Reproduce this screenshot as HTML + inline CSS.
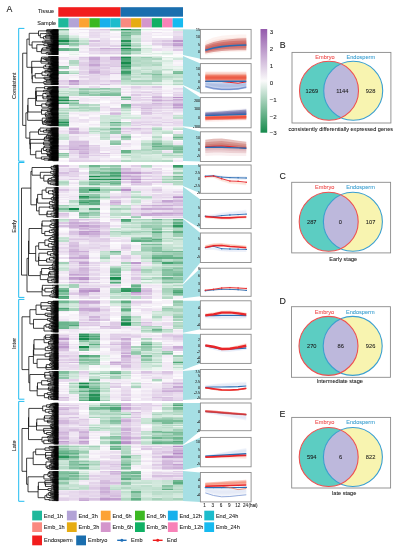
<!DOCTYPE html>
<html><head><meta charset="utf-8"><style>
html,body{margin:0;padding:0;background:#fff;}
body{width:398px;height:550px;position:relative;overflow:hidden;font-family:"Liberation Sans", Arial, sans-serif;}
</style></head><body>
<div style="position:absolute;left:58.30px;top:28.9px;width:10.45px;height:472.5px;background:linear-gradient(#67b38a 0 1.0px,#b1d8c3 0 1.7px,#d5eadf 0 3.0px,#cfe7da 0 4.3px,#c7e3d4 0 5.9px,#93c9ac 0 7.2px,#90c7aa 0 8.8px,#6eb690 0 10.8px,#168a4c 0 12.8px,#87c3a3 0 13.8px,#54a97c 0 15.8px,#f1e9f4 0 17.1px,#f1e9f4 0 17.8px,#fbf9fc 0 18.8px,#69b48c 0 20.4px,#66b28a 0 22.4px,#f6f2f8 0 24.0px,#faf7fb 0 25.0px,#fdfdfe 0 26.6px,#fbf9fc 0 27.9px,#ebdfef 0 28.9px,#efe6f3 0 30.9px,#f9f6fb 0 32.5px,#f7f2f9 0 33.5px,#f3edf6 0 35.1px,#f6f1f8 0 37.1px,#7dbe9b 0 38.1px,#9acdb2 0 39.7px,#f2ebf5 0 40.7px,#fbf9fc 0 41.7px,#efe6f3 0 42.4px,#86c2a2 0 43.7px,#6db68f 0 44.7px,#f6f1f8 0 45.7px,#f0e8f3 0 46.4px,#f6f1f8 0 47.1px,#f4eef6 0 49.1px,#f3edf6 0 50.7px,#e0cee7 0 52.7px,#e6d8eb 0 54.7px,#e3d3e9 0 56.7px,#dcc8e4 0 58.7px,#deefe6 0 59.7px,#d9ece2 0 61.0px,#dbede3 0 62.0px,#bedfcd 0 63.0px,#d8ece1 0 64.0px,#b4d9c5 0 65.0px,#cde6d9 0 67.0px,#8dc6a8 0 67.7px,#3e9e6b 0 68.7px,#74b994 0 70.3px,#65b288 0 71.0px,#168a4c 0 72.0px,#9ccdb3 0 73.0px,#7cbd9a 0 74.3px,#409f6c 0 75.3px,#f5f0f7 0 77.3px,#f8f4fa 0 78.0px,#efe6f3 0 79.0px,#b5dac6 0 80.0px,#c9e4d5 0 80.7px,#b8dbc8 0 81.7px,#d3e9dd 0 82.7px,#bedfcd 0 84.3px,#a3d1b9 0 85.3px,#cee6d9 0 86.0px,#aed6c1 0 87.3px,#bbddcb 0 88.3px,#b7dbc7 0 89.6px,#7ebe9c 0 90.3px,#7fbf9d 0 91.9px,#6cb58e 0 92.9px,#219055 0 94.2px,#69b48c 0 95.2px,#45a170 0 96.2px,#50a778 0 97.2px,#3f9e6b 0 97.9px,#fbf9fc 0 98.9px,#f2ebf5 0 99.6px,#f6f0f8 0 100.9px,#f0e7f3 0 102.5px,#ebdfef 0 103.5px,#efe6f3 0 104.5px,#e7d9ec 0 105.5px,#d2e8dc 0 106.8px,#cfe7da 0 107.8px,#c1e0cf 0 109.4px,#c4e2d2 0 110.7px,#f9f6fa 0 112.3px,#f6f1f8 0 113.9px,#f7f3f9 0 115.9px,#e1d1e8 0 117.5px,#e1d0e8 0 118.5px,#e9ddee 0 120.1px,#dbc7e3 0 121.1px,#fbf8fc 0 122.1px,#f8f5fa 0 123.7px,#8ac4a5 0 124.7px,#6eb690 0 125.4px,#add6c0 0 126.4px,#95caad 0 127.4px,#bcddcb 0 129.0px,#fdfbfd 0 131.0px,#f7f3f9 0 132.6px,#fff 0 135.6px,#eee5f2 0 136.3px,#d9c3e1 0 137.9px,#f3ecf6 0 139.5px,#e8dcee 0 140.8px,#e8dbed 0 141.8px,#e2d1e8 0 142.5px,#eadfef 0 143.2px,#d5bedf 0 145.2px,#e2d2e8 0 146.2px,#e0cee7 0 147.2px,#ece2f1 0 148.5px,#f1e9f4 0 149.5px,#eadfef 0 150.5px,#deefe6 0 152.5px,#b8dbc9 0 153.2px,#abd5be 0 154.2px,#b5dac6 0 154.9px,#bddecd 0 156.5px,#d7ebe0 0 157.2px,#d4eade 0 157.5px,#eee4f2 0 159.5px,#dfcee6 0 160.5px,#d9c4e2 0 161.5px,#d6bfdf 0 162.5px,#ebe0f0 0 164.1px,#f6f1f8 0 165.1px,#f0e8f3 0 166.7px,#f5eff7 0 168.0px,#ede4f1 0 169.0px,#f8f5fa 0 170.3px,#f2eaf5 0 171.3px,#f9f6fb 0 172.9px,#f1e9f4 0 174.5px,#f8f4fa 0 176.5px,#9dceb4 0 177.5px,#badcca 0 179.5px,#79bc98 0 181.1px,#b3d9c5 0 182.7px,#e9dcee 0 183.4px,#f1eaf4 0 184.4px,#d7c1e0 0 185.4px,#decce6 0 186.7px,#e6d8eb 0 188.3px,#eadeef 0 189.5px,#b7dbc8 0 190.5px,#c8e4d5 0 192.1px,#d5eadf 0 193.4px,#dbc6e3 0 195.0px,#efe7f3 0 196.3px,#d5bedf 0 197.9px,#ebe0f0 0 198.6px,#fbf9fc 0 199.6px,#fdfcfd 0 200.6px,#fbf9fc 0 201.9px,#f9f5fa 0 202.9px,#f6f1f8 0 204.5px,#efe5f2 0 205.8px,#f6f1f8 0 207.8px,#c9e4d5 0 208.8px,#c3e1d1 0 209.8px,#cfe7da 0 210.8px,#bbddcb 0 212.8px,#efe6f2 0 214.8px,#e9dcee 0 215.8px,#f2eaf5 0 217.8px,#e5d6eb 0 219.8px,#ede4f1 0 221.8px,#e4d5ea 0 223.1px,#e9ddee 0 224.4px,#efe6f3 0 225.7px,#decce6 0 226.4px,#fcfafd 0 228.0px,#e9ddee 0 229.6px,#fefefe 0 231.6px,#f6f1f8 0 233.2px,#a1d0b7 0 234.8px,#d3e9dd 0 235.8px,#d6eadf 0 237.1px,#e2f0e9 0 237.8px,#d1e8dc 0 239.1px,#c1e0d0 0 240.4px,#cae4d6 0 242.4px,#f1e9f4 0 244.4px,#f1e9f4 0 245.4px,#f8f3f9 0 246.4px,#f5f0f7 0 247.4px,#f3ecf5 0 248.4px,#ebe0f0 0 250.0px,#ebe0f0 0 251.0px,#f9f5fa 0 252.6px,#ebdfef 0 254.2px,#f6f1f8 0 255.1px,#b1d8c3 0 255.8px,#b7dbc8 0 257.4px,#d9ece2 0 258.4px,#dcede4 0 259.4px,#7abc99 0 261.4px,#59ab7f 0 262.7px,#8bc5a6 0 263.7px,#6db68f 0 264.4px,#80bf9e 0 266.0px,#bddecc 0 267.3px,#4ba575 0 268.3px,#5faf84 0 269.7px,#fff 0 271.4px,#b2d9c4 0 272.4px,#71b892 0 273.7px,#aad4be 0 275.0px,#bddecc 0 277.0px,#c2e1d0 0 277.7px,#b3d9c5 0 279.3px,#4ea677 0 280.0px,#76ba96 0 282.0px,#f3ecf5 0 283.0px,#faf7fb 0 285.0px,#fcfbfd 0 287.0px,#f5eff7 0 289.0px,#f5eff7 0 290.0px,#efe6f3 0 291.6px,#a5d2ba 0 292.9px,#69b38b 0 293.9px,#6cb58e 0 295.9px,#71b892 0 296.9px,#74b994 0 297.9px,#6fb790 0 298.9px,#68b38b 0 299.9px,#efe6f2 0 300.9px,#f2eaf5 0 301.9px,#f9f5fa 0 303.9px,#f9f5fa 0 304.2px,#eadeee 0 305.8px,#ddcae5 0 306.8px,#e3d4ea 0 308.4px,#d9c4e2 0 309.1px,#bc96cb 0 311.1px,#e6d8ec 0 312.4px,#dfcee6 0 313.4px,#d1b7db 0 314.7px,#c4a3d2 0 315.7px,#d3badd 0 316.7px,#be9acd 0 318.7px,#d0b6db 0 320.0px,#d7c1e0 0 321.6px,#e8dbed 0 322.6px,#d0b6db 0 323.3px,#eee4f2 0 324.3px,#e9dcee 0 325.0px,#eee5f2 0 326.0px,#dcc8e4 0 327.6px,#e7d9ec 0 328.9px,#eee5f2 0 329.9px,#e1d1e8 0 331.9px,#eee4f1 0 332.6px,#ddcae5 0 333.9px,#ece1f0 0 335.2px,#eadeee 0 336.5px,#e7daed 0 338.5px,#eee5f2 0 339.5px,#eadfef 0 340.8px,#dbc6e3 0 341.6px,#80bf9d 0 343.6px,#94c9ad 0 344.3px,#83c1a0 0 345.0px,#b3d9c5 0 346.0px,#9accb1 0 347.0px,#b6dac7 0 348.0px,#8dc6a8 0 350.0px,#e6d9ec 0 351.6px,#e7daed 0 352.6px,#e0cfe7 0 353.3px,#fcfafd 0 354.3px,#f1eaf4 0 355.3px,#fffeff 0 356.0px,#f2eaf5 0 357.3px,#f6f2f8 0 358.6px,#f4edf6 0 359.6px,#f6f1f8 0 360.3px,#f1e9f4 0 361.3px,#f7f3f9 0 362.3px,#f0e8f4 0 363.0px,#f9f6fb 0 364.6px,#ebe0f0 0 366.6px,#efe7f3 0 367.9px,#d3bbdd 0 369.5px,#e3d4e9 0 370.8px,#e0cfe7 0 371.5px,#fff 0 373.6px,#e5d6eb 0 374.3px,#ebe0f0 0 375.9px,#ddcae4 0 376.9px,#f6f1f8 0 377.9px,#d4bbdd 0 379.9px,#ccb0d8 0 380.9px,#e3d4ea 0 382.9px,#e0cfe7 0 383.9px,#decce6 0 384.9px,#d8c3e1 0 385.9px,#f0e7f3 0 387.9px,#e5d7eb 0 388.6px,#dfcde6 0 389.6px,#e1d0e7 0 391.2px,#d1b7db 0 392.8px,#d1b7db 0 394.8px,#e2d2e8 0 395.8px,#e5d6eb 0 397.1px,#ece1f0 0 398.4px,#e2d2e9 0 399.4px,#e0cfe7 0 400.1px,#dfcde6 0 401.7px,#d9c4e2 0 403.0px,#ceb3d9 0 404.3px,#d5bdde 0 406.3px,#decce5 0 407.3px,#d9c3e1 0 408.0px,#ceb3d9 0 409.6px,#dac5e2 0 410.6px,#e9dcee 0 412.2px,#c19fcf 0 413.2px,#d0b6db 0 414.8px,#ceb2d9 0 416.2px,#72b892 0 417.2px,#8cc5a6 0 418.2px,#bbddcb 0 419.5px,#94c9ad 0 421.1px,#80bf9d 0 422.4px,#6ab48d 0 424.4px,#57ab7e 0 425.4px,#83c1a0 0 426.1px,#6db68f 0 427.1px,#2b955c 0 429.1px,#84c1a0 0 430.1px,#88c3a4 0 431.1px,#cae4d6 0 432.1px,#cde6d9 0 433.1px,#c9e4d6 0 435.1px,#bcddcc 0 436.1px,#d6eae0 0 437.1px,#badcca 0 438.4px,#b7dbc8 0 440.4px,#d3e9dd 0 441.6px,#8fc7a9 0 442.6px,#7fbf9d 0 443.6px,#7abc99 0 444.6px,#89c4a4 0 446.2px,#8dc6a8 0 448.2px,#7abc99 0 449.2px,#6ab48d 0 451.2px,#b5dac6 0 453.2px,#92c8ab 0 455.2px,#b0d7c3 0 455.9px,#c9e4d6 0 457.9px,#b8dbc8 0 459.9px,#acd5bf 0 460.6px,#f1e9f4 0 461.6px,#ebe0f0 0 463.6px,#e5d6ea 0 464.3px,#e7daed 0 465.6px,#f3ecf5 0 467.6px,#decce6 0 468.3px,#e8dbed 0 469.3px,#e1d0e8 0 471.3px,#e3d3e9 0 472.5px)"></div>
<div style="position:absolute;left:68.69px;top:28.9px;width:10.45px;height:472.5px;background:linear-gradient(#f2ebf5 0 1.0px,#faf7fb 0 1.7px,#faf7fb 0 3.0px,#f9f6fa 0 4.3px,#f6f0f8 0 5.9px,#e3f1ea 0 7.2px,#d6eadf 0 8.8px,#b2d8c4 0 10.8px,#7cbd9a 0 12.8px,#bddecc 0 13.8px,#8dc6a7 0 15.8px,#a0cfb6 0 17.1px,#cfe7da 0 17.8px,#ebf5f0 0 18.8px,#89c4a4 0 20.4px,#7cbd9a 0 22.4px,#eef6f2 0 24.0px,#f3f9f5 0 25.0px,#e4f1ea 0 26.6px,#f6f1f8 0 27.9px,#f6f0f8 0 28.9px,#f2ebf5 0 30.9px,#b2d8c4 0 32.5px,#d8ebe1 0 33.5px,#b0d7c2 0 35.1px,#c6e2d3 0 37.1px,#f8f5fa 0 38.1px,#f4edf6 0 39.7px,#f8fcfa 0 40.7px,#ecf5f0 0 41.7px,#e8f3ed 0 42.4px,#cde6d9 0 43.7px,#aed6c1 0 44.7px,#f7f2f9 0 45.7px,#f5eff7 0 46.4px,#f0e7f3 0 47.1px,#f7f2f8 0 49.1px,#fbf8fc 0 50.7px,#bd98cc 0 52.7px,#ceb2d9 0 54.7px,#c6a6d3 0 56.7px,#ede3f1 0 58.7px,#c4e1d2 0 59.7px,#d1e8dc 0 61.0px,#e0efe7 0 62.0px,#c1e0cf 0 63.0px,#bedecd 0 64.0px,#c2e1d0 0 65.0px,#bfdfcd 0 67.0px,#f7f2f9 0 67.7px,#ece2f0 0 68.7px,#f8f4f9 0 70.3px,#f3ecf5 0 71.0px,#5cad82 0 72.0px,#b9dcc9 0 73.0px,#a4d1b9 0 74.3px,#80bf9e 0 75.3px,#a7d3bc 0 77.3px,#d1e8dc 0 78.0px,#c1e0cf 0 79.0px,#96caae 0 80.0px,#cee6d9 0 80.7px,#c7e3d4 0 81.7px,#d9ece2 0 82.7px,#f7f2f9 0 84.3px,#f1e9f4 0 85.3px,#f7f3f9 0 86.0px,#fbf8fc 0 87.3px,#f9f5fa 0 88.3px,#efe6f3 0 89.6px,#efe7f3 0 90.3px,#f1e9f4 0 91.9px,#eee5f2 0 92.9px,#f4eef6 0 94.2px,#f7f2f9 0 95.2px,#f7f3f9 0 96.2px,#f8f4fa 0 97.2px,#fcfbfd 0 97.9px,#e3d3e9 0 98.9px,#cdb0d8 0 99.6px,#c8a9d4 0 100.9px,#decce6 0 102.5px,#d1b6db 0 103.5px,#d0b6da 0 104.5px,#cfb5da 0 105.5px,#f2ebf5 0 106.8px,#e8dced 0 107.8px,#eadfef 0 109.4px,#eadfef 0 110.7px,#e5d6eb 0 112.3px,#d5bedf 0 113.9px,#d7c0e0 0 115.9px,#d5bedf 0 117.5px,#d4bcde 0 118.5px,#d1b8dc 0 120.1px,#c5a4d2 0 121.1px,#e6d7eb 0 122.1px,#e2d2e9 0 123.7px,#e0cee7 0 124.7px,#e0cee7 0 125.4px,#eee4f2 0 126.4px,#eadfef 0 127.4px,#f0e8f4 0 129.0px,#e9ddee 0 131.0px,#e2d1e8 0 132.6px,#fff 0 135.6px,#f4eef6 0 136.3px,#f1e8f4 0 137.9px,#f6f0f8 0 139.5px,#e0cfe7 0 140.8px,#e0cfe7 0 141.8px,#ceb3d9 0 142.5px,#d7c0e0 0 143.2px,#e4d5ea 0 145.2px,#e4d5ea 0 146.2px,#e6d7eb 0 147.2px,#e1d0e8 0 148.5px,#f1e8f4 0 149.5px,#dfcde6 0 150.5px,#fbf8fc 0 152.5px,#f9f5fa 0 153.2px,#f1e9f4 0 154.2px,#ede3f1 0 154.9px,#f9f5fa 0 156.5px,#f6f0f8 0 157.2px,#f9f6fb 0 157.5px,#f3edf6 0 159.5px,#ede3f1 0 160.5px,#ebdfef 0 161.5px,#efe6f2 0 162.5px,#f5eff7 0 164.1px,#f5f0f8 0 165.1px,#f3ecf5 0 166.7px,#ece1f0 0 168.0px,#f1eaf4 0 169.0px,#f0e8f4 0 170.3px,#f2ebf5 0 171.3px,#b5dac6 0 172.9px,#badcca 0 174.5px,#deeee6 0 176.5px,#c1e0cf 0 177.5px,#d1e8dc 0 179.5px,#168a4c 0 181.1px,#9eceb5 0 182.7px,#f8f4fa 0 183.4px,#f8f4fa 0 184.4px,#f8f5fa 0 185.4px,#f6f2f8 0 186.7px,#fbf9fc 0 188.3px,#faf7fb 0 189.5px,#d1b8db 0 190.5px,#d8c2e1 0 192.1px,#dbc7e3 0 193.4px,#c8aad5 0 195.0px,#d3badd 0 196.3px,#ccafd7 0 197.9px,#ceb2d9 0 198.6px,#dfcde6 0 199.6px,#f0e8f4 0 200.6px,#eadeef 0 201.9px,#d9c4e2 0 202.9px,#d8c2e1 0 204.5px,#dac6e3 0 205.8px,#e9ddee 0 207.8px,#ede3f1 0 208.8px,#e2d2e8 0 209.8px,#dbc6e3 0 210.8px,#e8dbed 0 212.8px,#dac5e2 0 214.8px,#d9c4e2 0 215.8px,#d3bbdd 0 217.8px,#dcc9e4 0 219.8px,#d1b7db 0 221.8px,#caacd6 0 223.1px,#d5bdde 0 224.4px,#d6bfdf 0 225.7px,#caacd6 0 226.4px,#ddcbe5 0 228.0px,#c8aad5 0 229.6px,#e7d9ec 0 231.6px,#d8c2e1 0 233.2px,#e4d5ea 0 234.8px,#ede4f1 0 235.8px,#e6d9ec 0 237.1px,#ece2f0 0 237.8px,#eadeef 0 239.1px,#e4d5ea 0 240.4px,#decce6 0 242.4px,#dac6e2 0 244.4px,#d9c4e2 0 245.4px,#c3a2d1 0 246.4px,#d1b7db 0 247.4px,#e7daed 0 248.4px,#c09dce 0 250.0px,#c8a9d4 0 251.0px,#eadeef 0 252.6px,#d2b8dc 0 254.2px,#ddcae5 0 255.1px,#64b188 0 255.8px,#a3d1b8 0 257.4px,#a4d1b9 0 258.4px,#a9d4bd 0 259.4px,#f6f1f8 0 261.4px,#eee5f2 0 262.7px,#e4d5ea 0 263.7px,#d9c4e2 0 264.4px,#dcc8e4 0 266.0px,#f6f1f8 0 267.3px,#f0e8f3 0 268.3px,#f3edf6 0 269.7px,#fff 0 271.4px,#d0e7db 0 272.4px,#9ccdb3 0 273.7px,#cae4d6 0 275.0px,#d5eadf 0 277.0px,#cce5d8 0 277.7px,#dfefe6 0 279.3px,#aed7c1 0 280.0px,#abd5be 0 282.0px,#fbf8fc 0 283.0px,#fcfafd 0 285.0px,#f6f1f8 0 287.0px,#f8f4f9 0 289.0px,#f7f2f8 0 290.0px,#faf6fb 0 291.6px,#b6dbc7 0 292.9px,#79bc98 0 293.9px,#76ba96 0 295.9px,#50a779 0 296.9px,#aad4bd 0 297.9px,#b8dbc9 0 298.9px,#b3d9c5 0 299.9px,#efe6f3 0 300.9px,#f0e8f3 0 301.9px,#f0e8f4 0 303.9px,#f4eef7 0 304.2px,#ede2f1 0 305.8px,#f6f1f8 0 306.8px,#eee4f2 0 308.4px,#f2ebf5 0 309.1px,#e9ddee 0 311.1px,#fdfdfe 0 312.4px,#faf7fb 0 313.4px,#f9f6fa 0 314.7px,#ede3f1 0 315.7px,#f6f1f8 0 316.7px,#efe7f3 0 318.7px,#efe6f3 0 320.0px,#f9f6fb 0 321.6px,#efe6f3 0 322.6px,#e3d4ea 0 323.3px,#eadeef 0 324.3px,#e8dbed 0 325.0px,#ece1f0 0 326.0px,#e3d3e9 0 327.6px,#eadeee 0 328.9px,#e7d9ec 0 329.9px,#decbe5 0 331.9px,#efe6f3 0 332.6px,#d4bbdd 0 333.9px,#f7f3f9 0 335.2px,#ece1f0 0 336.5px,#e7daed 0 338.5px,#e7d9ec 0 339.5px,#ebdfef 0 340.8px,#e4d4ea 0 341.6px,#b3d9c4 0 343.6px,#bfdfce 0 344.3px,#c0dfcf 0 345.0px,#d3e9de 0 346.0px,#d1e8dc 0 347.0px,#c8e3d5 0 348.0px,#d7ebe1 0 350.0px,#e2d2e9 0 351.6px,#eee4f2 0 352.6px,#e5d7eb 0 353.3px,#d9ece2 0 354.3px,#a3d1b9 0 355.3px,#d8ebe1 0 356.0px,#c8e3d5 0 357.3px,#b9dcc9 0 358.6px,#d7ebe0 0 359.6px,#cbe5d7 0 360.3px,#c7e3d4 0 361.3px,#c6e2d3 0 362.3px,#a6d2ba 0 363.0px,#bfdfce 0 364.6px,#f4eef6 0 366.6px,#f1e9f4 0 367.9px,#f6f1f8 0 369.5px,#f2ebf5 0 370.8px,#f4eff7 0 371.5px,#fff 0 373.6px,#dfcde6 0 374.3px,#eee5f2 0 375.9px,#dfcee6 0 376.9px,#eee5f2 0 377.9px,#dbc7e3 0 379.9px,#e7daed 0 380.9px,#ece1f0 0 382.9px,#e3d4e9 0 383.9px,#ddcae5 0 384.9px,#ddcae5 0 385.9px,#f1e8f4 0 387.9px,#d6c0e0 0 388.6px,#e9ddee 0 389.6px,#ede3f1 0 391.2px,#e1cfe7 0 392.8px,#dcc9e4 0 394.8px,#e8dbed 0 395.8px,#eee5f2 0 397.1px,#f3ecf6 0 398.4px,#e5d7eb 0 399.4px,#e2d2e9 0 400.1px,#d6bfdf 0 401.7px,#e3d3e9 0 403.0px,#efe6f3 0 404.3px,#efe6f3 0 406.3px,#f0e7f3 0 407.3px,#f3ecf6 0 408.0px,#eadeef 0 409.6px,#e8dcee 0 410.6px,#e6d8ec 0 412.2px,#e3d4e9 0 413.2px,#ddc9e4 0 414.8px,#e8dced 0 416.2px,#b0d8c3 0 417.2px,#a0cfb6 0 418.2px,#c5e2d3 0 419.5px,#bddecc 0 421.1px,#82c09f 0 422.4px,#83c1a0 0 424.4px,#63b187 0 425.4px,#89c4a5 0 426.1px,#a7d3bb 0 427.1px,#66b289 0 429.1px,#98cbb0 0 430.1px,#abd5be 0 431.1px,#b1d8c3 0 432.1px,#7cbd9b 0 433.1px,#8cc5a7 0 435.1px,#7fbf9d 0 436.1px,#8fc7a9 0 437.1px,#9bcdb2 0 438.4px,#87c3a3 0 440.4px,#c5e2d2 0 441.6px,#9fcfb6 0 442.6px,#89c4a4 0 443.6px,#68b38b 0 444.6px,#a5d2ba 0 446.2px,#77bb96 0 448.2px,#9accb1 0 449.2px,#86c2a2 0 451.2px,#cfe7da 0 453.2px,#dcede4 0 455.2px,#c7e3d4 0 455.9px,#c3e1d1 0 457.9px,#cee6d9 0 459.9px,#afd7c2 0 460.6px,#f1e9f4 0 461.6px,#e6d8ec 0 463.6px,#f0e7f3 0 464.3px,#e9dcee 0 465.6px,#e7daed 0 467.6px,#ddcae5 0 468.3px,#e9ddee 0 469.3px,#e5d6eb 0 471.3px,#efe5f2 0 472.5px)"></div>
<div style="position:absolute;left:79.08px;top:28.9px;width:10.45px;height:472.5px;background:linear-gradient(#ebe0f0 0 1.0px,#fbf9fc 0 1.7px,#fcfafd 0 3.0px,#f4edf6 0 4.3px,#faf7fb 0 5.9px,#fcfafc 0 7.2px,#f6f1f8 0 8.8px,#e1f0e8 0 10.8px,#c6e2d3 0 12.8px,#d0e7db 0 13.8px,#b6dac7 0 15.8px,#eee4f1 0 17.1px,#f4eef7 0 17.8px,#f5f0f7 0 18.8px,#f1eaf4 0 20.4px,#f6f1f8 0 22.4px,#efe7f3 0 24.0px,#fcfafd 0 25.0px,#f8f4fa 0 26.6px,#f5f0f7 0 27.9px,#dcc8e4 0 28.9px,#e3d4e9 0 30.9px,#eadeef 0 32.5px,#efe6f3 0 33.5px,#e0cfe7 0 35.1px,#decbe5 0 37.1px,#e4d6ea 0 38.1px,#e4d6ea 0 39.7px,#e5d7eb 0 40.7px,#ede3f1 0 41.7px,#f0e8f4 0 42.4px,#e1d1e8 0 43.7px,#e4d6ea 0 44.7px,#e3d4ea 0 45.7px,#e8dbed 0 46.4px,#f2ebf5 0 47.1px,#e4d5ea 0 49.1px,#f1e8f4 0 50.7px,#e1d0e8 0 52.7px,#e3d4e9 0 54.7px,#e1d1e8 0 56.7px,#f4eef7 0 58.7px,#a2d0b7 0 59.7px,#90c7aa 0 61.0px,#b5dac6 0 62.0px,#9ccdb3 0 63.0px,#95caae 0 64.0px,#7bbd9a 0 65.0px,#9ecfb5 0 67.0px,#f9f6fb 0 67.7px,#f3edf6 0 68.7px,#f0e7f3 0 70.3px,#efe7f3 0 71.0px,#efe6f3 0 72.0px,#f2eaf5 0 73.0px,#faf7fb 0 74.3px,#ede3f1 0 75.3px,#a7d3bc 0 77.3px,#c1e0cf 0 78.0px,#add6c0 0 79.0px,#afd7c2 0 80.0px,#c6e2d3 0 80.7px,#b5dac6 0 81.7px,#d2e8dc 0 82.7px,#f4eef6 0 84.3px,#f5f0f7 0 85.3px,#f0e7f3 0 86.0px,#f0e8f4 0 87.3px,#f9f5fa 0 88.3px,#fcfafd 0 89.6px,#f0e7f3 0 90.3px,#ebe0f0 0 91.9px,#eee4f1 0 92.9px,#f0e8f3 0 94.2px,#fcfafc 0 95.2px,#f9f5fa 0 96.2px,#f8f4fa 0 97.2px,#ece2f1 0 97.9px,#f4edf6 0 98.9px,#f1e9f4 0 99.6px,#efe6f2 0 100.9px,#f1e9f4 0 102.5px,#e7d9ec 0 103.5px,#ddcae4 0 104.5px,#decce5 0 105.5px,#f2eaf5 0 106.8px,#f0e7f3 0 107.8px,#f6f1f8 0 109.4px,#f6f1f8 0 110.7px,#ebe0f0 0 112.3px,#d6bfdf 0 113.9px,#d9c4e1 0 115.9px,#caacd6 0 117.5px,#ceb3d9 0 118.5px,#d4bcde 0 120.1px,#cdb0d8 0 121.1px,#d8c2e1 0 122.1px,#d2b9dc 0 123.7px,#c7a8d4 0 124.7px,#c8aad5 0 125.4px,#decce6 0 126.4px,#ddc9e4 0 127.4px,#d9c4e2 0 129.0px,#e9dcee 0 131.0px,#e3d3e9 0 132.6px,#fff 0 135.6px,#cfe7da 0 136.3px,#c2e0d0 0 137.9px,#d1e8db 0 139.5px,#f3ecf6 0 140.8px,#fdfdfe 0 141.8px,#efe7f3 0 142.5px,#faf8fb 0 143.2px,#eadeef 0 145.2px,#efe6f3 0 146.2px,#f8f4f9 0 147.2px,#eee4f2 0 148.5px,#f2ebf5 0 149.5px,#ece2f1 0 150.5px,#dcede4 0 152.5px,#c2e0d0 0 153.2px,#acd5bf 0 154.2px,#b2d9c4 0 154.9px,#b3d9c4 0 156.5px,#deefe6 0 157.2px,#d2e9dd 0 157.5px,#84c1a1 0 159.5px,#7cbd9a 0 160.5px,#6bb48d 0 161.5px,#87c3a3 0 162.5px,#72b893 0 164.1px,#d5eadf 0 165.1px,#9eceb4 0 166.7px,#229055 0 168.0px,#3f9e6b 0 169.0px,#67b38a 0 170.3px,#a3d1b9 0 171.3px,#63b187 0 172.9px,#3b9d69 0 174.5px,#78bb97 0 176.5px,#c5e2d2 0 177.5px,#dfefe6 0 179.5px,#c8e4d5 0 181.1px,#d5eadf 0 182.7px,#8fc7a9 0 183.4px,#96caaf 0 184.4px,#68b38b 0 185.4px,#84c1a0 0 186.7px,#b4d9c5 0 188.3px,#8ac4a5 0 189.5px,#d8c2e1 0 190.5px,#e7daed 0 192.1px,#f4edf6 0 193.4px,#ccb0d8 0 195.0px,#dbc7e3 0 196.3px,#bd98cc 0 197.9px,#d4bbdd 0 198.6px,#cdb1d8 0 199.6px,#d4bdde 0 200.6px,#e6d8ec 0 201.9px,#bf9bcd 0 202.9px,#c3a2d1 0 204.5px,#c09dce 0 205.8px,#dfcce6 0 207.8px,#eadeef 0 208.8px,#e2d2e9 0 209.8px,#dac6e2 0 210.8px,#ebe0ef 0 212.8px,#f4eef6 0 214.8px,#ebe0f0 0 215.8px,#e9ddee 0 217.8px,#e6d7eb 0 219.8px,#e4d5ea 0 221.8px,#cbaed7 0 223.1px,#decbe5 0 224.4px,#dfcde6 0 225.7px,#d5bedf 0 226.4px,#cdb2d9 0 228.0px,#c4a3d1 0 229.6px,#e7d9ec 0 231.6px,#d5bedf 0 233.2px,#c2a0d0 0 234.8px,#ddcae4 0 235.8px,#cfb4d9 0 237.1px,#e8dbed 0 237.8px,#d8c2e1 0 239.1px,#ceb3d9 0 240.4px,#d0b6da 0 242.4px,#d4bcde 0 244.4px,#d7c0e0 0 245.4px,#caacd6 0 246.4px,#d0b6db 0 247.4px,#e8dbed 0 248.4px,#ba93c9 0 250.0px,#b68dc7 0 251.0px,#e3d3e9 0 252.6px,#caadd6 0 254.2px,#decbe5 0 255.1px,#e0cfe7 0 255.8px,#e2d2e9 0 257.4px,#e7d9ec 0 258.4px,#ece1f0 0 259.4px,#ceb2d9 0 261.4px,#bb96cb 0 262.7px,#c5a4d2 0 263.7px,#c4a2d1 0 264.4px,#d0b6db 0 266.0px,#ddcae5 0 267.3px,#e4d5ea 0 268.3px,#ebe0f0 0 269.7px,#fff 0 271.4px,#ddcae5 0 272.4px,#c7a7d3 0 273.7px,#ceb2d9 0 275.0px,#dfcee6 0 277.0px,#decbe5 0 277.7px,#ddc9e4 0 279.3px,#c6a6d3 0 280.0px,#c9abd5 0 282.0px,#ddcae4 0 283.0px,#decce5 0 285.0px,#e3d3e9 0 287.0px,#ebe0f0 0 289.0px,#eee4f2 0 290.0px,#e5d6eb 0 291.6px,#f0e7f3 0 292.9px,#d7c0e0 0 293.9px,#e3d3e9 0 295.9px,#dcc8e4 0 296.9px,#efe7f3 0 297.9px,#f6f1f8 0 298.9px,#efe5f2 0 299.9px,#ede3f1 0 300.9px,#f9f5fa 0 301.9px,#f7f2f9 0 303.9px,#f2eaf5 0 304.2px,#2f965f 0 305.8px,#47a271 0 306.8px,#1b8c50 0 308.4px,#5cad82 0 309.1px,#168a4c 0 311.1px,#8cc5a7 0 312.4px,#84c1a1 0 313.4px,#c0dfce 0 314.7px,#bfdfce 0 315.7px,#d6eadf 0 316.7px,#168a4c 0 318.7px,#85c2a1 0 320.0px,#84c1a0 0 321.6px,#fefdfe 0 322.6px,#f3edf6 0 323.3px,#f1e9f4 0 324.3px,#f9f5fa 0 325.0px,#f2eaf5 0 326.0px,#4aa474 0 327.6px,#90c7aa 0 328.9px,#a6d2bb 0 329.9px,#7ebe9c 0 331.9px,#b7dbc7 0 332.6px,#88c3a4 0 333.9px,#a2d0b7 0 335.2px,#b7dbc8 0 336.5px,#cfe7da 0 338.5px,#d4eade 0 339.5px,#d7ebe0 0 340.8px,#bfdfce 0 341.6px,#e0cfe7 0 343.6px,#e2d2e9 0 344.3px,#e6d9ec 0 345.0px,#eadeef 0 346.0px,#f1e9f4 0 347.0px,#ece2f0 0 348.0px,#f3edf6 0 350.0px,#f8f4fa 0 351.6px,#f6f0f8 0 352.6px,#f5eff7 0 353.3px,#9accb1 0 354.3px,#168a4c 0 355.3px,#85c2a1 0 356.0px,#6bb48d 0 357.3px,#229055 0 358.6px,#99ccb0 0 359.6px,#96caae 0 360.3px,#a7d3bc 0 361.3px,#92c8ab 0 362.3px,#60af85 0 363.0px,#b2d8c4 0 364.6px,#8cc5a7 0 366.6px,#a7d3bc 0 367.9px,#76ba96 0 369.5px,#91c8aa 0 370.8px,#5fae84 0 371.5px,#fff 0 373.6px,#f1e9f4 0 374.3px,#eee5f2 0 375.9px,#f4edf6 0 376.9px,#f1eaf4 0 377.9px,#f2eaf5 0 379.9px,#f3ecf5 0 380.9px,#fdfcfe 0 382.9px,#f4eef7 0 383.9px,#faf7fb 0 384.9px,#f5eff7 0 385.9px,#f1eaf4 0 387.9px,#f2eaf5 0 388.6px,#eee4f2 0 389.6px,#ddcae4 0 391.2px,#e6d7eb 0 392.8px,#e8dbed 0 394.8px,#e6d7eb 0 395.8px,#decce6 0 397.1px,#f4eff7 0 398.4px,#e5d7eb 0 399.4px,#ece1f0 0 400.1px,#e0cfe7 0 401.7px,#d0b5da 0 403.0px,#cbafd7 0 404.3px,#d9c4e1 0 406.3px,#d9c3e1 0 407.3px,#d2b9dc 0 408.0px,#c6a6d3 0 409.6px,#e5d7eb 0 410.6px,#dfcee6 0 412.2px,#c29fcf 0 413.2px,#caacd6 0 414.8px,#d9c3e1 0 416.2px,#c4e1d1 0 417.2px,#add6c0 0 418.2px,#deefe6 0 419.5px,#cbe5d7 0 421.1px,#bcdecc 0 422.4px,#9dceb3 0 424.4px,#add6c0 0 425.4px,#dceee4 0 426.1px,#cde6d9 0 427.1px,#b5dac6 0 429.1px,#dcede4 0 430.1px,#e6f2eb 0 431.1px,#bfdfce 0 432.1px,#8fc7a9 0 433.1px,#b3d9c5 0 435.1px,#61b086 0 436.1px,#93c9ac 0 437.1px,#aed6c0 0 438.4px,#71b892 0 440.4px,#b1d8c3 0 441.6px,#daede3 0 442.6px,#dbede3 0 443.6px,#bbddcb 0 444.6px,#dbede3 0 446.2px,#a7d3bc 0 448.2px,#c2e0d0 0 449.2px,#a9d4bd 0 451.2px,#f1e9f4 0 453.2px,#f6f1f8 0 455.2px,#f0e8f4 0 455.9px,#c6e2d3 0 457.9px,#bbddca 0 459.9px,#c4e1d2 0 460.6px,#ebdfef 0 461.6px,#e1cfe7 0 463.6px,#ece2f1 0 464.3px,#e4d4ea 0 465.6px,#e8dbed 0 467.6px,#d7c0e0 0 468.3px,#e3d3e9 0 469.3px,#ceb3d9 0 471.3px,#c7a8d4 0 472.5px)"></div>
<div style="position:absolute;left:89.47px;top:28.9px;width:10.45px;height:472.5px;background:linear-gradient(#e7daed 0 1.0px,#e9ddee 0 1.7px,#eee4f2 0 3.0px,#e6d8eb 0 4.3px,#e9dcee 0 5.9px,#e6d8ec 0 7.2px,#e9dcee 0 8.8px,#f5eff7 0 10.8px,#d7c0e0 0 12.8px,#efe5f2 0 13.8px,#e2d2e8 0 15.8px,#e0cee7 0 17.1px,#e6d7eb 0 17.8px,#f3edf6 0 18.8px,#decbe5 0 20.4px,#e1d0e7 0 22.4px,#eadeef 0 24.0px,#e7d9ec 0 25.0px,#f4edf6 0 26.6px,#e7d9ec 0 27.9px,#c7a8d4 0 28.9px,#c6a6d3 0 30.9px,#d2b9dc 0 32.5px,#e7daed 0 33.5px,#d4bcde 0 35.1px,#c5a4d2 0 37.1px,#d5bdde 0 38.1px,#ddcae5 0 39.7px,#d6c0df 0 40.7px,#d6bedf 0 41.7px,#d8c2e1 0 42.4px,#caacd6 0 43.7px,#d1b8dc 0 44.7px,#e7daed 0 45.7px,#decce5 0 46.4px,#e3d4e9 0 47.1px,#e6d7eb 0 49.1px,#e4d5ea 0 50.7px,#e3d3e9 0 52.7px,#e8dbed 0 54.7px,#e7d9ec 0 56.7px,#e8dbed 0 58.7px,#a9d4bd 0 59.7px,#97cbaf 0 61.0px,#cce5d7 0 62.0px,#b5dac6 0 63.0px,#9fcfb5 0 64.0px,#aed7c1 0 65.0px,#90c7a9 0 67.0px,#faf6fb 0 67.7px,#efe5f2 0 68.7px,#f8f4fa 0 70.3px,#f0e7f3 0 71.0px,#f3ecf5 0 72.0px,#f4eff7 0 73.0px,#faf7fb 0 74.3px,#faf7fb 0 75.3px,#b8dbc8 0 77.3px,#d7ebe0 0 78.0px,#b0d7c2 0 79.0px,#b0d8c3 0 80.0px,#b2d8c4 0 80.7px,#bedecd 0 81.7px,#dcede4 0 82.7px,#f2ebf5 0 84.3px,#f5eff7 0 85.3px,#f6f0f8 0 86.0px,#fbf8fc 0 87.3px,#faf7fb 0 88.3px,#efe6f3 0 89.6px,#fefefe 0 90.3px,#f2ebf5 0 91.9px,#fcfafc 0 92.9px,#faf7fb 0 94.2px,#faf7fb 0 95.2px,#f1e9f4 0 96.2px,#f6f1f8 0 97.2px,#f7f3f9 0 97.9px,#cce5d8 0 98.9px,#bbddcb 0 99.6px,#bddecc 0 100.9px,#d2e8dc 0 102.5px,#b5dac6 0 103.5px,#d8ebe1 0 104.5px,#a9d4bd 0 105.5px,#f4edf6 0 106.8px,#fbf9fc 0 107.8px,#f6f0f8 0 109.4px,#f5eff7 0 110.7px,#f6f1f8 0 112.3px,#f6f1f8 0 113.9px,#f8f5fa 0 115.9px,#e0cee7 0 117.5px,#e7d9ec 0 118.5px,#e1d1e8 0 120.1px,#dfcee6 0 121.1px,#e0cfe7 0 122.1px,#e2d2e9 0 123.7px,#e5d6eb 0 124.7px,#e3d4e9 0 125.4px,#ebdfef 0 126.4px,#dfcee7 0 127.4px,#efe7f3 0 129.0px,#eee4f2 0 131.0px,#e3d3e9 0 132.6px,#fff 0 135.6px,#b9dcc9 0 136.3px,#6fb790 0 137.9px,#a4d1b9 0 139.5px,#aed6c0 0 140.8px,#b4d9c5 0 141.8px,#97cbaf 0 142.5px,#85c1a1 0 143.2px,#8ac4a5 0 145.2px,#b0d7c2 0 146.2px,#a2d0b7 0 147.2px,#168a4c 0 148.5px,#97cbaf 0 149.5px,#168a4c 0 150.5px,#b5dac6 0 152.5px,#97cbaf 0 153.2px,#7ebe9c 0 154.2px,#88c3a4 0 154.9px,#71b892 0 156.5px,#c7e3d4 0 157.2px,#afd7c1 0 157.5px,#82c09f 0 159.5px,#3c9d69 0 160.5px,#168a4c 0 161.5px,#41a06d 0 162.5px,#a2d0b8 0 164.1px,#d5eadf 0 165.1px,#92c8ab 0 166.7px,#7ebe9c 0 168.0px,#65b188 0 169.0px,#9eceb5 0 170.3px,#b1d8c3 0 171.3px,#53a87b 0 172.9px,#6ab48d 0 174.5px,#61af85 0 176.5px,#d3e9dd 0 177.5px,#e1f0e8 0 179.5px,#54a97b 0 181.1px,#bcddcc 0 182.7px,#7ebe9c 0 183.4px,#93c9ac 0 184.4px,#9accb2 0 185.4px,#a1d0b7 0 186.7px,#d8ece1 0 188.3px,#b7dbc8 0 189.5px,#ddcae5 0 190.5px,#ede3f1 0 192.1px,#e6d9ec 0 193.4px,#d6bedf 0 195.0px,#e2d2e9 0 196.3px,#caadd6 0 197.9px,#ceb3d9 0 198.6px,#decce6 0 199.6px,#d4bcde 0 200.6px,#dcc8e4 0 201.9px,#be9acd 0 202.9px,#cdb1d8 0 204.5px,#caacd6 0 205.8px,#d7c1e0 0 207.8px,#e2d2e9 0 208.8px,#e3d4e9 0 209.8px,#e3d3e9 0 210.8px,#e1d0e8 0 212.8px,#ebdfef 0 214.8px,#e5d7eb 0 215.8px,#e8dcee 0 217.8px,#e2d2e8 0 219.8px,#eee5f2 0 221.8px,#f4edf6 0 223.1px,#f2ebf5 0 224.4px,#f9f6fa 0 225.7px,#f4eef7 0 226.4px,#f8f5fa 0 228.0px,#f0e8f4 0 229.6px,#fbf9fc 0 231.6px,#f7f3f9 0 233.2px,#e3d4ea 0 234.8px,#efe6f3 0 235.8px,#e6d7eb 0 237.1px,#f5eff7 0 237.8px,#e7daed 0 239.1px,#ebe0f0 0 240.4px,#e2d2e9 0 242.4px,#eee4f2 0 244.4px,#e6d8ec 0 245.4px,#e4d5ea 0 246.4px,#e7daec 0 247.4px,#f4eef7 0 248.4px,#e3d3e9 0 250.0px,#ddcbe5 0 251.0px,#f6f1f8 0 252.6px,#dfcee7 0 254.2px,#ebe0f0 0 255.1px,#e4d5ea 0 255.8px,#e8dced 0 257.4px,#e6d9ec 0 258.4px,#ede3f1 0 259.4px,#cbaed6 0 261.4px,#b68dc6 0 262.7px,#e7daec 0 263.7px,#e2d2e9 0 264.4px,#e6d8ec 0 266.0px,#f3ecf5 0 267.3px,#e8dcee 0 268.3px,#e5d7eb 0 269.7px,#fff 0 271.4px,#e1d1e8 0 272.4px,#c8a9d4 0 273.7px,#cfb4da 0 275.0px,#ebe0f0 0 277.0px,#e6d8ec 0 277.7px,#dcc8e4 0 279.3px,#c8aad5 0 280.0px,#c5a5d2 0 282.0px,#d3badd 0 283.0px,#e7daec 0 285.0px,#e7daed 0 287.0px,#ceb3d9 0 289.0px,#decce6 0 290.0px,#d0b6db 0 291.6px,#f0e8f4 0 292.9px,#ddcae5 0 293.9px,#e2d1e8 0 295.9px,#dcc8e4 0 296.9px,#f3ecf6 0 297.9px,#f9f5fa 0 298.9px,#f0e8f4 0 299.9px,#f2ebf5 0 300.9px,#f9f6fb 0 301.9px,#efe6f3 0 303.9px,#ece1f0 0 304.2px,#6eb68f 0 305.8px,#7dbe9b 0 306.8px,#52a87a 0 308.4px,#7bbd9a 0 309.1px,#55aa7c 0 311.1px,#b9dcc9 0 312.4px,#add6c0 0 313.4px,#a3d1b8 0 314.7px,#5bad81 0 315.7px,#afd7c1 0 316.7px,#acd6c0 0 318.7px,#d0e7db 0 320.0px,#d7ebe0 0 321.6px,#faf8fb 0 322.6px,#f7f3f9 0 323.3px,#fbf9fc 0 324.3px,#f4eff7 0 325.0px,#f8f5fa 0 326.0px,#62b086 0 327.6px,#97cbaf 0 328.9px,#bbddcb 0 329.9px,#87c3a3 0 331.9px,#a0cfb6 0 332.6px,#92c9ac 0 333.9px,#a8d3bc 0 335.2px,#9bcdb2 0 336.5px,#f8f5fa 0 338.5px,#f8f5fa 0 339.5px,#fefdfe 0 340.8px,#eadeee 0 341.6px,#d6ebe0 0 343.6px,#b9dcc9 0 344.3px,#a8d3bc 0 345.0px,#c8e3d5 0 346.0px,#e7f3ec 0 347.0px,#c4e1d2 0 348.0px,#c1e0cf 0 350.0px,#70b791 0 351.6px,#cce5d8 0 352.6px,#b1d8c3 0 353.3px,#acd5bf 0 354.3px,#7dbe9b 0 355.3px,#a8d3bc 0 356.0px,#a3d1b8 0 357.3px,#89c4a4 0 358.6px,#64b188 0 359.6px,#78bb97 0 360.3px,#8ac4a5 0 361.3px,#47a372 0 362.3px,#419f6d 0 363.0px,#73b994 0 364.6px,#259157 0 366.6px,#4ea677 0 367.9px,#2b945c 0 369.5px,#2a945b 0 370.8px,#168a4c 0 371.5px,#fff 0 373.6px,#bddecc 0 374.3px,#dbede3 0 375.9px,#badcca 0 376.9px,#c8e3d4 0 377.9px,#77bb97 0 379.9px,#74b994 0 380.9px,#c2e1d0 0 382.9px,#b6dac7 0 383.9px,#b8dbc8 0 384.9px,#bbddcb 0 385.9px,#d8ebe1 0 387.9px,#a7d3bb 0 388.6px,#faf7fb 0 389.6px,#f1e9f4 0 391.2px,#f6f1f8 0 392.8px,#f5eff7 0 394.8px,#daece2 0 395.8px,#c2e0d0 0 397.1px,#e3f1ea 0 398.4px,#a9d4bd 0 399.4px,#c6e3d4 0 400.1px,#b5dac6 0 401.7px,#f2ebf5 0 403.0px,#efe6f2 0 404.3px,#f7f2f8 0 406.3px,#f2ebf5 0 407.3px,#f9f6fa 0 408.0px,#f3ecf6 0 409.6px,#fdfcfe 0 410.6px,#f7f2f9 0 412.2px,#f9f5fa 0 413.2px,#f9f6fb 0 414.8px,#faf6fb 0 416.2px,#b2d8c4 0 417.2px,#a2d0b8 0 418.2px,#c0dfce 0 419.5px,#c4e1d1 0 421.1px,#f9f6fa 0 422.4px,#f7f3f9 0 424.4px,#f2ebf5 0 425.4px,#f5eff7 0 426.1px,#faf8fb 0 427.1px,#f9f5fa 0 429.1px,#f3ecf5 0 430.1px,#f5eff7 0 431.1px,#e2f0e9 0 432.1px,#b1d8c3 0 433.1px,#badcca 0 435.1px,#a6d2ba 0 436.1px,#c0e0cf 0 437.1px,#d5eade 0 438.4px,#cee6d9 0 440.4px,#c3e1d1 0 441.6px,#f6f2f8 0 442.6px,#f4edf6 0 443.6px,#f0e7f3 0 444.6px,#efe6f3 0 446.2px,#e0cfe7 0 448.2px,#eee4f2 0 449.2px,#e5d6ea 0 451.2px,#f0e8f4 0 453.2px,#e4d5ea 0 455.2px,#eadeef 0 455.9px,#e5d6ea 0 457.9px,#dcc9e4 0 459.9px,#e1d0e8 0 460.6px,#ece2f0 0 461.6px,#e3d4ea 0 463.6px,#ece1f0 0 464.3px,#e7d9ec 0 465.6px,#e3d4ea 0 467.6px,#ece2f1 0 468.3px,#ebe1f0 0 469.3px,#d8c3e1 0 471.3px,#e4d4ea 0 472.5px)"></div>
<div style="position:absolute;left:99.87px;top:28.9px;width:10.45px;height:472.5px;background:linear-gradient(#dbc7e3 0 1.0px,#eadeef 0 1.7px,#efe6f2 0 3.0px,#eadeee 0 4.3px,#f2ebf5 0 5.9px,#eee4f2 0 7.2px,#f1e9f4 0 8.8px,#ebe0f0 0 10.8px,#e7daed 0 12.8px,#e9dcee 0 13.8px,#e6d8eb 0 15.8px,#e3d4ea 0 17.1px,#ece1f0 0 17.8px,#efe6f3 0 18.8px,#cbadd6 0 20.4px,#dbc7e3 0 22.4px,#e4d5ea 0 24.0px,#decce5 0 25.0px,#f3ecf5 0 26.6px,#f3ecf6 0 27.9px,#e1d0e8 0 28.9px,#e2d2e9 0 30.9px,#e1d0e8 0 32.5px,#f1eaf4 0 33.5px,#e7d9ec 0 35.1px,#ddcae5 0 37.1px,#e5d6eb 0 38.1px,#decce6 0 39.7px,#e8daed 0 40.7px,#e3d3e9 0 41.7px,#ede3f1 0 42.4px,#dfcce6 0 43.7px,#dfcde6 0 44.7px,#dcc8e4 0 45.7px,#e8daed 0 46.4px,#e6d8ec 0 47.1px,#ebe0f0 0 49.1px,#eee5f2 0 50.7px,#e5d6eb 0 52.7px,#ede2f1 0 54.7px,#d7c0e0 0 56.7px,#f6f1f8 0 58.7px,#8cc5a7 0 59.7px,#a3d1b8 0 61.0px,#cce5d8 0 62.0px,#a1d0b7 0 63.0px,#a8d3bc 0 64.0px,#87c3a2 0 65.0px,#7abc99 0 67.0px,#fcfafd 0 67.7px,#eadfef 0 68.7px,#f3ecf5 0 70.3px,#f5eff7 0 71.0px,#f8f5fa 0 72.0px,#fefdfe 0 73.0px,#fefdfe 0 74.3px,#f4edf6 0 75.3px,#f5f0f7 0 77.3px,#eee4f2 0 78.0px,#ebdfef 0 79.0px,#f0e7f3 0 80.0px,#f1e9f4 0 80.7px,#eee5f2 0 81.7px,#f8f4fa 0 82.7px,#fbf9fc 0 84.3px,#eee4f2 0 85.3px,#f8f4f9 0 86.0px,#d0e7db 0 87.3px,#cee7da 0 88.3px,#cee6d9 0 89.6px,#c0e0cf 0 90.3px,#d1e8dc 0 91.9px,#d1e8dc 0 92.9px,#b9dcc9 0 94.2px,#c7e3d4 0 95.2px,#cee7da 0 96.2px,#cde6d8 0 97.2px,#aed6c1 0 97.9px,#c4e1d1 0 98.9px,#bedecd 0 99.6px,#a4d1b9 0 100.9px,#c2e0d0 0 102.5px,#d5eadf 0 103.5px,#b7dbc8 0 104.5px,#aed6c1 0 105.5px,#c7e3d4 0 106.8px,#c6e3d3 0 107.8px,#b5dac6 0 109.4px,#c6e2d3 0 110.7px,#fbf9fc 0 112.3px,#f8f4f9 0 113.9px,#f6f2f8 0 115.9px,#f7f3f9 0 117.5px,#f8f5fa 0 118.5px,#efe6f3 0 120.1px,#f1e8f4 0 121.1px,#ede2f1 0 122.1px,#f9f5fa 0 123.7px,#dbc6e3 0 124.7px,#e4d5ea 0 125.4px,#f2eaf5 0 126.4px,#e3d3e9 0 127.4px,#f0e8f4 0 129.0px,#f6f0f8 0 131.0px,#eee5f2 0 132.6px,#fff 0 135.6px,#d3e9de 0 136.3px,#9ccdb3 0 137.9px,#d3e9dd 0 139.5px,#95caad 0 140.8px,#b1d8c3 0 141.8px,#87c3a3 0 142.5px,#a3d1b8 0 143.2px,#6db68f 0 145.2px,#a8d3bc 0 146.2px,#82c09f 0 147.2px,#4ea677 0 148.5px,#98cbb0 0 149.5px,#2d965e 0 150.5px,#acd6c0 0 152.5px,#a5d2ba 0 153.2px,#72b892 0 154.2px,#b4d9c5 0 154.9px,#b1d8c3 0 156.5px,#c6e2d3 0 157.2px,#cae4d6 0 157.5px,#c5e2d2 0 159.5px,#b4dac6 0 160.5px,#9dceb4 0 161.5px,#9bcdb2 0 162.5px,#b7dbc8 0 164.1px,#d8ece1 0 165.1px,#d3e9de 0 166.7px,#c0dfce 0 168.0px,#9fcfb5 0 169.0px,#cee6d9 0 170.3px,#e3f1e9 0 171.3px,#faf7fb 0 172.9px,#f8f4f9 0 174.5px,#f1e9f4 0 176.5px,#f4edf6 0 177.5px,#f9f5fa 0 179.5px,#f8f4fa 0 181.1px,#fdfcfd 0 182.7px,#f2ebf5 0 183.4px,#f9f6fa 0 184.4px,#ece1f0 0 185.4px,#f7f3f9 0 186.7px,#f1e9f4 0 188.3px,#f4eef6 0 189.5px,#faf7fb 0 190.5px,#faf7fb 0 192.1px,#fefdfe 0 193.4px,#e2d2e9 0 195.0px,#e5d7eb 0 196.3px,#dac5e2 0 197.9px,#e1d0e8 0 198.6px,#e3d3e9 0 199.6px,#e8dbed 0 200.6px,#ede2f1 0 201.9px,#dfcee6 0 202.9px,#dcc9e4 0 204.5px,#dac6e3 0 205.8px,#ebe0f0 0 207.8px,#f2ebf5 0 208.8px,#e0cfe7 0 209.8px,#ddcae5 0 210.8px,#e1d0e7 0 212.8px,#ede3f1 0 214.8px,#eee4f2 0 215.8px,#e3d4e9 0 217.8px,#e9ddee 0 219.8px,#ebdfef 0 221.8px,#c1e0cf 0 223.1px,#cbe5d7 0 224.4px,#c8e3d5 0 225.7px,#c0dfce 0 226.4px,#b6dac7 0 228.0px,#9eceb5 0 229.6px,#dfefe7 0 231.6px,#d7ebe0 0 233.2px,#eadfef 0 234.8px,#f9f5fa 0 235.8px,#f5eff7 0 237.1px,#faf7fb 0 237.8px,#f6f1f8 0 239.1px,#f2ebf5 0 240.4px,#f2eaf5 0 242.4px,#f1e9f4 0 244.4px,#f5eff7 0 245.4px,#f5f0f7 0 246.4px,#f1eaf5 0 247.4px,#fdfcfe 0 248.4px,#eee5f2 0 250.0px,#f7f3f9 0 251.0px,#f6f0f8 0 252.6px,#f1e9f4 0 254.2px,#f9f6fb 0 255.1px,#e2d2e8 0 255.8px,#ece2f0 0 257.4px,#e4d5ea 0 258.4px,#ece2f0 0 259.4px,#f6f1f8 0 261.4px,#f4edf6 0 262.7px,#f4eef7 0 263.7px,#f1e9f4 0 264.4px,#f0e8f3 0 266.0px,#f3ecf6 0 267.3px,#efe6f2 0 268.3px,#f7f3f9 0 269.7px,#fff 0 271.4px,#f1e9f4 0 272.4px,#eee4f2 0 273.7px,#f2eaf5 0 275.0px,#faf7fb 0 277.0px,#e8daed 0 277.7px,#ede3f1 0 279.3px,#eadeef 0 280.0px,#dfcce6 0 282.0px,#e9dcee 0 283.0px,#ebe0ef 0 285.0px,#e5d6eb 0 287.0px,#eadeef 0 289.0px,#e8dcee 0 290.0px,#dcc9e4 0 291.6px,#fdfbfd 0 292.9px,#f1e9f4 0 293.9px,#f0e7f3 0 295.9px,#f2eaf5 0 296.9px,#d3badd 0 297.9px,#e2d2e9 0 298.9px,#e2d1e8 0 299.9px,#f8f5fa 0 300.9px,#f8f4f9 0 301.9px,#f6f1f8 0 303.9px,#f6f1f8 0 304.2px,#f3ecf6 0 305.8px,#f3edf6 0 306.8px,#f4eef6 0 308.4px,#f4eef7 0 309.1px,#eee5f2 0 311.1px,#f6f1f8 0 312.4px,#fbf8fc 0 313.4px,#fbf9fc 0 314.7px,#ebe0f0 0 315.7px,#f5eff7 0 316.7px,#ece2f1 0 318.7px,#fbf9fc 0 320.0px,#fbf9fc 0 321.6px,#f6f1f8 0 322.6px,#efe7f3 0 323.3px,#f6f1f8 0 324.3px,#f3ecf6 0 325.0px,#f3ecf6 0 326.0px,#e0efe7 0 327.6px,#f1f8f4 0 328.9px,#e5f2eb 0 329.9px,#ebf5f0 0 331.9px,#fdfcfe 0 332.6px,#f1e9f4 0 333.9px,#f8f4fa 0 335.2px,#f1eaf4 0 336.5px,#e5f2eb 0 338.5px,#e8f3ed 0 339.5px,#f4faf7 0 340.8px,#e0efe7 0 341.6px,#bedecd 0 343.6px,#cae4d6 0 344.3px,#a1d0b7 0 345.0px,#eaf5ef 0 346.0px,#c9e4d5 0 347.0px,#e8f3ed 0 348.0px,#cae4d6 0 350.0px,#f4eef6 0 351.6px,#f9f6fb 0 352.6px,#f4edf6 0 353.3px,#d0e7db 0 354.3px,#c1e0cf 0 355.3px,#d9ece2 0 356.0px,#d3e9dd 0 357.3px,#d0e7db 0 358.6px,#b5dac6 0 359.6px,#cfe7da 0 360.3px,#cde6d9 0 361.3px,#bddecc 0 362.3px,#baddca 0 363.0px,#dfefe6 0 364.6px,#cde6d8 0 366.6px,#bedecd 0 367.9px,#c3e1d1 0 369.5px,#cbe5d7 0 370.8px,#9eceb4 0 371.5px,#fff 0 373.6px,#8ac4a5 0 374.3px,#a1d0b7 0 375.9px,#6bb48d 0 376.9px,#c3e1d1 0 377.9px,#6ab48c 0 379.9px,#89c4a4 0 380.9px,#c2e0d0 0 382.9px,#c3e1d1 0 383.9px,#b2d8c4 0 384.9px,#abd5bf 0 385.9px,#cfe7da 0 387.9px,#b7dbc8 0 388.6px,#c3e1d1 0 389.6px,#cde6d8 0 391.2px,#a7d3bc 0 392.8px,#b2d9c4 0 394.8px,#cae4d6 0 395.8px,#cce5d7 0 397.1px,#d5eadf 0 398.4px,#c5e2d2 0 399.4px,#aed6c1 0 400.1px,#cae5d7 0 401.7px,#f2ebf5 0 403.0px,#f0e8f3 0 404.3px,#f7f3f9 0 406.3px,#f7f3f9 0 407.3px,#bfdfce 0 408.0px,#9accb1 0 409.6px,#cae4d6 0 410.6px,#ddeee5 0 412.2px,#b4d9c6 0 413.2px,#b2d8c4 0 414.8px,#d8ece1 0 416.2px,#f8f4fa 0 417.2px,#eee4f2 0 418.2px,#fbf9fc 0 419.5px,#f9f5fa 0 421.1px,#f8f4f9 0 422.4px,#f2eaf5 0 424.4px,#efe5f2 0 425.4px,#f4edf6 0 426.1px,#f3ecf6 0 427.1px,#ece1f0 0 429.1px,#f5eff7 0 430.1px,#fcfafd 0 431.1px,#ede3f1 0 432.1px,#e5d6eb 0 433.1px,#e1d0e7 0 435.1px,#dfcde6 0 436.1px,#ebe0f0 0 437.1px,#eadeef 0 438.4px,#e4d5ea 0 440.4px,#eadeef 0 441.6px,#dfcde6 0 442.6px,#e5d7eb 0 443.6px,#e9dcee 0 444.6px,#ece2f0 0 446.2px,#e3d3e9 0 448.2px,#e5d6eb 0 449.2px,#e4d5ea 0 451.2px,#d6bfdf 0 453.2px,#d2b9dc 0 455.2px,#dfcde6 0 455.9px,#dcc8e4 0 457.9px,#ccb0d8 0 459.9px,#ceb3d9 0 460.6px,#d5bedf 0 461.6px,#caadd6 0 463.6px,#dcc8e4 0 464.3px,#d5bdde 0 465.6px,#ddc9e4 0 467.6px,#d7c0e0 0 468.3px,#d5bedf 0 469.3px,#be9acd 0 471.3px,#d5bdde 0 472.5px)"></div>
<div style="position:absolute;left:110.26px;top:28.9px;width:10.45px;height:472.5px;background:linear-gradient(#a2d0b8 0 1.0px,#c0dfcf 0 1.7px,#f9f6fa 0 3.0px,#fcfafd 0 4.3px,#f6f1f8 0 5.9px,#f7f3f9 0 7.2px,#f3ecf6 0 8.8px,#fdfbfd 0 10.8px,#eee4f2 0 12.8px,#f4edf6 0 13.8px,#f1e9f4 0 15.8px,#e1d1e8 0 17.1px,#e1d0e8 0 17.8px,#f7f2f9 0 18.8px,#cfb5da 0 20.4px,#decce6 0 22.4px,#e8dbed 0 24.0px,#e0cfe7 0 25.0px,#f3ecf5 0 26.6px,#e4d5ea 0 27.9px,#c4a3d1 0 28.9px,#cbaed7 0 30.9px,#e0cee7 0 32.5px,#e5d6eb 0 33.5px,#e0cee7 0 35.1px,#dfcee6 0 37.1px,#dbc6e3 0 38.1px,#ede2f1 0 39.7px,#eadeee 0 40.7px,#ede3f1 0 41.7px,#e5d7eb 0 42.4px,#e9ddee 0 43.7px,#dac5e2 0 44.7px,#f4eef7 0 45.7px,#f7f3f9 0 46.4px,#f6f0f8 0 47.1px,#f6f0f8 0 49.1px,#f7f2f9 0 50.7px,#d9c4e2 0 52.7px,#e6d8ec 0 54.7px,#eadfef 0 56.7px,#f6f1f8 0 58.7px,#a6d2ba 0 59.7px,#a9d4bd 0 61.0px,#b6dac7 0 62.0px,#b9dcc9 0 63.0px,#9fcfb5 0 64.0px,#86c2a2 0 65.0px,#7ebe9c 0 67.0px,#f6f1f8 0 67.7px,#f2ebf5 0 68.7px,#f7f3f9 0 70.3px,#f7f2f9 0 71.0px,#f2ebf5 0 72.0px,#f6f1f8 0 73.0px,#f1e8f4 0 74.3px,#efe5f2 0 75.3px,#f7f2f9 0 77.3px,#fbf9fc 0 78.0px,#f8f4fa 0 79.0px,#ddcae4 0 80.0px,#e4d5ea 0 80.7px,#e2d1e8 0 81.7px,#f2ebf5 0 82.7px,#dfcde6 0 84.3px,#d1b7db 0 85.3px,#d7c1e0 0 86.0px,#cfe7da 0 87.3px,#c8e4d5 0 88.3px,#d2e9dd 0 89.6px,#d1e8dc 0 90.3px,#c5e2d3 0 91.9px,#cfe7da 0 92.9px,#65b289 0 94.2px,#a2d0b8 0 95.2px,#99ccb1 0 96.2px,#91c8ab 0 97.2px,#85c2a1 0 97.9px,#b6dac7 0 98.9px,#6db68f 0 99.6px,#7abc98 0 100.9px,#b4d9c6 0 102.5px,#95caad 0 103.5px,#96caaf 0 104.5px,#87c3a3 0 105.5px,#f1eaf4 0 106.8px,#ede2f1 0 107.8px,#ebdfef 0 109.4px,#f6f0f8 0 110.7px,#bddecc 0 112.3px,#98cbb0 0 113.9px,#87c3a3 0 115.9px,#fcfafd 0 117.5px,#ede3f1 0 118.5px,#f0e8f4 0 120.1px,#ece1f0 0 121.1px,#f1e9f4 0 122.1px,#efe7f3 0 123.7px,#ece1f0 0 124.7px,#f1eaf4 0 125.4px,#f9f5fa 0 126.4px,#f4edf6 0 127.4px,#fcfbfd 0 129.0px,#f4eef7 0 131.0px,#e7d9ec 0 132.6px,#fff 0 135.6px,#b7dbc8 0 136.3px,#90c7aa 0 137.9px,#b2d8c4 0 139.5px,#8cc5a7 0 140.8px,#97cbaf 0 141.8px,#78bb97 0 142.5px,#98cbb0 0 143.2px,#4ea677 0 145.2px,#73b993 0 146.2px,#46a271 0 147.2px,#57ab7e 0 148.5px,#93c9ac 0 149.5px,#168a4c 0 150.5px,#bcddcb 0 152.5px,#83c1a0 0 153.2px,#7bbd9a 0 154.2px,#69b38b 0 154.9px,#8ec6a8 0 156.5px,#b1d8c3 0 157.2px,#b3d9c4 0 157.5px,#cfe7da 0 159.5px,#b4d9c5 0 160.5px,#9dceb3 0 161.5px,#b7dbc8 0 162.5px,#faf7fb 0 164.1px,#f1eaf4 0 165.1px,#eee5f2 0 166.7px,#e3d3e9 0 168.0px,#decce5 0 169.0px,#e9dcee 0 170.3px,#f3ecf5 0 171.3px,#d5bedf 0 172.9px,#c8a9d4 0 174.5px,#d8c1e0 0 176.5px,#c0dfcf 0 177.5px,#d8ece1 0 179.5px,#a4d1b9 0 181.1px,#cfe7da 0 182.7px,#b0d7c2 0 183.4px,#cce5d8 0 184.4px,#bcddcb 0 185.4px,#bcddcb 0 186.7px,#e3f1ea 0 188.3px,#c9e4d5 0 189.5px,#dfcee6 0 190.5px,#eadeee 0 192.1px,#efe6f3 0 193.4px,#f8f5fa 0 195.0px,#f9f6fb 0 196.3px,#ece2f1 0 197.9px,#f8f5fa 0 198.6px,#d0e8db 0 199.6px,#cee7da 0 200.6px,#e5f2eb 0 201.9px,#aad4be 0 202.9px,#bedecd 0 204.5px,#c3e1d1 0 205.8px,#cfe7da 0 207.8px,#f6f0f8 0 208.8px,#eee4f2 0 209.8px,#f6f1f8 0 210.8px,#ece1f0 0 212.8px,#fdfcfe 0 214.8px,#f9f5fa 0 215.8px,#f9f6fb 0 217.8px,#f8f3f9 0 219.8px,#efe6f2 0 221.8px,#70b791 0 223.1px,#97cbaf 0 224.4px,#aed6c1 0 225.7px,#6eb68f 0 226.4px,#f7f2f9 0 228.0px,#ede3f1 0 229.6px,#f8f4f9 0 231.6px,#f3ecf5 0 233.2px,#f5eff7 0 234.8px,#f7f3f9 0 235.8px,#f0e7f3 0 237.1px,#c0e0cf 0 237.8px,#acd5bf 0 239.1px,#85c2a1 0 240.4px,#7abc99 0 242.4px,#74b994 0 244.4px,#9bcdb2 0 245.4px,#88c3a4 0 246.4px,#70b791 0 247.4px,#b9dcc9 0 248.4px,#168a4c 0 250.0px,#2b955c 0 251.0px,#b1d8c3 0 252.6px,#50a779 0 254.2px,#46a271 0 255.1px,#e3d3e9 0 255.8px,#e2d2e8 0 257.4px,#eee5f2 0 258.4px,#f5eff7 0 259.4px,#add6c0 0 261.4px,#9eceb5 0 262.7px,#97cbaf 0 263.7px,#b9dcc9 0 264.4px,#c6e3d3 0 266.0px,#ddeee5 0 267.3px,#bcdecc 0 268.3px,#c1e0cf 0 269.7px,#fff 0 271.4px,#d3e9de 0 272.4px,#b0d7c2 0 273.7px,#d0e7db 0 275.0px,#daede3 0 277.0px,#f1eaf4 0 277.7px,#fdfcfe 0 279.3px,#f4eef7 0 280.0px,#f5eff7 0 282.0px,#faf8fb 0 283.0px,#f1e9f4 0 285.0px,#f2ebf5 0 287.0px,#f9f6fb 0 289.0px,#ffffff 0 290.0px,#fbf8fc 0 291.6px,#efe6f2 0 292.9px,#ddcbe5 0 293.9px,#decbe5 0 295.9px,#e1d0e8 0 296.9px,#d9c4e1 0 297.9px,#dbc7e3 0 298.9px,#d8c2e1 0 299.9px,#fbf8fc 0 300.9px,#faf8fb 0 301.9px,#f6f1f8 0 303.9px,#f4eef7 0 304.2px,#dfcde6 0 305.8px,#e2d2e9 0 306.8px,#e0cfe7 0 308.4px,#e1d0e8 0 309.1px,#ddc9e4 0 311.1px,#f4edf6 0 312.4px,#eee5f2 0 313.4px,#e2d1e8 0 314.7px,#d4bcde 0 315.7px,#eee5f2 0 316.7px,#eadfef 0 318.7px,#e6d8ec 0 320.0px,#e3d4e9 0 321.6px,#f2eaf5 0 322.6px,#e8dbed 0 323.3px,#efe6f3 0 324.3px,#f1e9f4 0 325.0px,#f4eef6 0 326.0px,#f9f5fa 0 327.6px,#f8f5fa 0 328.9px,#efe6f3 0 329.9px,#f7f2f9 0 331.9px,#e2d2e8 0 332.6px,#c5a4d2 0 333.9px,#d7c1e0 0 335.2px,#d1b7db 0 336.5px,#f3ecf6 0 338.5px,#f7f3f9 0 339.5px,#fdfcfd 0 340.8px,#f9f5fa 0 341.6px,#7cbd9a 0 343.6px,#a8d3bc 0 344.3px,#60af85 0 345.0px,#c5e2d3 0 346.0px,#c6e2d3 0 347.0px,#a4d1b9 0 348.0px,#a8d3bc 0 350.0px,#f0e8f4 0 351.6px,#f3ecf6 0 352.6px,#f9f6fa 0 353.3px,#f4eef7 0 354.3px,#decce5 0 355.3px,#ebe0f0 0 356.0px,#e9ddee 0 357.3px,#ddcbe5 0 358.6px,#faf8fb 0 359.6px,#faf6fb 0 360.3px,#f6f2f8 0 361.3px,#f3ecf5 0 362.3px,#efe7f3 0 363.0px,#f5f0f7 0 364.6px,#f1e9f4 0 366.6px,#f0e7f3 0 367.9px,#ede3f1 0 369.5px,#f3ecf6 0 370.8px,#f8f5fa 0 371.5px,#fff 0 373.6px,#9ccdb3 0 374.3px,#b4d9c5 0 375.9px,#77ba96 0 376.9px,#aad4be 0 377.9px,#4da576 0 379.9px,#4ba575 0 380.9px,#94caad 0 382.9px,#bfdfce 0 383.9px,#afd7c1 0 384.9px,#aad4be 0 385.9px,#c8e4d5 0 387.9px,#9eceb5 0 388.6px,#a9d4bd 0 389.6px,#aed6c1 0 391.2px,#7fbf9d 0 392.8px,#90c7aa 0 394.8px,#c7e3d4 0 395.8px,#d6ebe0 0 397.1px,#edf6f1 0 398.4px,#cce5d8 0 399.4px,#bddecc 0 400.1px,#c4e1d2 0 401.7px,#cfe7da 0 403.0px,#cfe7da 0 404.3px,#bcddcb 0 406.3px,#daece2 0 407.3px,#83c1a0 0 408.0px,#8ec6a8 0 409.6px,#aed6c1 0 410.6px,#c3e1d1 0 412.2px,#6fb790 0 413.2px,#62b086 0 414.8px,#a2d0b8 0 416.2px,#87c3a3 0 417.2px,#6bb58d 0 418.2px,#92c8ab 0 419.5px,#6ab48c 0 421.1px,#f9f5fa 0 422.4px,#eadeee 0 424.4px,#eee4f2 0 425.4px,#f7f2f8 0 426.1px,#e7daed 0 427.1px,#e9ddee 0 429.1px,#e7d9ec 0 430.1px,#f3ecf6 0 431.1px,#f0e8f3 0 432.1px,#e4d6ea 0 433.1px,#e5d6eb 0 435.1px,#d8c3e1 0 436.1px,#e4d5ea 0 437.1px,#dfcde6 0 438.4px,#e6d9ec 0 440.4px,#e3d4e9 0 441.6px,#ccb0d8 0 442.6px,#d8c2e1 0 443.6px,#d0b6db 0 444.6px,#d8c1e0 0 446.2px,#e4d5ea 0 448.2px,#e5d7eb 0 449.2px,#e2d2e9 0 451.2px,#e5d6eb 0 453.2px,#d4bcde 0 455.2px,#e3d3e9 0 455.9px,#d1e8dc 0 457.9px,#c6e2d3 0 459.9px,#b9dcca 0 460.6px,#e2d2e8 0 461.6px,#dcc8e4 0 463.6px,#e3d3e9 0 464.3px,#dac5e2 0 465.6px,#d4bcde 0 467.6px,#d5bdde 0 468.3px,#e1d0e7 0 469.3px,#c2a0d0 0 471.3px,#dbc6e3 0 472.5px)"></div>
<div style="position:absolute;left:120.65px;top:28.9px;width:10.45px;height:472.5px;background:linear-gradient(#168a4c 0 1.0px,#88c3a4 0 1.7px,#abd5bf 0 3.0px,#6db68f 0 4.3px,#85c2a1 0 5.9px,#6db68f 0 7.2px,#90c7aa 0 8.8px,#97cbaf 0 10.8px,#29935a 0 12.8px,#86c2a2 0 13.8px,#5cad82 0 15.8px,#168a4c 0 17.1px,#70b791 0 17.8px,#a3d1b8 0 18.8px,#168a4c 0 20.4px,#65b289 0 22.4px,#8bc5a6 0 24.0px,#71b792 0 25.0px,#a7d3bb 0 26.6px,#9accb2 0 27.9px,#168a4c 0 28.9px,#46a271 0 30.9px,#4da676 0 32.5px,#7dbe9b 0 33.5px,#168a4c 0 35.1px,#4fa778 0 37.1px,#319761 0 38.1px,#5bad81 0 39.7px,#8cc5a7 0 40.7px,#7fbf9d 0 41.7px,#89c4a4 0 42.4px,#3c9d69 0 43.7px,#44a170 0 44.7px,#79bc98 0 45.7px,#95caae 0 46.4px,#8ec6a9 0 47.1px,#a8d3bc 0 49.1px,#9ccdb3 0 50.7px,#b9dcc9 0 52.7px,#c6e3d4 0 54.7px,#cee7da 0 56.7px,#ece1f0 0 58.7px,#f7f2f9 0 59.7px,#f2eaf5 0 61.0px,#f8f5fa 0 62.0px,#f4edf6 0 63.0px,#eee4f2 0 64.0px,#faf7fb 0 65.0px,#f4eef7 0 67.0px,#b4d9c6 0 67.7px,#61b086 0 68.7px,#afd7c1 0 70.3px,#85c2a2 0 71.0px,#f1eaf5 0 72.0px,#f6f1f8 0 73.0px,#f5f0f7 0 74.3px,#f2ebf5 0 75.3px,#6cb58e 0 77.3px,#7abc99 0 78.0px,#91c8aa 0 79.0px,#b0d7c2 0 80.0px,#cde6d9 0 80.7px,#bddecc 0 81.7px,#dfefe7 0 82.7px,#e0efe7 0 84.3px,#c8e3d5 0 85.3px,#ddeee5 0 86.0px,#d7ebe0 0 87.3px,#e1f0e8 0 88.3px,#cee7da 0 89.6px,#f2ebf5 0 90.3px,#f6f1f8 0 91.9px,#fefdfe 0 92.9px,#add6c0 0 94.2px,#c2e0d0 0 95.2px,#c3e1d1 0 96.2px,#cee7da 0 97.2px,#bfdfce 0 97.9px,#eadfef 0 98.9px,#dcc8e4 0 99.6px,#e3d4e9 0 100.9px,#f0e7f3 0 102.5px,#dfcce6 0 103.5px,#ece2f0 0 104.5px,#d3badd 0 105.5px,#c2e0d0 0 106.8px,#85c2a1 0 107.8px,#82c09f 0 109.4px,#a5d2ba 0 110.7px,#f4eef7 0 112.3px,#faf7fb 0 113.9px,#ebdfef 0 115.9px,#f2ebf5 0 117.5px,#f0e8f3 0 118.5px,#f8f3f9 0 120.1px,#f6f1f8 0 121.1px,#66b289 0 122.1px,#6ab48c 0 123.7px,#aad4be 0 124.7px,#b6dac7 0 125.4px,#e0f0e7 0 126.4px,#b1d8c3 0 127.4px,#d5eade 0 129.0px,#e4f1ea 0 131.0px,#b0d8c3 0 132.6px,#fff 0 135.6px,#f7f2f9 0 136.3px,#efe6f2 0 137.9px,#f4eef7 0 139.5px,#d4bcdd 0 140.8px,#dbc7e3 0 141.8px,#c7a8d4 0 142.5px,#d7c1e0 0 143.2px,#c09cce 0 145.2px,#e1d1e8 0 146.2px,#ceb3d9 0 147.2px,#c7a7d3 0 148.5px,#dcc9e4 0 149.5px,#c3a2d1 0 150.5px,#f5eff7 0 152.5px,#e1d0e8 0 153.2px,#e0cee7 0 154.2px,#f0e8f4 0 154.9px,#faf7fb 0 156.5px,#f4edf6 0 157.2px,#f4eef6 0 157.5px,#decbe5 0 159.5px,#c6a5d2 0 160.5px,#b891c8 0 161.5px,#cbaed7 0 162.5px,#e1d1e8 0 164.1px,#ebe0ef 0 165.1px,#e9dcee 0 166.7px,#e0cee7 0 168.0px,#decbe5 0 169.0px,#f3edf6 0 170.3px,#f6f0f8 0 171.3px,#ede3f1 0 172.9px,#eee4f2 0 174.5px,#f7f3f9 0 176.5px,#bfdfce 0 177.5px,#cde6d9 0 179.5px,#b0d7c2 0 181.1px,#e1f0e8 0 182.7px,#b7dbc8 0 183.4px,#d7ebe1 0 184.4px,#aed6c1 0 185.4px,#b4d9c5 0 186.7px,#fbf9fc 0 188.3px,#efe6f3 0 189.5px,#47a372 0 190.5px,#52a87a 0 192.1px,#66b28a 0 193.4px,#c2e0d0 0 195.0px,#e2f0e8 0 196.3px,#cae4d6 0 197.9px,#bcdecc 0 198.6px,#ddeee5 0 199.6px,#ddeee5 0 200.6px,#d2e8dd 0 201.9px,#b5dac6 0 202.9px,#9accb2 0 204.5px,#b2d9c4 0 205.8px,#dfefe6 0 207.8px,#f2ebf5 0 208.8px,#f3edf6 0 209.8px,#eee4f2 0 210.8px,#e9ddee 0 212.8px,#f7f2f9 0 214.8px,#e8dbed 0 215.8px,#e2d2e9 0 217.8px,#dcc9e4 0 219.8px,#eadeee 0 221.8px,#f7f2f8 0 223.1px,#f3ecf6 0 224.4px,#f5eff7 0 225.7px,#f7f2f8 0 226.4px,#e1d1e8 0 228.0px,#dcc8e4 0 229.6px,#ebe0f0 0 231.6px,#ebdfef 0 233.2px,#a8d3bc 0 234.8px,#e5f2eb 0 235.8px,#c4e1d2 0 237.1px,#ddeee5 0 237.8px,#cbe5d7 0 239.1px,#d5eadf 0 240.4px,#cae4d6 0 242.4px,#f6f1f8 0 244.4px,#f9f6fa 0 245.4px,#f1eaf4 0 246.4px,#f5f0f7 0 247.4px,#f5f0f7 0 248.4px,#f6f1f8 0 250.0px,#f3ecf5 0 251.0px,#f3ecf6 0 252.6px,#f4eff7 0 254.2px,#f5eff7 0 255.1px,#f7f2f8 0 255.8px,#f6f1f8 0 257.4px,#fefdfe 0 258.4px,#f3edf6 0 259.4px,#399c67 0 261.4px,#2b955c 0 262.7px,#cce5d8 0 263.7px,#c7e3d4 0 264.4px,#bbddcb 0 266.0px,#cce6d8 0 267.3px,#baddca 0 268.3px,#c5e2d2 0 269.7px,#fff 0 271.4px,#b0d7c2 0 272.4px,#5dae82 0 273.7px,#9dceb4 0 275.0px,#b6dac7 0 277.0px,#a0cfb6 0 277.7px,#c0dfcf 0 279.3px,#7dbe9b 0 280.0px,#61b085 0 282.0px,#98cbb0 0 283.0px,#c3e1d1 0 285.0px,#badcca 0 287.0px,#61b086 0 289.0px,#75b995 0 290.0px,#45a170 0 291.6px,#98cbb0 0 292.9px,#399b67 0 293.9px,#168a4c 0 295.9px,#41a06d 0 296.9px,#f3ecf5 0 297.9px,#e9ddee 0 298.9px,#f0e7f3 0 299.9px,#f6f2f8 0 300.9px,#f8f4fa 0 301.9px,#f2ebf5 0 303.9px,#f6f1f8 0 304.2px,#e0cfe7 0 305.8px,#e0cee7 0 306.8px,#e5d6eb 0 308.4px,#eadfef 0 309.1px,#c8a9d4 0 311.1px,#dcc8e4 0 312.4px,#e2d2e9 0 313.4px,#ceb3d9 0 314.7px,#c8a9d4 0 315.7px,#d7c0e0 0 316.7px,#ceb2d9 0 318.7px,#d1b7db 0 320.0px,#d7c1e0 0 321.6px,#dfcee7 0 322.6px,#ccb0d8 0 323.3px,#d5bdde 0 324.3px,#c7a8d4 0 325.0px,#e8daed 0 326.0px,#c7a7d4 0 327.6px,#d1b7db 0 328.9px,#dbc6e3 0 329.9px,#d8c2e1 0 331.9px,#decce6 0 332.6px,#d1b7db 0 333.9px,#e6d8ec 0 335.2px,#dbc7e3 0 336.5px,#d2b9dc 0 338.5px,#d8c2e1 0 339.5px,#eadfef 0 340.8px,#bf9bcd 0 341.6px,#bbddcb 0 343.6px,#c8e3d5 0 344.3px,#b4d9c5 0 345.0px,#deefe6 0 346.0px,#bedecd 0 347.0px,#daede3 0 348.0px,#d6eae0 0 350.0px,#f5eff7 0 351.6px,#f0e8f4 0 352.6px,#f4eef7 0 353.3px,#f4edf6 0 354.3px,#eee5f2 0 355.3px,#f8f4f9 0 356.0px,#fbf9fc 0 357.3px,#ebe0f0 0 358.6px,#eadfef 0 359.6px,#ece1f0 0 360.3px,#eadeef 0 361.3px,#e6d7eb 0 362.3px,#e7d9ec 0 363.0px,#e9ddee 0 364.6px,#e0cee7 0 366.6px,#eee4f2 0 367.9px,#e3d4e9 0 369.5px,#e3d4e9 0 370.8px,#d5bdde 0 371.5px,#fff 0 373.6px,#d5bdde 0 374.3px,#d3badd 0 375.9px,#cbadd6 0 376.9px,#e7daec 0 377.9px,#c3a1d0 0 379.9px,#c8a9d4 0 380.9px,#e8dbed 0 382.9px,#cae4d6 0 383.9px,#c7e3d4 0 384.9px,#95caad 0 385.9px,#e3f1ea 0 387.9px,#bbddcb 0 388.6px,#e1d0e8 0 389.6px,#d3bbdd 0 391.2px,#caadd6 0 392.8px,#decbe5 0 394.8px,#dfcde6 0 395.8px,#ddcae5 0 397.1px,#e6d8ec 0 398.4px,#decbe5 0 399.4px,#cdb1d8 0 400.1px,#cbaed7 0 401.7px,#e5d6ea 0 403.0px,#ceb2d9 0 404.3px,#d4bcde 0 406.3px,#dcc8e4 0 407.3px,#cfb4da 0 408.0px,#c5a4d2 0 409.6px,#cfb4da 0 410.6px,#dfcce6 0 412.2px,#be9acd 0 413.2px,#b891c8 0 414.8px,#dbc7e3 0 416.2px,#abd5be 0 417.2px,#a8d3bc 0 418.2px,#badcca 0 419.5px,#b3d9c4 0 421.1px,#b8dbc9 0 422.4px,#afd7c2 0 424.4px,#add6c0 0 425.4px,#cce6d8 0 426.1px,#a3d1b8 0 427.1px,#60af85 0 429.1px,#b0d7c2 0 430.1px,#b5dac7 0 431.1px,#a2d0b8 0 432.1px,#9ccdb3 0 433.1px,#93c9ac 0 435.1px,#6ab48c 0 436.1px,#83c1a0 0 437.1px,#b1d8c3 0 438.4px,#7ebe9c 0 440.4px,#b0d7c2 0 441.6px,#afd7c2 0 442.6px,#73b994 0 443.6px,#75ba95 0 444.6px,#a1d0b7 0 446.2px,#84c1a1 0 448.2px,#91c8ab 0 449.2px,#60af85 0 451.2px,#c4e1d1 0 453.2px,#8cc5a7 0 455.2px,#95caad 0 455.9px,#cce5d8 0 457.9px,#b0d7c2 0 459.9px,#c9e4d5 0 460.6px,#e0f0e7 0 461.6px,#c1e0d0 0 463.6px,#ddeee5 0 464.3px,#cee6d9 0 465.6px,#d4e9de 0 467.6px,#c3e1d1 0 468.3px,#cde6d9 0 469.3px,#afd7c1 0 471.3px,#c2e0d0 0 472.5px)"></div>
<div style="position:absolute;left:131.04px;top:28.9px;width:10.45px;height:472.5px;background:linear-gradient(#6ab48d 0 1.0px,#86c2a2 0 1.7px,#a3d1b8 0 3.0px,#91c8ab 0 4.3px,#9bcdb2 0 5.9px,#cee6d9 0 7.2px,#d6ebe0 0 8.8px,#c8e3d5 0 10.8px,#c3e1d1 0 12.8px,#e3f1e9 0 13.8px,#bcddcc 0 15.8px,#a9d4bd 0 17.1px,#b1d8c3 0 17.8px,#dbede3 0 18.8px,#8ec6a8 0 20.4px,#7ebe9c 0 22.4px,#bddecd 0 24.0px,#b5dac6 0 25.0px,#e2f0e9 0 26.6px,#d6eadf 0 27.9px,#b3d9c5 0 28.9px,#b5dac6 0 30.9px,#b0d8c3 0 32.5px,#dbede3 0 33.5px,#bcddcb 0 35.1px,#aed7c1 0 37.1px,#bbddcb 0 38.1px,#dceee4 0 39.7px,#d0e7db 0 40.7px,#c1e0d0 0 41.7px,#badcca 0 42.4px,#c1e0d0 0 43.7px,#cde6d8 0 44.7px,#bfdfce 0 45.7px,#c9e4d5 0 46.4px,#d1e8dc 0 47.1px,#bddecc 0 49.1px,#d8ebe1 0 50.7px,#a8d4bc 0 52.7px,#c7e3d4 0 54.7px,#b9dcc9 0 56.7px,#e0cee7 0 58.7px,#e7daec 0 59.7px,#ede4f1 0 61.0px,#f1e9f4 0 62.0px,#e8dbed 0 63.0px,#e6d7eb 0 64.0px,#efe6f3 0 65.0px,#ddcae4 0 67.0px,#efe6f2 0 67.7px,#e5d6eb 0 68.7px,#e7d9ec 0 70.3px,#e5d6eb 0 71.0px,#e4d6ea 0 72.0px,#f0e8f4 0 73.0px,#f4edf6 0 74.3px,#e9ddee 0 75.3px,#dac6e3 0 77.3px,#ebdfef 0 78.0px,#e0cfe7 0 79.0px,#eee4f2 0 80.0px,#f0e8f3 0 80.7px,#f0e7f3 0 81.7px,#fcfbfd 0 82.7px,#f8f5fa 0 84.3px,#fdfbfd 0 85.3px,#f7f2f9 0 86.0px,#e0f0e8 0 87.3px,#e5f2eb 0 88.3px,#cfe7da 0 89.6px,#e4d5ea 0 90.3px,#eee4f2 0 91.9px,#e8dbed 0 92.9px,#e0cfe7 0 94.2px,#e3d4ea 0 95.2px,#ebe0ef 0 96.2px,#e0cfe7 0 97.2px,#e1d1e8 0 97.9px,#ece1f0 0 98.9px,#d4bcde 0 99.6px,#dfcde6 0 100.9px,#e8daed 0 102.5px,#ede4f1 0 103.5px,#ede2f1 0 104.5px,#decce6 0 105.5px,#fcfbfd 0 106.8px,#f1eaf4 0 107.8px,#f2ebf5 0 109.4px,#fcfafc 0 110.7px,#f7f3f9 0 112.3px,#f6f0f8 0 113.9px,#f4eef7 0 115.9px,#f7f3f9 0 117.5px,#faf7fb 0 118.5px,#faf7fb 0 120.1px,#f0e7f3 0 121.1px,#b2d8c4 0 122.1px,#bcddcb 0 123.7px,#c8e4d5 0 124.7px,#afd7c2 0 125.4px,#cfe7da 0 126.4px,#cde6d9 0 127.4px,#c8e3d5 0 129.0px,#d0e7db 0 131.0px,#c2e1d0 0 132.6px,#fff 0 135.6px,#f1e9f4 0 136.3px,#dfcee6 0 137.9px,#efe6f3 0 139.5px,#e5d7eb 0 140.8px,#e6d8ec 0 141.8px,#ceb3d9 0 142.5px,#decbe5 0 143.2px,#bf9acd 0 145.2px,#e5d6eb 0 146.2px,#dbc7e3 0 147.2px,#c8a9d4 0 148.5px,#d5bedf 0 149.5px,#ba93ca 0 150.5px,#dfcde6 0 152.5px,#cfb4da 0 153.2px,#c6a5d2 0 154.2px,#e1d0e8 0 154.9px,#d9c4e2 0 156.5px,#ebe0f0 0 157.2px,#ede3f1 0 157.5px,#f2ebf5 0 159.5px,#f6f1f8 0 160.5px,#eadfef 0 161.5px,#f0e8f4 0 162.5px,#bfdfce 0 164.1px,#ebf5ef 0 165.1px,#d3e9dd 0 166.7px,#b7dbc8 0 168.0px,#abd5be 0 169.0px,#e1f0e8 0 170.3px,#d8ece1 0 171.3px,#c4e1d2 0 172.9px,#c0dfce 0 174.5px,#dfefe6 0 176.5px,#e7d9ec 0 177.5px,#f2eaf5 0 179.5px,#e0cfe7 0 181.1px,#eadfef 0 182.7px,#dfcde6 0 183.4px,#e8dbed 0 184.4px,#dcc8e3 0 185.4px,#e3d3e9 0 186.7px,#a8d3bc 0 188.3px,#95caae 0 189.5px,#b1d8c3 0 190.5px,#c1e0cf 0 192.1px,#d2e9dd 0 193.4px,#b8dcc9 0 195.0px,#d5eade 0 196.3px,#c8e3d5 0 197.9px,#b7dbc7 0 198.6px,#d6eadf 0 199.6px,#dbede3 0 200.6px,#cbe5d7 0 201.9px,#a8d3bc 0 202.9px,#a6d2ba 0 204.5px,#c4e1d1 0 205.8px,#d8ebe1 0 207.8px,#add6c0 0 208.8px,#92c9ac 0 209.8px,#87c3a3 0 210.8px,#5cad82 0 212.8px,#fbf8fc 0 214.8px,#faf7fb 0 215.8px,#f2ebf5 0 217.8px,#f4edf6 0 219.8px,#f8f3f9 0 221.8px,#c1e0cf 0 223.1px,#c7e3d4 0 224.4px,#c4e1d2 0 225.7px,#b7dbc8 0 226.4px,#f0e7f3 0 228.0px,#ece1f0 0 229.6px,#f5eff7 0 231.6px,#f9f5fa 0 233.2px,#bd98cc 0 234.8px,#ebe0f0 0 235.8px,#decce6 0 237.1px,#e9ddee 0 237.8px,#e2d1e8 0 239.1px,#decbe5 0 240.4px,#d1b7db 0 242.4px,#e5d6eb 0 244.4px,#eadfef 0 245.4px,#e1d0e8 0 246.4px,#e8dbed 0 247.4px,#efe6f3 0 248.4px,#dbc7e3 0 250.0px,#dbc7e3 0 251.0px,#ece2f1 0 252.6px,#ebdfef 0 254.2px,#e0cfe7 0 255.1px,#4ea677 0 255.8px,#69b48c 0 257.4px,#67b38b 0 258.4px,#98cbb0 0 259.4px,#54a97c 0 261.4px,#4fa677 0 262.7px,#b992c9 0 263.7px,#d1b7db 0 264.4px,#d0b5da 0 266.0px,#ebdfef 0 267.3px,#b5dac6 0 268.3px,#b6dbc7 0 269.7px,#fff 0 271.4px,#f4edf6 0 272.4px,#dfcde6 0 273.7px,#e6d8ec 0 275.0px,#ede3f1 0 277.0px,#f8f4f9 0 277.7px,#f9f6fa 0 279.3px,#ede3f1 0 280.0px,#f8f4fa 0 282.0px,#fdfcfd 0 283.0px,#f6f0f8 0 285.0px,#f3edf6 0 287.0px,#b9dcc9 0 289.0px,#cde6d8 0 290.0px,#cae4d6 0 291.6px,#dbede3 0 292.9px,#9eceb4 0 293.9px,#b9dcc9 0 295.9px,#b4d9c6 0 296.9px,#f3edf6 0 297.9px,#f3ecf5 0 298.9px,#ede3f1 0 299.9px,#eee4f2 0 300.9px,#f4eef7 0 301.9px,#f5eff7 0 303.9px,#f9f6fa 0 304.2px,#e9ddee 0 305.8px,#e4d5ea 0 306.8px,#e0cee7 0 308.4px,#e5d7eb 0 309.1px,#f6f1f8 0 311.1px,#f3edf6 0 312.4px,#fefefe 0 313.4px,#f7f3f9 0 314.7px,#fbf8fc 0 315.7px,#fbf9fc 0 316.7px,#a6d2ba 0 318.7px,#d7ebe0 0 320.0px,#bfdfce 0 321.6px,#9acdb2 0 322.6px,#50a778 0 323.3px,#91c8ab 0 324.3px,#8fc7a9 0 325.0px,#9fcfb6 0 326.0px,#e7daec 0 327.6px,#e3d3e9 0 328.9px,#e8daed 0 329.9px,#ece2f1 0 331.9px,#eadeee 0 332.6px,#e5d6ea 0 333.9px,#eadeee 0 335.2px,#eadfef 0 336.5px,#eadeef 0 338.5px,#e9ddee 0 339.5px,#eee5f2 0 340.8px,#e5d6eb 0 341.6px,#efe6f3 0 343.6px,#ede3f1 0 344.3px,#e9dcee 0 345.0px,#fbf9fc 0 346.0px,#f5eff7 0 347.0px,#f6f0f8 0 348.0px,#faf8fb 0 350.0px,#f5eff7 0 351.6px,#f9f6fb 0 352.6px,#fcfafc 0 353.3px,#e2f0e9 0 354.3px,#badcca 0 355.3px,#dcede4 0 356.0px,#cce5d8 0 357.3px,#aad4be 0 358.6px,#f3ecf6 0 359.6px,#f9f5fa 0 360.3px,#fcfafd 0 361.3px,#f9f6fb 0 362.3px,#f7f2f9 0 363.0px,#f9f5fa 0 364.6px,#f4eef7 0 366.6px,#f4edf6 0 367.9px,#f2eaf5 0 369.5px,#f9f6fb 0 370.8px,#f2ebf5 0 371.5px,#fff 0 373.6px,#e9ddee 0 374.3px,#e9ddee 0 375.9px,#decce6 0 376.9px,#f0e8f4 0 377.9px,#dcc9e4 0 379.9px,#ddcae4 0 380.9px,#f4eef6 0 382.9px,#d4bcde 0 383.9px,#e5d6eb 0 384.9px,#e2d2e8 0 385.9px,#e9ddee 0 387.9px,#dac5e2 0 388.6px,#efe6f3 0 389.6px,#e3d4e9 0 391.2px,#e1d1e8 0 392.8px,#e9ddee 0 394.8px,#ebdfef 0 395.8px,#e7daed 0 397.1px,#f1e8f4 0 398.4px,#e8dbed 0 399.4px,#e4d4ea 0 400.1px,#e3d4e9 0 401.7px,#e4d4ea 0 403.0px,#efe6f3 0 404.3px,#e5d6eb 0 406.3px,#ebe0ef 0 407.3px,#e7daed 0 408.0px,#d2b8dc 0 409.6px,#e3d4e9 0 410.6px,#f1e9f4 0 412.2px,#dbc7e3 0 413.2px,#d8c2e0 0 414.8px,#e8dbed 0 416.2px,#efe6f2 0 417.2px,#eee4f2 0 418.2px,#f0e7f3 0 419.5px,#fbf9fc 0 421.1px,#f0e8f4 0 422.4px,#f8f4f9 0 424.4px,#efe6f3 0 425.4px,#f1eaf4 0 426.1px,#b0d7c2 0 427.1px,#c5e2d3 0 429.1px,#c7e3d4 0 430.1px,#d6ebe0 0 431.1px,#c9e4d5 0 432.1px,#badcca 0 433.1px,#d6eae0 0 435.1px,#cde6d9 0 436.1px,#f6f1f8 0 437.1px,#f4eef6 0 438.4px,#f7f3f9 0 440.4px,#fbf9fc 0 441.6px,#7ebe9c 0 442.6px,#75ba95 0 443.6px,#66b289 0 444.6px,#b9dcc9 0 446.2px,#79bb98 0 448.2px,#97cbaf 0 449.2px,#85c2a1 0 451.2px,#d3e9dd 0 453.2px,#c4e1d2 0 455.2px,#dfefe6 0 455.9px,#c8e3d5 0 457.9px,#c3e1d1 0 459.9px,#badcca 0 460.6px,#c3e1d1 0 461.6px,#6cb58e 0 463.6px,#a7d3bb 0 464.3px,#99ccb1 0 465.6px,#98cbb0 0 467.6px,#a8d3bc 0 468.3px,#a7d3bb 0 469.3px,#61b086 0 471.3px,#96caae 0 472.5px)"></div>
<div style="position:absolute;left:141.43px;top:28.9px;width:10.45px;height:472.5px;background:linear-gradient(#d9ece2 0 1.0px,#f2f9f5 0 1.7px,#f7f3f9 0 3.0px,#f2ebf5 0 4.3px,#f1e8f4 0 5.9px,#f3ecf6 0 7.2px,#f1eaf4 0 8.8px,#f2eaf5 0 10.8px,#ede3f1 0 12.8px,#fbf9fc 0 13.8px,#f7f3f9 0 15.8px,#dfefe7 0 17.1px,#eff7f3 0 17.8px,#f1f8f4 0 18.8px,#cee6d9 0 20.4px,#dcede4 0 22.4px,#dfefe6 0 24.0px,#f0f7f3 0 25.0px,#e4f2eb 0 26.6px,#ddeee5 0 27.9px,#99ccb1 0 28.9px,#b2d8c4 0 30.9px,#bbddcb 0 32.5px,#c6e2d3 0 33.5px,#b5dac6 0 35.1px,#badcca 0 37.1px,#c5e2d3 0 38.1px,#d0e7db 0 39.7px,#c0dfce 0 40.7px,#d8ece1 0 41.7px,#cae4d6 0 42.4px,#cbe5d7 0 43.7px,#a1d0b7 0 44.7px,#aad4be 0 45.7px,#bbddcb 0 46.4px,#d2e8dc 0 47.1px,#c7e3d4 0 49.1px,#d2e8dd 0 50.7px,#aad4be 0 52.7px,#c6e2d3 0 54.7px,#b8dbc8 0 56.7px,#e8dbed 0 58.7px,#eee4f1 0 59.7px,#ece2f1 0 61.0px,#f8f4f9 0 62.0px,#e9ddee 0 63.0px,#decce5 0 64.0px,#efe6f3 0 65.0px,#e8daed 0 67.0px,#f6f1f8 0 67.7px,#e2d1e8 0 68.7px,#f2ebf5 0 70.3px,#e2d2e9 0 71.0px,#e7d9ec 0 72.0px,#f2eaf5 0 73.0px,#ebdfef 0 74.3px,#e6d8ec 0 75.3px,#dbc7e3 0 77.3px,#ddcae5 0 78.0px,#ddcae5 0 79.0px,#d2b9dc 0 80.0px,#e3d3e9 0 80.7px,#dcc9e4 0 81.7px,#e7daed 0 82.7px,#d8c2e1 0 84.3px,#dac5e2 0 85.3px,#e0cfe7 0 86.0px,#f1e9f4 0 87.3px,#ede3f1 0 88.3px,#e9dcee 0 89.6px,#e9ddee 0 90.3px,#ece2f1 0 91.9px,#e6d8ec 0 92.9px,#e3d3e9 0 94.2px,#ede2f1 0 95.2px,#dfcde6 0 96.2px,#ece1f0 0 97.2px,#e2d2e9 0 97.9px,#f0e7f3 0 98.9px,#e1d1e8 0 99.6px,#e7d9ec 0 100.9px,#ede2f1 0 102.5px,#e8dced 0 103.5px,#e1d0e8 0 104.5px,#e1d0e8 0 105.5px,#f6f0f8 0 106.8px,#f3edf6 0 107.8px,#faf7fb 0 109.4px,#f8f4fa 0 110.7px,#d8ebe1 0 112.3px,#cfe7da 0 113.9px,#b1d8c3 0 115.9px,#b7dbc8 0 117.5px,#c9e4d6 0 118.5px,#c4e1d1 0 120.1px,#aed6c1 0 121.1px,#aed6c1 0 122.1px,#c4e1d2 0 123.7px,#bcddcc 0 124.7px,#a0cfb6 0 125.4px,#cfe7da 0 126.4px,#ddeee5 0 127.4px,#d3e9dd 0 129.0px,#cfe7da 0 131.0px,#c1e0cf 0 132.6px,#fff 0 135.6px,#d5eadf 0 136.3px,#b2d9c4 0 137.9px,#cee6d9 0 139.5px,#f1eaf4 0 140.8px,#efe7f3 0 141.8px,#ebe0ef 0 142.5px,#ece2f0 0 143.2px,#d5bdde 0 145.2px,#f2ebf5 0 146.2px,#e4d5ea 0 147.2px,#dfcce6 0 148.5px,#f1eaf4 0 149.5px,#d9c3e1 0 150.5px,#f6f0f8 0 152.5px,#e6d7eb 0 153.2px,#decbe5 0 154.2px,#dfcde6 0 154.9px,#dfcde6 0 156.5px,#eadfef 0 157.2px,#f2eaf5 0 157.5px,#f2ebf5 0 159.5px,#efe5f2 0 160.5px,#ece2f0 0 161.5px,#f7f2f9 0 162.5px,#f1eaf4 0 164.1px,#f4eef7 0 165.1px,#eee5f2 0 166.7px,#bbddcb 0 168.0px,#afd7c1 0 169.0px,#d1e8dc 0 170.3px,#e6f2ec 0 171.3px,#f1e9f4 0 172.9px,#f6f1f8 0 174.5px,#f0e8f3 0 176.5px,#d0b6db 0 177.5px,#e7d9ec 0 179.5px,#c8a9d4 0 181.1px,#e5d7eb 0 182.7px,#ceb2d9 0 183.4px,#e4d5ea 0 184.4px,#caadd6 0 185.4px,#c8a9d4 0 186.7px,#f6f2f8 0 188.3px,#f8f4fa 0 189.5px,#a8d3bc 0 190.5px,#c5e2d3 0 192.1px,#cae5d7 0 193.4px,#a6d2bb 0 195.0px,#bfdfce 0 196.3px,#98cbb0 0 197.9px,#98cbb0 0 198.6px,#c4e1d2 0 199.6px,#c1e0cf 0 200.6px,#d0e7db 0 201.9px,#9eceb5 0 202.9px,#bbddcb 0 204.5px,#c5e2d2 0 205.8px,#daece2 0 207.8px,#99ccb1 0 208.8px,#74b994 0 209.8px,#8dc6a7 0 210.8px,#66b28a 0 212.8px,#cce5d8 0 214.8px,#7dbe9b 0 215.8px,#b5dac6 0 217.8px,#9eceb5 0 219.8px,#9accb1 0 221.8px,#b0d7c3 0 223.1px,#cbe5d7 0 224.4px,#c6e3d3 0 225.7px,#d0e7db 0 226.4px,#bbddcb 0 228.0px,#aed7c1 0 229.6px,#daece3 0 231.6px,#cee7da 0 233.2px,#ebe0f0 0 234.8px,#f6f1f8 0 235.8px,#efe6f3 0 237.1px,#d9ece2 0 237.8px,#d0e8db 0 239.1px,#cfe7da 0 240.4px,#a3d1b8 0 242.4px,#b1d8c3 0 244.4px,#cfe7da 0 245.4px,#cae4d6 0 246.4px,#d0e7db 0 247.4px,#ecf5f0 0 248.4px,#c5e2d3 0 250.0px,#a4d1b9 0 251.0px,#ecf6f1 0 252.6px,#c1e0cf 0 254.2px,#cee6da 0 255.1px,#efe5f2 0 255.8px,#eee4f2 0 257.4px,#f1eaf4 0 258.4px,#f8f4fa 0 259.4px,#dac6e2 0 261.4px,#d1b8dc 0 262.7px,#decbe5 0 263.7px,#e5d6eb 0 264.4px,#dcc8e4 0 266.0px,#f1e9f4 0 267.3px,#e0cfe7 0 268.3px,#e2d2e9 0 269.7px,#fff 0 271.4px,#f3ecf6 0 272.4px,#e0cfe7 0 273.7px,#eadfef 0 275.0px,#f8f4f9 0 277.0px,#f3ecf5 0 277.7px,#fcfbfd 0 279.3px,#ede2f1 0 280.0px,#eadeef 0 282.0px,#f2ebf5 0 283.0px,#f2ebf5 0 285.0px,#f8f4f9 0 287.0px,#faf8fb 0 289.0px,#f4eef6 0 290.0px,#ece1f0 0 291.6px,#f2ebf5 0 292.9px,#d8c2e1 0 293.9px,#e4d4ea 0 295.9px,#ddcae5 0 296.9px,#acd5c0 0 297.9px,#c0dfce 0 298.9px,#baddca 0 299.9px,#d0e7db 0 300.9px,#a8d3bc 0 301.9px,#bbddcb 0 303.9px,#bcddcc 0 304.2px,#f1e9f4 0 305.8px,#f0e7f3 0 306.8px,#eadfef 0 308.4px,#f4edf6 0 309.1px,#b0d7c2 0 311.1px,#e1f0e8 0 312.4px,#cae5d7 0 313.4px,#8ec6a8 0 314.7px,#5eae83 0 315.7px,#a9d4bd 0 316.7px,#8cc5a6 0 318.7px,#9bcdb2 0 320.0px,#9eceb4 0 321.6px,#d5eadf 0 322.6px,#cce5d8 0 323.3px,#cae4d6 0 324.3px,#bedecd 0 325.0px,#d8ebe1 0 326.0px,#75ba95 0 327.6px,#b3d9c5 0 328.9px,#a8d3bc 0 329.9px,#8cc5a6 0 331.9px,#cae4d6 0 332.6px,#aad5be 0 333.9px,#d4e9de 0 335.2px,#cde6d9 0 336.5px,#cde6d9 0 338.5px,#d3e9dd 0 339.5px,#e1f0e8 0 340.8px,#b4d9c5 0 341.6px,#d8c2e1 0 343.6px,#e9ddee 0 344.3px,#e0cee7 0 345.0px,#f1e9f4 0 346.0px,#e9dcee 0 347.0px,#f4eef6 0 348.0px,#eee4f2 0 350.0px,#f9f5fa 0 351.6px,#f5eff7 0 352.6px,#f0e8f4 0 353.3px,#fbf9fc 0 354.3px,#e9dcee 0 355.3px,#f3ecf6 0 356.0px,#f4edf6 0 357.3px,#efe6f3 0 358.6px,#f6f1f8 0 359.6px,#f2ebf5 0 360.3px,#f7f3f9 0 361.3px,#efe7f3 0 362.3px,#efe7f3 0 363.0px,#f4edf6 0 364.6px,#ede3f1 0 366.6px,#f2eaf5 0 367.9px,#f4edf6 0 369.5px,#ede3f1 0 370.8px,#f0e8f4 0 371.5px,#fff 0 373.6px,#e6d8eb 0 374.3px,#e3d3e9 0 375.9px,#e2d2e9 0 376.9px,#e7daec 0 377.9px,#e5d6eb 0 379.9px,#e4d5ea 0 380.9px,#eadeef 0 382.9px,#f0e7f3 0 383.9px,#eee4f1 0 384.9px,#f1e9f4 0 385.9px,#f4eff7 0 387.9px,#f4eef7 0 388.6px,#cbe5d7 0 389.6px,#cde6d8 0 391.2px,#cbe5d7 0 392.8px,#c5e2d2 0 394.8px,#f4eef7 0 395.8px,#f9f6fb 0 397.1px,#fdfcfe 0 398.4px,#fbf8fc 0 399.4px,#f3edf6 0 400.1px,#f3ecf5 0 401.7px,#bfdfce 0 403.0px,#c8e3d5 0 404.3px,#c4e2d2 0 406.3px,#e6f2ec 0 407.3px,#bbddcb 0 408.0px,#abd5bf 0 409.6px,#e0efe7 0 410.6px,#e0efe7 0 412.2px,#c5e2d3 0 413.2px,#bddecd 0 414.8px,#b6dac7 0 416.2px,#e6d8ec 0 417.2px,#dcc8e4 0 418.2px,#e8daed 0 419.5px,#dbc6e3 0 421.1px,#f8f3f9 0 422.4px,#fbf8fc 0 424.4px,#f6f1f8 0 425.4px,#f3ecf6 0 426.1px,#f2ebf5 0 427.1px,#f5eff7 0 429.1px,#faf8fb 0 430.1px,#fbf8fc 0 431.1px,#f2eaf5 0 432.1px,#eee4f2 0 433.1px,#faf7fb 0 435.1px,#f8f4f9 0 436.1px,#f2ebf5 0 437.1px,#f2ebf5 0 438.4px,#f1e9f4 0 440.4px,#fdfbfd 0 441.6px,#faf7fb 0 442.6px,#f4eef7 0 443.6px,#f7f3f9 0 444.6px,#f4eef6 0 446.2px,#f1eaf4 0 448.2px,#f5f0f8 0 449.2px,#ece2f1 0 451.2px,#cbe5d7 0 453.2px,#c6e2d3 0 455.2px,#e4f1ea 0 455.9px,#bedecd 0 457.9px,#c5e2d3 0 459.9px,#c6e2d3 0 460.6px,#d0e7db 0 461.6px,#c7e3d4 0 463.6px,#c7e3d4 0 464.3px,#d4eade 0 465.6px,#dbede3 0 467.6px,#c1e0cf 0 468.3px,#cee7da 0 469.3px,#bfdfce 0 471.3px,#d3e9dd 0 472.5px)"></div>
<div style="position:absolute;left:151.82px;top:28.9px;width:10.45px;height:472.5px;background:linear-gradient(#ede3f1 0 1.0px,#f9f6fa 0 1.7px,#fcfbfd 0 3.0px,#ede3f1 0 4.3px,#f9f5fa 0 5.9px,#f3edf6 0 7.2px,#fdfbfd 0 8.8px,#ede3f1 0 10.8px,#e3d3e9 0 12.8px,#ede2f1 0 13.8px,#e1d1e8 0 15.8px,#ede3f1 0 17.1px,#faf6fb 0 17.8px,#faf8fb 0 18.8px,#efe7f3 0 20.4px,#ebe0f0 0 22.4px,#f6faf8 0 24.0px,#deefe6 0 25.0px,#f1f8f4 0 26.6px,#ddeee5 0 27.9px,#c6e2d3 0 28.9px,#abd5be 0 30.9px,#d5eadf 0 32.5px,#dfefe6 0 33.5px,#baddca 0 35.1px,#add6c0 0 37.1px,#d2e8dc 0 38.1px,#d2e9dd 0 39.7px,#d0e7db 0 40.7px,#badcca 0 41.7px,#c0dfce 0 42.4px,#aed6c1 0 43.7px,#abd5bf 0 44.7px,#81c09e 0 45.7px,#75ba95 0 46.4px,#a5d2ba 0 47.1px,#a6d2bb 0 49.1px,#aed7c1 0 50.7px,#aad4be 0 52.7px,#deeee5 0 54.7px,#c2e0d0 0 56.7px,#dcc9e4 0 58.7px,#eee5f2 0 59.7px,#eadfef 0 61.0px,#f2ebf5 0 62.0px,#ebdfef 0 63.0px,#ede3f1 0 64.0px,#e1d0e8 0 65.0px,#e8dbed 0 67.0px,#d6bfdf 0 67.7px,#ceb2d9 0 68.7px,#e3d4e9 0 70.3px,#d7c0e0 0 71.0px,#c6a7d3 0 72.0px,#dbc8e3 0 73.0px,#e7daec 0 74.3px,#d0b6db 0 75.3px,#dac5e2 0 77.3px,#e3d3e9 0 78.0px,#dfcde6 0 79.0px,#dfcde6 0 80.0px,#eee4f2 0 80.7px,#e5d7eb 0 81.7px,#e8dbed 0 82.7px,#f0e8f4 0 84.3px,#e6d7eb 0 85.3px,#f1eaf4 0 86.0px,#efe6f3 0 87.3px,#efe5f2 0 88.3px,#e4d5ea 0 89.6px,#ede3f1 0 90.3px,#eee4f2 0 91.9px,#e6d9ec 0 92.9px,#ebe0f0 0 94.2px,#ebdfef 0 95.2px,#e1d0e8 0 96.2px,#e3d3e9 0 97.2px,#e0cfe7 0 97.9px,#bedecd 0 98.9px,#b4d9c6 0 99.6px,#abd5be 0 100.9px,#d3e9dd 0 102.5px,#cee6d9 0 103.5px,#d6eae0 0 104.5px,#c2e1d0 0 105.5px,#deeee6 0 106.8px,#badcca 0 107.8px,#b3d9c5 0 109.4px,#d3e9dd 0 110.7px,#b6dac7 0 112.3px,#a1d0b7 0 113.9px,#76ba95 0 115.9px,#90c7a9 0 117.5px,#68b38b 0 118.5px,#95caae 0 120.1px,#8ac4a5 0 121.1px,#cce5d8 0 122.1px,#badcca 0 123.7px,#b7dbc8 0 124.7px,#c3e1d1 0 125.4px,#deeee5 0 126.4px,#daece3 0 127.4px,#d8ebe1 0 129.0px,#d3e9dd 0 131.0px,#badcca 0 132.6px,#fff 0 135.6px,#faf8fb 0 136.3px,#eee4f2 0 137.9px,#f9f6fa 0 139.5px,#e7d9ec 0 140.8px,#f3ecf5 0 141.8px,#e2d2e9 0 142.5px,#e4d4ea 0 143.2px,#e2d2e9 0 145.2px,#ece1f0 0 146.2px,#ebe0ef 0 147.2px,#e4d5ea 0 148.5px,#ebe0f0 0 149.5px,#ddcae5 0 150.5px,#f5eff7 0 152.5px,#e1d0e7 0 153.2px,#dcc8e3 0 154.2px,#f3ecf5 0 154.9px,#f0e8f4 0 156.5px,#fefdfe 0 157.2px,#f5eff7 0 157.5px,#eadfef 0 159.5px,#e4d6ea 0 160.5px,#dcc9e4 0 161.5px,#dfcee7 0 162.5px,#e9dcee 0 164.1px,#f8f4f9 0 165.1px,#e6d8ec 0 166.7px,#e8dbed 0 168.0px,#e7d9ec 0 169.0px,#ece1f0 0 170.3px,#efe6f3 0 171.3px,#e4d5ea 0 172.9px,#dbc7e3 0 174.5px,#e8dced 0 176.5px,#c8a9d4 0 177.5px,#decbe5 0 179.5px,#cbaed7 0 181.1px,#ede2f1 0 182.7px,#d2b9dc 0 183.4px,#dbc6e3 0 184.4px,#c09dce 0 185.4px,#ccb0d8 0 186.7px,#efe6f2 0 188.3px,#e4d4ea 0 189.5px,#6cb58e 0 190.5px,#b3d9c4 0 192.1px,#b6dac7 0 193.4px,#a1d0b7 0 195.0px,#b3d9c4 0 196.3px,#9fcfb5 0 197.9px,#9eceb5 0 198.6px,#90c7aa 0 199.6px,#80bf9d 0 200.6px,#b7dbc7 0 201.9px,#71b892 0 202.9px,#5aac80 0 204.5px,#9dceb4 0 205.8px,#a3d1b8 0 207.8px,#aed6c1 0 208.8px,#9bcdb2 0 209.8px,#5aac80 0 210.8px,#7fbf9d 0 212.8px,#c1e0cf 0 214.8px,#7cbd9b 0 215.8px,#aed7c1 0 217.8px,#88c3a4 0 219.8px,#8ec6a8 0 221.8px,#7dbe9b 0 223.1px,#bcddcb 0 224.4px,#a8d3bc 0 225.7px,#77bb96 0 226.4px,#77bb97 0 228.0px,#5cad81 0 229.6px,#9ccdb3 0 231.6px,#7cbd9a 0 233.2px,#b3d9c5 0 234.8px,#dceee4 0 235.8px,#daece2 0 237.1px,#cfe7da 0 237.8px,#bfdfce 0 239.1px,#bcdecc 0 240.4px,#b5dac6 0 242.4px,#cee6d9 0 244.4px,#d3e9dd 0 245.4px,#c7e3d4 0 246.4px,#cde6d9 0 247.4px,#e8f3ed 0 248.4px,#aad4be 0 250.0px,#c0e0cf 0 251.0px,#ddeee5 0 252.6px,#d1e8db 0 254.2px,#d1e8dc 0 255.1px,#f2eaf5 0 255.8px,#efe6f3 0 257.4px,#f3ecf6 0 258.4px,#f3ecf6 0 259.4px,#f7f2f9 0 261.4px,#ede3f1 0 262.7px,#efe6f2 0 263.7px,#efe6f3 0 264.4px,#f4eef6 0 266.0px,#f4edf6 0 267.3px,#f2eaf5 0 268.3px,#f4eef7 0 269.7px,#fff 0 271.4px,#ffffff 0 272.4px,#f6f1f8 0 273.7px,#f3ecf5 0 275.0px,#f6f2f8 0 277.0px,#fdfcfe 0 277.7px,#f9f5fa 0 279.3px,#f3ecf5 0 280.0px,#eee4f1 0 282.0px,#c9e4d5 0 283.0px,#daece3 0 285.0px,#cde6d8 0 287.0px,#afd7c2 0 289.0px,#d0e7db 0 290.0px,#d9ece1 0 291.6px,#f6f1f8 0 292.9px,#f2eaf5 0 293.9px,#ede3f1 0 295.9px,#f1e9f4 0 296.9px,#a8d3bc 0 297.9px,#c5e2d3 0 298.9px,#aed6c1 0 299.9px,#6bb58d 0 300.9px,#7abc99 0 301.9px,#9eceb5 0 303.9px,#8bc5a6 0 304.2px,#f8f4f9 0 305.8px,#ede3f1 0 306.8px,#eee4f1 0 308.4px,#f7f3f9 0 309.1px,#eadeef 0 311.1px,#faf7fb 0 312.4px,#fdfbfd 0 313.4px,#cde6d8 0 314.7px,#b7dbc8 0 315.7px,#dbede3 0 316.7px,#add6c0 0 318.7px,#dceee4 0 320.0px,#cae5d7 0 321.6px,#cce5d8 0 322.6px,#99ccb1 0 323.3px,#dbede3 0 324.3px,#b1d8c3 0 325.0px,#c6e2d3 0 326.0px,#c1e0d0 0 327.6px,#d6eae0 0 328.9px,#d9ece2 0 329.9px,#c8e3d5 0 331.9px,#d7ebe0 0 332.6px,#b1d8c3 0 333.9px,#e0f0e7 0 335.2px,#dcede4 0 336.5px,#c1e0d0 0 338.5px,#e9f4ee 0 339.5px,#ecf6f1 0 340.8px,#bfdfce 0 341.6px,#eadfef 0 343.6px,#ede3f1 0 344.3px,#e4d4ea 0 345.0px,#efe6f3 0 346.0px,#f3ecf6 0 347.0px,#efe7f3 0 348.0px,#e8dbed 0 350.0px,#aed7c1 0 351.6px,#deeee5 0 352.6px,#e0efe7 0 353.3px,#fefeff 0 354.3px,#f3ecf6 0 355.3px,#f3ecf5 0 356.0px,#f3ecf5 0 357.3px,#f1eaf4 0 358.6px,#efe5f2 0 359.6px,#efe6f3 0 360.3px,#eadeef 0 361.3px,#e6d9ec 0 362.3px,#e3d3e9 0 363.0px,#e9ddee 0 364.6px,#e4d4ea 0 366.6px,#e6d8ec 0 367.9px,#d8c1e0 0 369.5px,#e5d7eb 0 370.8px,#e7d9ec 0 371.5px,#fff 0 373.6px,#e2d2e9 0 374.3px,#f2eaf5 0 375.9px,#dfcde6 0 376.9px,#ede4f1 0 377.9px,#f2ebf5 0 379.9px,#f1e9f4 0 380.9px,#fefdfe 0 382.9px,#c6e2d3 0 383.9px,#c3e1d1 0 384.9px,#aad4be 0 385.9px,#cfe7da 0 387.9px,#cbe5d7 0 388.6px,#a8d3bc 0 389.6px,#98cbb0 0 391.2px,#79bc98 0 392.8px,#add6c0 0 394.8px,#cae4d6 0 395.8px,#d7ebe0 0 397.1px,#cae5d7 0 398.4px,#c3e1d1 0 399.4px,#c5e2d2 0 400.1px,#c3e1d1 0 401.7px,#78bb97 0 403.0px,#89c4a4 0 404.3px,#b7dbc8 0 406.3px,#a2d0b8 0 407.3px,#a9d4bd 0 408.0px,#6eb68f 0 409.6px,#badcca 0 410.6px,#a7d3bb 0 412.2px,#7cbd9b 0 413.2px,#63b187 0 414.8px,#afd7c2 0 416.2px,#e2d1e8 0 417.2px,#ddcbe5 0 418.2px,#f2eaf5 0 419.5px,#e1d0e8 0 421.1px,#e7d9ec 0 422.4px,#e2d2e9 0 424.4px,#dbc7e3 0 425.4px,#e4d5ea 0 426.1px,#ece1f0 0 427.1px,#ddcae5 0 429.1px,#eee4f2 0 430.1px,#efe5f2 0 431.1px,#eadeee 0 432.1px,#e2d1e8 0 433.1px,#eee5f2 0 435.1px,#dcc9e4 0 436.1px,#e0cee7 0 437.1px,#ebe0f0 0 438.4px,#e4d5ea 0 440.4px,#f2eaf5 0 441.6px,#efe6f2 0 442.6px,#e4d4ea 0 443.6px,#e4d5ea 0 444.6px,#e9ddee 0 446.2px,#d6bfdf 0 448.2px,#e4d5ea 0 449.2px,#eadeef 0 451.2px,#d0e7db 0 453.2px,#d2e8dd 0 455.2px,#d6eadf 0 455.9px,#d2e8dc 0 457.9px,#c1e0cf 0 459.9px,#bddecc 0 460.6px,#d0e7db 0 461.6px,#b9dcca 0 463.6px,#d2e9dd 0 464.3px,#bbddcb 0 465.6px,#cee6d9 0 467.6px,#bfdfce 0 468.3px,#d7ebe1 0 469.3px,#a4d1b9 0 471.3px,#c4e1d1 0 472.5px)"></div>
<div style="position:absolute;left:162.22px;top:28.9px;width:10.45px;height:472.5px;background:linear-gradient(#f3ecf5 0 1.0px,#f5eff7 0 1.7px,#fcfafc 0 3.0px,#f5f0f7 0 4.3px,#f6f0f8 0 5.9px,#f3edf6 0 7.2px,#fefdfe 0 8.8px,#ede4f1 0 10.8px,#dbc7e3 0 12.8px,#e9dcee 0 13.8px,#d9c4e2 0 15.8px,#dbc8e3 0 17.1px,#ede3f1 0 17.8px,#ebe0ef 0 18.8px,#f1e9f4 0 20.4px,#f0e8f3 0 22.4px,#eaf5ef 0 24.0px,#d6eadf 0 25.0px,#e7f3ed 0 26.6px,#ffffff 0 27.9px,#deeee5 0 28.9px,#edf6f1 0 30.9px,#d6ebe0 0 32.5px,#e8f3ed 0 33.5px,#e3f1ea 0 35.1px,#e9f4ee 0 37.1px,#e1f0e8 0 38.1px,#e5f2eb 0 39.7px,#c1e0cf 0 40.7px,#d5eadf 0 41.7px,#cce5d8 0 42.4px,#ebf5ef 0 43.7px,#ddeee5 0 44.7px,#c4e1d1 0 45.7px,#c0e0cf 0 46.4px,#c9e4d5 0 47.1px,#b6dbc7 0 49.1px,#cde6d9 0 50.7px,#e2f1e9 0 52.7px,#ecf5f0 0 54.7px,#d9ece2 0 56.7px,#f8f4fa 0 58.7px,#faf7fb 0 59.7px,#f7f3f9 0 61.0px,#f4edf6 0 62.0px,#f2eaf5 0 63.0px,#f8f4fa 0 64.0px,#eee5f2 0 65.0px,#fbf9fc 0 67.0px,#efe7f3 0 67.7px,#decbe5 0 68.7px,#e9ddee 0 70.3px,#e7d9ec 0 71.0px,#d2b9dc 0 72.0px,#e6d8ec 0 73.0px,#eadeef 0 74.3px,#ddc9e4 0 75.3px,#dfcde6 0 77.3px,#ece2f0 0 78.0px,#e3d4ea 0 79.0px,#e3d4e9 0 80.0px,#f2ebf5 0 80.7px,#eadeee 0 81.7px,#f4edf6 0 82.7px,#e8daed 0 84.3px,#e7d9ec 0 85.3px,#ece1f0 0 86.0px,#ede3f1 0 87.3px,#efe6f2 0 88.3px,#f0e7f3 0 89.6px,#efe5f2 0 90.3px,#ebdfef 0 91.9px,#efe6f3 0 92.9px,#dfcde6 0 94.2px,#f1e9f4 0 95.2px,#efe6f3 0 96.2px,#e9dcee 0 97.2px,#e8dbed 0 97.9px,#f6f0f8 0 98.9px,#efe7f3 0 99.6px,#f0e7f3 0 100.9px,#deefe6 0 102.5px,#c7e3d4 0 103.5px,#bedecd 0 104.5px,#9ccdb3 0 105.5px,#fdfcfd 0 106.8px,#faf7fb 0 107.8px,#f4edf6 0 109.4px,#f4eef6 0 110.7px,#dfefe7 0 112.3px,#c9e4d6 0 113.9px,#b9dcc9 0 115.9px,#91c8aa 0 117.5px,#7ebe9c 0 118.5px,#92c8ab 0 120.1px,#8cc5a6 0 121.1px,#f3edf6 0 122.1px,#ede3f1 0 123.7px,#bddecd 0 124.7px,#c2e0d0 0 125.4px,#c7e3d4 0 126.4px,#acd6c0 0 127.4px,#d0e7db 0 129.0px,#e3f1e9 0 131.0px,#b1d8c3 0 132.6px,#fff 0 135.6px,#fdfcfd 0 136.3px,#f1e9f4 0 137.9px,#f7f2f9 0 139.5px,#fbf9fc 0 140.8px,#f2eaf5 0 141.8px,#f8f4f9 0 142.5px,#f8f4f9 0 143.2px,#efe6f3 0 145.2px,#f7f3f9 0 146.2px,#f0e8f3 0 147.2px,#b2d9c4 0 148.5px,#c9e4d6 0 149.5px,#a7d3bb 0 150.5px,#d1e8db 0 152.5px,#b9dcc9 0 153.2px,#a8d3bc 0 154.2px,#efe6f3 0 154.9px,#ede3f1 0 156.5px,#f7f2f9 0 157.2px,#f4eff7 0 157.5px,#f9f5fa 0 159.5px,#f1eaf4 0 160.5px,#f3edf6 0 161.5px,#f4eef7 0 162.5px,#f0e8f4 0 164.1px,#eee5f2 0 165.1px,#e8dbed 0 166.7px,#ede2f1 0 168.0px,#e3d4e9 0 169.0px,#efe6f3 0 170.3px,#f4eef7 0 171.3px,#c4a4d2 0 172.9px,#d1b8dc 0 174.5px,#e2d1e8 0 176.5px,#c8a9d4 0 177.5px,#e2d2e9 0 179.5px,#caacd6 0 181.1px,#e9dcee 0 182.7px,#ccb0d8 0 183.4px,#d8c1e0 0 184.4px,#c09dce 0 185.4px,#d2b9dc 0 186.7px,#eee5f2 0 188.3px,#e2d2e9 0 189.5px,#a9d4bd 0 190.5px,#c7e3d4 0 192.1px,#cfe7da 0 193.4px,#b9dcc9 0 195.0px,#d5eadf 0 196.3px,#a1d0b7 0 197.9px,#c3e1d1 0 198.6px,#daece2 0 199.6px,#c7e3d4 0 200.6px,#ebf5f0 0 201.9px,#9fcfb5 0 202.9px,#b1d8c3 0 204.5px,#d1e8dc 0 205.8px,#d1e8db 0 207.8px,#d4eade 0 208.8px,#b8dbc9 0 209.8px,#d1e8db 0 210.8px,#c1e0cf 0 212.8px,#e8f3ed 0 214.8px,#c9e4d5 0 215.8px,#c7e3d4 0 217.8px,#c1e0d0 0 219.8px,#b9dcca 0 221.8px,#76ba95 0 223.1px,#a2d0b8 0 224.4px,#a3d1b8 0 225.7px,#78bb97 0 226.4px,#72b893 0 228.0px,#63b187 0 229.6px,#bfdfce 0 231.6px,#aad4bd 0 233.2px,#45a270 0 234.8px,#b2d8c4 0 235.8px,#b0d7c2 0 237.1px,#cbe5d7 0 237.8px,#a4d2b9 0 239.1px,#a9d4bd 0 240.4px,#80bf9d 0 242.4px,#8bc5a6 0 244.4px,#8ac4a5 0 245.4px,#87c3a3 0 246.4px,#83c1a0 0 247.4px,#d5eadf 0 248.4px,#6ab48d 0 250.0px,#88c3a3 0 251.0px,#acd5bf 0 252.6px,#89c4a5 0 254.2px,#8dc6a8 0 255.1px,#c9e4d6 0 255.8px,#c9e4d5 0 257.4px,#c8e4d5 0 258.4px,#cee6d9 0 259.4px,#a5d2ba 0 261.4px,#a7d3bb 0 262.7px,#acd5bf 0 263.7px,#afd7c2 0 264.4px,#b7dbc8 0 266.0px,#d3e9dd 0 267.3px,#c1e0cf 0 268.3px,#b3d9c4 0 269.7px,#fff 0 271.4px,#f6f1f8 0 272.4px,#f5f0f7 0 273.7px,#f6f2f8 0 275.0px,#fefefe 0 277.0px,#c7e3d4 0 277.7px,#c4e1d1 0 279.3px,#98cbb0 0 280.0px,#a7d3bb 0 282.0px,#c0dfcf 0 283.0px,#cce5d8 0 285.0px,#cbe5d7 0 287.0px,#efe6f3 0 289.0px,#f4eef7 0 290.0px,#f0e8f3 0 291.6px,#fbf8fc 0 292.9px,#ebdfef 0 293.9px,#e9dcee 0 295.9px,#ebe0f0 0 296.9px,#f6f0f8 0 297.9px,#f0e8f3 0 298.9px,#f0e8f3 0 299.9px,#b2d8c4 0 300.9px,#c4e1d2 0 301.9px,#c2e0d0 0 303.9px,#d8ece1 0 304.2px,#e1d0e8 0 305.8px,#dcc8e4 0 306.8px,#dfcde6 0 308.4px,#e8dbed 0 309.1px,#e9ddee 0 311.1px,#f4eef7 0 312.4px,#f1eaf4 0 313.4px,#f9f6fb 0 314.7px,#ece1f0 0 315.7px,#f7f3f9 0 316.7px,#e4d4ea 0 318.7px,#e1d0e8 0 320.0px,#e5d6ea 0 321.6px,#9bcdb2 0 322.6px,#82c09f 0 323.3px,#add6c0 0 324.3px,#7abc99 0 325.0px,#abd5be 0 326.0px,#f2ebf5 0 327.6px,#f4eef7 0 328.9px,#f7f3f9 0 329.9px,#f6f2f8 0 331.9px,#fbf8fc 0 332.6px,#f1e8f4 0 333.9px,#f2eaf5 0 335.2px,#f2ebf5 0 336.5px,#f1e9f4 0 338.5px,#f2ebf5 0 339.5px,#f3ecf6 0 340.8px,#f5eff7 0 341.6px,#dac5e2 0 343.6px,#e8dbed 0 344.3px,#ddcae5 0 345.0px,#e7daec 0 346.0px,#efe5f2 0 347.0px,#f1e9f4 0 348.0px,#efe6f2 0 350.0px,#f9f5fa 0 351.6px,#f8f4fa 0 352.6px,#f8f5fa 0 353.3px,#ebdfef 0 354.3px,#dbc6e3 0 355.3px,#eadeef 0 356.0px,#e6d8eb 0 357.3px,#e7daec 0 358.6px,#d6bfdf 0 359.6px,#d6bfdf 0 360.3px,#dfcde6 0 361.3px,#d2b8dc 0 362.3px,#caacd6 0 363.0px,#e1d1e8 0 364.6px,#e3d3e9 0 366.6px,#f0e7f3 0 367.9px,#d7c1e0 0 369.5px,#dcc8e4 0 370.8px,#d5bedf 0 371.5px,#fff 0 373.6px,#c6e2d3 0 374.3px,#d7ebe0 0 375.9px,#bedecd 0 376.9px,#e2f0e8 0 377.9px,#b1d8c3 0 379.9px,#b4d9c5 0 380.9px,#d8ebe1 0 382.9px,#b6dac7 0 383.9px,#bcdecc 0 384.9px,#c5e2d3 0 385.9px,#daede3 0 387.9px,#b0d7c2 0 388.6px,#9ccdb3 0 389.6px,#92c8ab 0 391.2px,#7bbd9a 0 392.8px,#79bc98 0 394.8px,#c9e4d5 0 395.8px,#b6dac7 0 397.1px,#cee7da 0 398.4px,#b9dcc9 0 399.4px,#c7e3d4 0 400.1px,#c9e4d5 0 401.7px,#a6d2bb 0 403.0px,#73b993 0 404.3px,#a9d4bd 0 406.3px,#92c8ab 0 407.3px,#a6d2ba 0 408.0px,#85c2a1 0 409.6px,#b8dbc8 0 410.6px,#b3d9c5 0 412.2px,#80bf9d 0 413.2px,#6eb68f 0 414.8px,#b8dbc9 0 416.2px,#e6d9ec 0 417.2px,#e2d2e9 0 418.2px,#e2d2e9 0 419.5px,#e5d6eb 0 421.1px,#e7daed 0 422.4px,#d9c3e1 0 424.4px,#dfcde6 0 425.4px,#ede3f1 0 426.1px,#d8c2e1 0 427.1px,#bb94ca 0 429.1px,#e2d1e8 0 430.1px,#e2d1e8 0 431.1px,#d5bedf 0 432.1px,#d1b7db 0 433.1px,#d3badd 0 435.1px,#ceb3d9 0 436.1px,#dac5e2 0 437.1px,#d7c1e0 0 438.4px,#d2b8dc 0 440.4px,#e2d2e8 0 441.6px,#f3edf6 0 442.6px,#e8dbed 0 443.6px,#e1d1e8 0 444.6px,#efe5f2 0 446.2px,#d6bfdf 0 448.2px,#e6d7eb 0 449.2px,#e5d7eb 0 451.2px,#c4e1d2 0 453.2px,#c7e3d4 0 455.2px,#d3e9dd 0 455.9px,#8ac4a5 0 457.9px,#9fcfb5 0 459.9px,#63b187 0 460.6px,#d2e8dc 0 461.6px,#badcca 0 463.6px,#c8e3d5 0 464.3px,#c2e0d0 0 465.6px,#cae5d7 0 467.6px,#cae4d6 0 468.3px,#c7e3d4 0 469.3px,#b8dbc8 0 471.3px,#c0e0cf 0 472.5px)"></div>
<div style="position:absolute;left:172.61px;top:28.9px;width:10.45px;height:472.5px;background:linear-gradient(#d8ebe1 0 1.0px,#daece3 0 1.7px,#e9dcee 0 3.0px,#e7d9ec 0 4.3px,#ebe0f0 0 5.9px,#ebe0ef 0 7.2px,#e4d4ea 0 8.8px,#e1d0e8 0 10.8px,#bc96cb 0 12.8px,#decbe5 0 13.8px,#c4a4d2 0 15.8px,#be9acd 0 17.1px,#dac6e3 0 17.8px,#e0cfe7 0 18.8px,#e8dbed 0 20.4px,#dcc8e4 0 22.4px,#f7f3f9 0 24.0px,#f6f0f8 0 25.0px,#fcfbfd 0 26.6px,#f8fbfa 0 27.9px,#e6f3ec 0 28.9px,#d0e7db 0 30.9px,#f4eff7 0 32.5px,#fefdfe 0 33.5px,#f9f6fa 0 35.1px,#f6f1f8 0 37.1px,#e1f0e8 0 38.1px,#ebf5f0 0 39.7px,#deeee5 0 40.7px,#dfefe6 0 41.7px,#f5faf8 0 42.4px,#83c1a0 0 43.7px,#75ba95 0 44.7px,#c3e1d1 0 45.7px,#baddca 0 46.4px,#c7e3d4 0 47.1px,#bfdfce 0 49.1px,#d8ece1 0 50.7px,#b2d8c4 0 52.7px,#cee7da 0 54.7px,#b2d8c4 0 56.7px,#f7f3f9 0 58.7px,#e6d8ec 0 59.7px,#eadfef 0 61.0px,#f3ecf6 0 62.0px,#f2ebf5 0 63.0px,#e5d7eb 0 64.0px,#eadeef 0 65.0px,#e4d4ea 0 67.0px,#e9ddee 0 67.7px,#ba93c9 0 68.7px,#e5d6eb 0 70.3px,#c9abd5 0 71.0px,#d2b9dc 0 72.0px,#ddcae5 0 73.0px,#decce6 0 74.3px,#cfb4da 0 75.3px,#c19ecf 0 77.3px,#d4bcdd 0 78.0px,#c3a2d1 0 79.0px,#d8c2e1 0 80.0px,#ebdfef 0 80.7px,#e6d8ec 0 81.7px,#ede3f1 0 82.7px,#f1e9f4 0 84.3px,#f7f3f9 0 85.3px,#f2ebf5 0 86.0px,#c8e3d4 0 87.3px,#d2e8dc 0 88.3px,#bedecd 0 89.6px,#efe5f2 0 90.3px,#ede3f1 0 91.9px,#e7d9ec 0 92.9px,#e6d8ec 0 94.2px,#e5d6eb 0 95.2px,#e9dcee 0 96.2px,#e9dcee 0 97.2px,#e4d4ea 0 97.9px,#d5eade 0 98.9px,#c6e3d4 0 99.6px,#b9dcc9 0 100.9px,#fffeff 0 102.5px,#f0e8f3 0 103.5px,#f0e8f4 0 104.5px,#eadfef 0 105.5px,#b3d9c5 0 106.8px,#a3d1b8 0 107.8px,#6bb58d 0 109.4px,#9fcfb5 0 110.7px,#fdfcfd 0 112.3px,#f4eef7 0 113.9px,#efe6f2 0 115.9px,#a7d3bc 0 117.5px,#8ac4a5 0 118.5px,#79bc98 0 120.1px,#6eb68f 0 121.1px,#a0cfb6 0 122.1px,#84c1a1 0 123.7px,#bddecd 0 124.7px,#cae4d6 0 125.4px,#d7ebe0 0 126.4px,#b1d8c3 0 127.4px,#cce5d8 0 129.0px,#f9f5fa 0 131.0px,#f2eaf5 0 132.6px,#fff 0 135.6px,#89c4a5 0 136.3px,#3b9d69 0 137.9px,#71b892 0 139.5px,#c4e1d1 0 140.8px,#dfefe7 0 141.8px,#bfdfce 0 142.5px,#d7ebe0 0 143.2px,#99ccb1 0 145.2px,#d2e8dd 0 146.2px,#d6eae0 0 147.2px,#74b994 0 148.5px,#9eceb4 0 149.5px,#83c19f 0 150.5px,#deeee5 0 152.5px,#aed6c1 0 153.2px,#b0d7c2 0 154.2px,#b8dcc9 0 154.9px,#b6dac7 0 156.5px,#e2f1e9 0 157.2px,#cee6d9 0 157.5px,#fbf9fc 0 159.5px,#efe6f2 0 160.5px,#f4edf6 0 161.5px,#f8f5fa 0 162.5px,#e6d8ec 0 164.1px,#f3ecf6 0 165.1px,#e7d9ec 0 166.7px,#c8a9d4 0 168.0px,#b890c8 0 169.0px,#e4d5ea 0 170.3px,#dfcde6 0 171.3px,#cfb4da 0 172.9px,#ddcae5 0 174.5px,#d9c4e2 0 176.5px,#d5bdde 0 177.5px,#eadfef 0 179.5px,#d4bbdd 0 181.1px,#decbe5 0 182.7px,#d9c3e1 0 183.4px,#d8c2e0 0 184.4px,#c6a7d3 0 185.4px,#d8c2e1 0 186.7px,#ece1f0 0 188.3px,#e0cfe7 0 189.5px,#60af85 0 190.5px,#91c8aa 0 192.1px,#a2d0b8 0 193.4px,#5dae83 0 195.0px,#83c1a0 0 196.3px,#2f975f 0 197.9px,#78bb97 0 198.6px,#b0d7c2 0 199.6px,#b0d7c2 0 200.6px,#a8d4bc 0 201.9px,#61b085 0 202.9px,#5eae83 0 204.5px,#9accb1 0 205.8px,#9dceb3 0 207.8px,#ddeee5 0 208.8px,#c3e1d1 0 209.8px,#b0d7c2 0 210.8px,#cfe7da 0 212.8px,#d2e8dc 0 214.8px,#cfe7da 0 215.8px,#d9ece2 0 217.8px,#bddecd 0 219.8px,#d3e9de 0 221.8px,#72b893 0 223.1px,#a0cfb6 0 224.4px,#96caae 0 225.7px,#95caae 0 226.4px,#9eceb5 0 228.0px,#63b187 0 229.6px,#abd5bf 0 231.6px,#8fc7a9 0 233.2px,#6ab48d 0 234.8px,#aed6c1 0 235.8px,#abd5bf 0 237.1px,#c5e2d2 0 237.8px,#9dceb3 0 239.1px,#88c3a4 0 240.4px,#a0cfb6 0 242.4px,#8ac4a5 0 244.4px,#7bbd9a 0 245.4px,#75ba95 0 246.4px,#72b893 0 247.4px,#b5dac6 0 248.4px,#8fc7a9 0 250.0px,#85c2a2 0 251.0px,#aad4bd 0 252.6px,#8fc7a9 0 254.2px,#b4d9c5 0 255.1px,#b3d9c5 0 255.8px,#b0d7c2 0 257.4px,#d3e9dd 0 258.4px,#e0efe7 0 259.4px,#8fc7a9 0 261.4px,#5dad82 0 262.7px,#48a373 0 263.7px,#67b38a 0 264.4px,#7abc99 0 266.0px,#a5d2ba 0 267.3px,#f5eff7 0 268.3px,#f6f2f8 0 269.7px,#fff 0 271.4px,#b8dbc8 0 272.4px,#8dc6a7 0 273.7px,#a8d3bc 0 275.0px,#a4d1b9 0 277.0px,#cce6d8 0 277.7px,#d0e7db 0 279.3px,#b7dbc7 0 280.0px,#a9d4bd 0 282.0px,#aad4bd 0 283.0px,#c6e2d3 0 285.0px,#abd5be 0 287.0px,#95caae 0 289.0px,#c3e1d1 0 290.0px,#a5d2ba 0 291.6px,#ebf5f0 0 292.9px,#afd7c1 0 293.9px,#bcddcb 0 295.9px,#afd7c2 0 296.9px,#a8d3bc 0 297.9px,#c1e0cf 0 298.9px,#b8dbc8 0 299.9px,#f9f6fa 0 300.9px,#f1e9f4 0 301.9px,#f2ebf5 0 303.9px,#f1e9f4 0 304.2px,#e9dcee 0 305.8px,#dcc8e4 0 306.8px,#d6c0e0 0 308.4px,#dcc9e4 0 309.1px,#e1d0e8 0 311.1px,#eadfef 0 312.4px,#eee4f2 0 313.4px,#f7f3f9 0 314.7px,#f7f3f9 0 315.7px,#f5eff7 0 316.7px,#c9aad5 0 318.7px,#d0b6db 0 320.0px,#dcc8e4 0 321.6px,#fdfcfe 0 322.6px,#f3edf6 0 323.3px,#f5eff7 0 324.3px,#fbf9fc 0 325.0px,#fbf9fc 0 326.0px,#9dceb3 0 327.6px,#cfe7da 0 328.9px,#c2e0d0 0 329.9px,#c2e0d0 0 331.9px,#a5d2ba 0 332.6px,#50a778 0 333.9px,#b4d9c5 0 335.2px,#acd6c0 0 336.5px,#ddeee5 0 338.5px,#bedecd 0 339.5px,#e4f1ea 0 340.8px,#a4d1b9 0 341.6px,#f2ebf5 0 343.6px,#f4eef6 0 344.3px,#f3ecf6 0 345.0px,#faf7fb 0 346.0px,#f9f6fb 0 347.0px,#f5f0f7 0 348.0px,#fcfafc 0 350.0px,#e8dbed 0 351.6px,#ede3f1 0 352.6px,#e9ddee 0 353.3px,#e1d0e8 0 354.3px,#ccb0d8 0 355.3px,#dfcce6 0 356.0px,#e5d7eb 0 357.3px,#c6a7d3 0 358.6px,#dbc8e3 0 359.6px,#dac5e2 0 360.3px,#dbc7e3 0 361.3px,#cfb4da 0 362.3px,#ceb2d9 0 363.0px,#e7d9ec 0 364.6px,#ebdfef 0 366.6px,#ebdfef 0 367.9px,#e7daed 0 369.5px,#e5d7eb 0 370.8px,#dbc7e3 0 371.5px,#fff 0 373.6px,#69b48c 0 374.3px,#84c1a1 0 375.9px,#4da576 0 376.9px,#bedfcd 0 377.9px,#70b791 0 379.9px,#7bbd9a 0 380.9px,#add6c0 0 382.9px,#b6dac7 0 383.9px,#bedecd 0 384.9px,#afd7c2 0 385.9px,#e0efe7 0 387.9px,#bcddcb 0 388.6px,#a6d2ba 0 389.6px,#afd7c1 0 391.2px,#77bb97 0 392.8px,#a5d2ba 0 394.8px,#d7ebe0 0 395.8px,#b5dac7 0 397.1px,#ecf5f0 0 398.4px,#cbe5d7 0 399.4px,#c8e3d4 0 400.1px,#a2d0b8 0 401.7px,#a4d1b9 0 403.0px,#78bb97 0 404.3px,#81c09e 0 406.3px,#98cbb0 0 407.3px,#b0d7c2 0 408.0px,#6eb68f 0 409.6px,#88c3a4 0 410.6px,#a3d1b8 0 412.2px,#57aa7e 0 413.2px,#6fb791 0 414.8px,#97cbaf 0 416.2px,#ccb0d8 0 417.2px,#b78ec7 0 418.2px,#e3d3e9 0 419.5px,#d4bcdd 0 421.1px,#c6a6d3 0 422.4px,#ccb0d8 0 424.4px,#b48ac5 0 425.4px,#ceb3d9 0 426.1px,#d4bcde 0 427.1px,#c29fcf 0 429.1px,#e0cee7 0 430.1px,#e4d5ea 0 431.1px,#decbe5 0 432.1px,#d0b6db 0 433.1px,#e6d8ec 0 435.1px,#c19ecf 0 436.1px,#d1b7db 0 437.1px,#d4bdde 0 438.4px,#ccafd7 0 440.4px,#e4d5ea 0 441.6px,#e0cfe7 0 442.6px,#ece1f0 0 443.6px,#dfcee6 0 444.6px,#e8daed 0 446.2px,#dac5e2 0 448.2px,#ede3f1 0 449.2px,#e6d8eb 0 451.2px,#72b892 0 453.2px,#5bad81 0 455.2px,#92c8ac 0 455.9px,#b9dcc9 0 457.9px,#c3e1d1 0 459.9px,#b1d8c3 0 460.6px,#cde6d8 0 461.6px,#b6dac7 0 463.6px,#d5eadf 0 464.3px,#cfe7da 0 465.6px,#d5eadf 0 467.6px,#d4e9de 0 468.3px,#d8ebe1 0 469.3px,#a5d2ba 0 471.3px,#c6e2d3 0 472.5px)"></div>
<svg width="398" height="550" viewBox="0 0 398 550" style="position:absolute;left:0;top:0" font-family='"Liberation Sans", Arial, sans-serif'>
<rect x="58.3" y="7.2" width="62.35" height="9.5" fill="#f21d1d"/>
<rect x="120.65" y="7.2" width="62.35" height="9.5" fill="#1a6eae"/>
<rect x="58.30" y="18.2" width="10.44" height="9.2" fill="#1fb89b"/>
<rect x="68.69" y="18.2" width="10.44" height="9.2" fill="#b3a3d6"/>
<rect x="79.08" y="18.2" width="10.44" height="9.2" fill="#fca234"/>
<rect x="89.47" y="18.2" width="10.44" height="9.2" fill="#3cb822"/>
<rect x="99.87" y="18.2" width="10.44" height="9.2" fill="#18b0ec"/>
<rect x="110.26" y="18.2" width="10.44" height="9.2" fill="#1cbccc"/>
<rect x="120.65" y="18.2" width="10.44" height="9.2" fill="#fa8a80"/>
<rect x="131.04" y="18.2" width="10.44" height="9.2" fill="#e6ac12"/>
<rect x="141.43" y="18.2" width="10.44" height="9.2" fill="#d496cc"/>
<rect x="151.82" y="18.2" width="10.44" height="9.2" fill="#10b064"/>
<rect x="162.22" y="18.2" width="10.44" height="9.2" fill="#f882b8"/>
<rect x="172.61" y="18.2" width="10.44" height="9.2" fill="#16baf0"/>
</svg>
<svg width="398" height="550" viewBox="0 0 398 550" style="position:absolute;left:0;top:0" font-family='"Liberation Sans", Arial, sans-serif'>
<path d="M58.3 29.6H52.9V29.8H58.3M58.3 30.2H53.4V30.4H58.3M58.3 30.0H51.7V30.3H53.4M58.3 30.8H51.9V31.1H58.3M58.3 30.7H51.2V30.9H51.9M51.7 30.2H47.4V30.8H51.2M52.9 29.7H46.8V30.5H47.4M58.3 31.9H50.5V32.2H58.3M58.3 31.7H50.2V32.1H50.5M58.3 31.4H49.9V31.9H50.2M46.8 30.1H46.5V31.6H49.9M58.3 32.5H51.2V32.9H58.3M58.3 33.5H51.6V33.7H58.3M58.3 33.2H50.8V33.6H51.6M51.2 32.7H47.6V33.4H50.8M58.3 34.2H52.6V34.4H58.3M52.6 34.3H52.3V34.6H58.3M58.3 34.0H52.0V34.5H52.3M47.6 33.0H46.0V34.2H52.0M58.3 34.8H52.4V35.1H58.3M52.4 35.0H49.1V35.4H58.3M58.3 35.7H53.4V36.0H58.3M49.1 35.2H48.7V35.8H53.4M58.3 36.2H51.3V36.5H58.3M58.3 36.7H53.5V36.9H58.3M58.3 37.2H53.3V37.5H58.3M53.5 36.8H50.9V37.3H53.3M51.3 36.3H50.6V37.1H50.9M58.3 37.7H50.1V38.0H58.3M50.6 36.7H45.8V37.9H50.1M48.7 35.5H45.5V37.3H45.8M58.3 38.5H52.8V38.8H58.3M58.3 38.3H51.2V38.6H52.8M51.2 38.5H50.9V39.1H58.3M50.9 38.8H49.8V39.3H58.3M45.5 36.4H43.6V39.0H49.8M46.0 33.6H40.3V37.7H43.6M46.5 30.9H38.5V35.7H40.3M58.3 40.0H53.4V40.2H58.3M58.3 39.7H52.4V40.1H53.4M58.3 40.5H53.5V40.7H58.3M52.4 39.9H51.5V40.6H53.5M58.3 40.9H53.4V41.1H58.3M51.5 40.2H50.8V41.0H53.4M58.3 41.4H52.9V41.6H58.3M52.9 41.5H51.2V42.0H58.3M50.8 40.6H44.9V41.7H51.2M58.3 42.3H53.6V42.5H58.3M58.3 42.7H52.9V42.9H58.3M53.6 42.4H51.8V42.8H52.9M44.9 41.2H42.6V42.6H51.8M58.3 43.6H53.2V43.8H58.3M53.2 43.7H52.9V44.0H58.3M52.9 43.8H51.1V44.1H58.3M58.3 44.5H51.7V44.7H58.3M58.3 44.3H50.1V44.6H51.7M51.1 44.0H47.8V44.5H50.1M58.3 43.3H47.5V44.2H47.8M58.3 45.2H53.2V45.4H58.3M58.3 45.1H50.6V45.3H53.2M58.3 45.0H49.9V45.2H50.6M58.3 45.9H53.3V46.1H58.3M58.3 45.7H52.2V46.0H53.3M52.2 45.9H48.9V46.4H58.3M49.9 45.1H48.6V46.1H48.9M47.5 43.8H43.9V45.6H48.6M58.3 46.9H52.4V47.2H58.3M58.3 46.6H49.2V47.1H52.4M58.3 47.8H51.6V48.1H58.3M58.3 47.5H51.3V47.9H51.6M49.2 46.8H46.8V47.7H51.3M58.3 48.5H52.0V48.8H58.3M52.0 48.7H51.4V48.9H58.3M58.3 48.2H51.1V48.8H51.4M46.8 47.3H46.2V48.5H51.1M58.3 49.2H51.5V49.4H58.3M58.3 49.5H52.7V49.8H58.3M51.5 49.3H50.1V49.6H52.7M50.1 49.5H49.8V50.1H58.3M46.2 47.9H42.6V49.8H49.8M58.3 50.4H50.3V50.7H58.3M58.3 51.0H52.0V51.2H58.3M52.0 51.1H51.7V51.4H58.3M50.3 50.5H50.0V51.3H51.7M42.6 48.8H41.7V50.9H50.0M58.3 51.6H51.8V51.9H58.3M58.3 52.2H53.4V52.5H58.3M51.8 51.8H51.2V52.3H53.4M58.3 52.7H51.6V53.0H58.3M51.2 52.1H47.4V52.9H51.6M58.3 53.3H52.2V53.5H58.3M52.2 53.4H51.1V53.8H58.3M58.3 54.1H51.7V54.4H58.3M58.3 54.6H52.9V54.8H58.3M51.7 54.3H48.8V54.7H52.9M51.1 53.6H48.5V54.5H48.8M47.4 52.5H46.1V54.0H48.5M41.7 49.9H41.4V53.3H46.1M43.9 44.7H36.8V51.6H41.4M42.6 41.9H32.1V48.1H36.8M38.5 33.3H29.2V45.0H32.1M58.3 56.2H50.4V56.5H58.3M58.3 56.9H52.2V57.2H58.3M58.3 56.7H51.9V57.1H52.2M50.4 56.4H48.8V56.9H51.9M48.8 56.6H48.5V57.5H58.3M58.3 57.8H51.0V58.1H58.3M58.3 58.5H50.8V58.7H58.3M50.8 58.6H50.5V58.9H58.3M58.3 59.0H52.5V59.2H58.3M58.3 59.5H53.0V59.7H58.3M53.0 59.6H50.7V60.1H58.3M52.5 59.1H50.4V59.8H50.7M58.3 60.4H51.8V60.7H58.3M50.4 59.5H46.0V60.5H51.8M50.5 58.7H45.4V60.0H46.0M51.0 58.0H43.9V59.4H45.4M48.5 57.1H41.6V58.7H43.9M58.3 60.9H50.6V61.2H58.3M58.3 61.7H52.6V62.0H58.3M58.3 61.4H52.2V61.8H52.6M50.6 61.1H50.3V61.6H52.2M41.6 57.9H41.3V61.4H50.3M58.3 62.2H52.9V62.4H58.3M58.3 62.6H53.9V62.8H58.3M52.9 62.3H50.6V62.7H53.9M58.3 63.0H51.0V63.3H58.3M51.0 63.2H50.7V63.6H58.3M58.3 64.1H52.0V64.3H58.3M58.3 63.8H51.7V64.2H52.0M50.7 63.4H48.3V64.0H51.7M50.6 62.5H48.0V63.7H48.3M41.3 59.6H41.0V63.1H48.0M58.3 65.1H52.0V65.3H58.3M52.0 65.2H51.7V65.4H58.3M58.3 64.8H51.1V65.3H51.7M58.3 64.5H50.1V65.0H51.1M58.3 65.9H53.0V66.1H58.3M58.3 65.6H52.7V66.0H53.0M58.3 66.3H51.7V66.6H58.3M52.7 65.8H49.5V66.5H51.7M49.5 66.1H49.2V66.9H58.3M58.3 67.2H53.6V67.5H58.3M49.2 66.5H48.8V67.3H53.6M50.1 64.8H45.5V66.9H48.8M58.3 67.7H52.7V68.0H58.3M52.7 67.9H49.6V68.1H58.3M58.3 68.4H51.8V68.7H58.3M49.6 68.0H48.4V68.5H51.8M58.3 68.9H50.8V69.2H58.3M48.4 68.3H48.1V69.1H50.8M45.5 65.9H43.8V68.7H48.1M58.3 70.2H53.6V70.4H58.3M58.3 70.0H51.5V70.3H53.6M58.3 69.8H50.7V70.1H51.5M58.3 69.6H50.0V70.0H50.7M58.3 70.6H52.2V70.9H58.3M52.2 70.8H50.7V71.1H58.3M50.0 69.8H47.1V70.9H50.7M58.3 72.0H52.8V72.3H58.3M58.3 71.6H48.8V72.1H52.8M58.3 71.3H48.5V71.9H48.8M47.1 70.3H45.2V71.6H48.5M58.3 72.6H53.0V72.9H58.3M58.3 73.1H51.5V73.3H58.3M53.0 72.7H49.8V73.2H51.5M45.2 71.0H44.9V72.9H49.8M58.3 73.9H52.4V74.1H58.3M58.3 73.6H52.1V74.0H52.4M58.3 74.3H50.7V74.5H58.3M52.1 73.8H50.4V74.4H50.7M58.3 74.8H53.2V75.0H58.3M53.2 74.9H50.5V75.2H58.3M50.5 75.0H50.2V75.3H58.3M50.4 74.1H47.8V75.2H50.2M58.3 76.0H50.1V76.3H58.3M50.1 76.2H49.8V76.6H58.3M58.3 75.7H49.5V76.4H49.8M47.8 74.6H47.5V76.0H49.5M44.9 72.0H42.0V75.3H47.5M58.3 77.3H50.8V77.5H58.3M58.3 77.0H49.6V77.4H50.8M58.3 77.9H51.0V78.1H58.3M51.0 78.0H50.7V78.3H58.3M58.3 78.8H53.1V79.0H58.3M58.3 78.5H52.5V78.9H53.1M58.3 79.2H50.2V79.5H58.3M52.5 78.7H49.9V79.4H50.2M49.9 79.0H49.6V79.9H58.3M50.7 78.1H44.9V79.4H49.6M49.6 77.2H44.0V78.8H44.9M42.0 73.6H35.2V78.0H44.0M58.3 80.9H52.0V81.2H58.3M58.3 80.6H51.7V81.1H52.0M58.3 81.3H52.4V81.5H58.3M51.7 80.8H50.4V81.4H52.4M58.3 80.2H46.4V81.1H50.4M58.3 81.8H51.6V82.1H58.3M51.6 82.0H51.3V82.5H58.3M46.4 80.7H46.1V82.2H51.3M58.3 83.2H53.4V83.4H58.3M53.4 83.3H53.1V83.6H58.3M53.1 83.4H52.5V83.7H58.3M58.3 82.9H50.9V83.6H52.5M58.3 84.0H52.1V84.2H58.3M52.1 84.1H51.2V84.5H58.3M51.2 84.3H50.9V84.8H58.3M50.9 83.2H44.8V84.6H50.9M46.1 81.4H43.9V83.9H44.8M35.2 75.8H32.3V82.7H43.9M43.8 67.3H32.0V79.2H32.3M41.0 61.3H31.7V73.3H32.0M58.3 86.4H52.4V86.6H58.3M52.4 86.5H52.1V86.8H58.3M58.3 87.3H53.2V87.5H58.3M58.3 87.1H50.4V87.4H53.2M50.4 87.2H49.4V87.8H58.3M49.4 87.5H48.1V88.1H58.3M58.3 88.5H53.2V88.8H58.3M48.1 87.8H47.8V88.6H53.2M58.3 89.1H52.2V89.4H58.3M47.8 88.2H47.5V89.3H52.2M52.1 86.6H44.5V88.8H47.5M58.3 90.0H51.9V90.3H58.3M58.3 89.8H51.5V90.2H51.9M58.3 90.6H50.7V90.9H58.3M50.7 90.7H50.4V91.1H58.3M51.5 90.0H46.7V90.9H50.4M58.3 91.4H51.8V91.6H58.3M58.3 91.2H51.5V91.5H51.8M58.3 92.0H52.8V92.2H58.3M58.3 91.8H50.7V92.1H52.8M50.7 92.0H49.5V92.5H58.3M51.5 91.3H49.1V92.2H49.5M46.7 90.4H43.5V91.8H49.1M58.3 92.7H50.8V92.9H58.3M50.8 92.8H50.5V93.2H58.3M58.3 93.5H49.9V93.9H58.3M58.3 94.4H50.9V94.7H58.3M58.3 94.2H50.6V94.5H50.9M49.9 93.7H49.6V94.4H50.6M50.5 93.0H45.5V94.0H49.6M58.3 95.3H53.4V95.6H58.3M53.4 95.5H51.6V95.8H58.3M58.3 95.0H50.9V95.6H51.6M58.3 96.3H50.9V96.5H58.3M58.3 96.9H51.6V97.1H58.3M58.3 96.7H51.3V97.0H51.6M51.3 96.9H51.0V97.4H58.3M50.9 96.4H47.8V97.1H51.0M58.3 96.0H47.5V96.8H47.8M50.9 95.3H47.2V96.4H47.5M58.3 97.6H53.3V97.9H58.3M53.3 97.8H52.5V98.1H58.3M47.2 95.8H46.9V98.0H52.5M58.3 98.4H52.3V98.7H58.3M52.3 98.6H50.2V99.0H58.3M46.9 96.9H43.1V98.8H50.2M45.5 93.5H42.8V97.8H43.1M58.3 99.4H52.2V99.6H58.3M58.3 99.2H50.0V99.5H52.2M50.0 99.4H49.7V99.9H58.3M58.3 100.1H50.3V100.4H58.3M49.7 99.6H47.8V100.3H50.3M58.3 100.7H51.4V101.0H58.3M47.8 99.9H47.5V100.9H51.4M58.3 101.2H53.7V101.4H58.3M58.3 101.7H52.5V102.0H58.3M53.7 101.3H52.1V101.8H52.5M47.5 100.4H47.2V101.6H52.1M42.8 95.7H36.5V101.0H47.2M43.5 91.1H36.2V98.3H36.5M44.5 87.7H35.9V94.7H36.2M58.3 102.2H51.3V102.5H58.3M58.3 102.8H53.1V103.1H58.3M53.1 103.0H51.8V103.3H58.3M58.3 103.5H51.8V103.7H58.3M51.8 103.1H50.9V103.6H51.8M51.3 102.3H50.1V103.4H50.9M58.3 103.9H51.0V104.1H58.3M58.3 104.6H51.9V104.9H58.3M58.3 104.4H51.6V104.8H51.9M51.0 104.0H48.7V104.6H51.6M58.3 105.2H53.2V105.5H58.3M58.3 105.0H49.7V105.3H53.2M49.7 105.2H48.9V105.7H58.3M48.7 104.3H46.1V105.4H48.9M50.1 102.9H45.8V104.9H46.1M58.3 106.0H51.9V106.2H58.3M58.3 106.4H52.9V106.7H58.3M58.3 107.0H53.4V107.2H58.3M53.4 107.1H51.8V107.4H58.3M52.9 106.5H50.9V107.2H51.8M51.9 106.1H49.9V106.9H50.9M58.3 107.7H53.4V108.0H58.3M49.9 106.5H48.1V107.9H53.4M45.8 103.9H41.7V107.2H48.1M35.9 91.2H35.6V105.5H41.7M58.3 108.2H52.2V108.4H58.3M52.2 108.3H51.9V108.6H58.3M58.3 109.1H51.8V109.3H58.3M58.3 108.8H51.5V109.2H51.8M51.5 109.0H50.9V109.5H58.3M51.9 108.5H49.5V109.2H50.9M58.3 110.3H50.9V110.6H58.3M58.3 110.0H50.6V110.5H50.9M58.3 109.8H50.3V110.3H50.6M58.3 111.7H50.3V112.0H58.3M58.3 111.3H50.0V111.8H50.3M58.3 111.0H47.4V111.6H50.0M50.3 110.0H47.1V111.3H47.4M49.5 108.9H41.8V110.6H47.1M58.3 112.7H51.8V112.9H58.3M58.3 112.3H51.5V112.8H51.8M51.5 112.6H51.0V113.1H58.3M58.3 113.4H52.1V113.7H58.3M58.3 114.1H51.9V114.3H58.3M58.3 113.9H51.6V114.2H51.9M58.3 114.5H51.1V114.7H58.3M51.1 114.6H50.8V115.0H58.3M51.6 114.1H48.9V114.8H50.8M52.1 113.5H48.6V114.4H48.9M58.3 115.7H52.5V115.9H58.3M58.3 115.3H52.2V115.8H52.5M48.6 114.0H46.8V115.6H52.2M58.3 116.1H53.1V116.3H58.3M53.1 116.2H52.6V116.6H58.3M52.6 116.4H50.3V116.9H58.3M46.8 114.8H45.6V116.7H50.3M51.0 112.8H45.3V115.7H45.6M41.8 109.8H41.5V114.3H45.3M35.6 98.4H28.0V112.0H41.5M58.3 117.3H53.4V117.5H58.3M58.3 117.7H51.2V117.9H58.3M51.2 117.8H50.0V118.1H58.3M53.4 117.4H48.2V118.0H50.0M58.3 118.7H53.5V118.9H58.3M53.5 118.8H50.2V119.1H58.3M58.3 118.3H48.5V118.9H50.2M48.2 117.7H46.1V118.6H48.5M58.3 119.7H52.5V119.9H58.3M58.3 119.4H51.9V119.8H52.5M58.3 120.4H53.6V120.6H58.3M58.3 120.2H51.2V120.5H53.6M51.2 120.3H49.5V120.8H58.3M58.3 121.0H50.7V121.3H58.3M49.5 120.6H47.1V121.2H50.7M58.3 121.5H51.6V121.7H58.3M47.1 120.9H46.0V121.6H51.6M51.9 119.6H45.7V121.2H46.0M58.3 121.9H51.9V122.1H58.3M58.3 122.4H53.0V122.6H58.3M51.9 122.0H48.9V122.5H53.0M45.7 120.4H44.6V122.3H48.9M58.3 122.9H51.5V123.2H58.3M58.3 122.8H51.2V123.1H51.5M58.3 123.8H53.5V124.1H58.3M58.3 123.5H51.5V124.0H53.5M58.3 124.6H51.6V124.9H58.3M58.3 124.3H50.4V124.8H51.6M58.3 125.6H53.7V125.8H58.3M58.3 125.5H50.2V125.7H53.7M50.2 125.6H49.9V126.1H58.3M58.3 125.2H49.6V125.9H49.9M50.4 124.5H47.6V125.5H49.6M51.5 123.8H45.8V125.0H47.6M51.2 122.9H42.9V124.4H45.8M44.6 121.3H42.6V123.7H42.9M46.1 118.1H42.3V122.5H42.6M28.0 105.2H27.7V120.3H42.3M58.3 127.5H53.3V127.7H58.3M53.3 127.6H51.7V127.9H58.3M58.3 128.2H53.1V128.4H58.3M51.7 127.7H50.9V128.3H53.1M58.3 128.9H51.5V129.1H58.3M51.5 129.0H51.2V129.3H58.3M51.2 129.2H50.9V129.6H58.3M58.3 128.6H50.2V129.4H50.9M58.3 129.9H51.6V130.2H58.3M51.6 130.1H50.9V130.4H58.3M50.2 129.0H46.4V130.2H50.9M58.3 131.1H49.9V131.4H58.3M58.3 130.7H48.7V131.2H49.9M46.4 129.6H46.1V131.0H48.7M58.3 131.7H52.4V132.0H58.3M52.4 131.9H51.8V132.2H58.3M51.8 132.0H48.3V132.5H58.3M46.1 130.3H43.5V132.2H48.3M50.9 128.0H40.0V131.3H43.5M58.3 133.2H52.2V133.4H58.3M58.3 132.8H51.9V133.3H52.2M51.9 133.1H51.6V133.6H58.3M58.3 134.1H53.3V134.3H58.3M58.3 133.9H51.8V134.2H53.3M51.6 133.3H50.6V134.0H51.8M58.3 134.6H51.6V134.9H58.3M51.6 134.8H51.3V135.1H58.3M50.6 133.7H47.7V134.9H51.3M40.0 129.6H38.5V134.3H47.7M58.3 135.6H53.7V135.8H58.3M58.3 135.4H50.3V135.7H53.7M58.3 136.3H53.5V136.5H58.3M58.3 136.1H52.2V136.4H53.5M58.3 136.8H53.4V137.1H58.3M52.2 136.2H50.5V137.0H53.4M58.3 137.4H52.4V137.6H58.3M50.5 136.6H48.2V137.5H52.4M50.3 135.5H46.4V137.1H48.2M58.3 138.3H51.7V138.5H58.3M58.3 138.0H50.3V138.4H51.7M46.4 136.3H46.1V138.2H50.3M58.3 139.1H53.4V139.3H58.3M58.3 139.0H50.2V139.2H53.4M50.2 139.1H49.9V139.6H58.3M58.3 138.7H48.7V139.3H49.9M46.1 137.2H44.5V139.0H48.7M58.3 139.9H53.1V140.1H58.3M58.3 140.2H53.4V140.5H58.3M53.4 140.4H52.6V140.8H58.3M53.1 140.0H48.9V140.6H52.6M58.3 141.0H52.5V141.3H58.3M48.9 140.3H48.6V141.2H52.5M44.5 138.1H44.2V140.7H48.6M58.3 141.6H52.2V141.8H58.3M58.3 142.2H52.4V142.4H58.3M58.3 142.0H50.7V142.3H52.4M50.7 142.2H50.4V142.7H58.3M52.2 141.7H50.1V142.4H50.4M58.3 143.6H52.3V143.8H58.3M58.3 143.3H51.2V143.7H52.3M58.3 142.9H50.9V143.5H51.2M58.3 144.0H51.0V144.3H58.3M50.9 143.2H50.3V144.1H51.0M58.3 145.3H53.4V145.5H58.3M58.3 145.0H52.2V145.4H53.4M58.3 144.7H48.9V145.2H52.2M50.3 143.7H43.8V144.9H48.9M50.1 142.1H43.5V144.3H43.8M58.3 145.8H52.8V146.0H58.3M58.3 145.7H52.1V145.9H52.8M58.3 146.3H52.6V146.5H58.3M52.1 145.8H50.5V146.4H52.6M58.3 146.7H50.7V147.0H58.3M58.3 147.3H50.6V147.6H58.3M50.7 146.9H50.3V147.4H50.6M58.3 147.9H51.3V148.1H58.3M51.3 148.0H50.9V148.3H58.3M50.9 148.1H50.6V148.5H58.3M50.3 147.2H49.9V148.3H50.6M50.5 146.1H44.5V147.7H49.9M58.3 148.8H51.4V149.2H58.3M58.3 149.6H50.3V149.9H58.3M58.3 150.1H52.7V150.3H58.3M52.7 150.2H49.4V150.6H58.3M50.3 149.7H49.1V150.4H49.4M51.4 149.0H46.4V150.1H49.1M58.3 151.1H51.7V151.4H58.3M58.3 150.8H51.0V151.2H51.7M58.3 151.6H52.3V151.9H58.3M52.3 151.8H52.0V152.1H58.3M51.0 151.0H49.5V151.9H52.0M46.4 149.5H46.1V151.5H49.5M44.5 146.9H43.4V150.5H46.1M58.3 152.5H52.5V152.7H58.3M58.3 152.3H52.2V152.6H52.5M58.3 153.2H50.7V153.5H58.3M58.3 153.0H50.4V153.4H50.7M52.2 152.4H49.8V153.2H50.4M58.3 153.7H52.0V154.0H58.3M52.0 153.8H51.2V154.1H58.3M58.3 154.4H50.9V154.7H58.3M58.3 155.2H52.4V155.5H58.3M58.3 155.0H49.8V155.4H52.4M50.9 154.5H47.9V155.2H49.8M47.9 154.9H47.6V155.8H58.3M51.2 154.0H47.3V155.3H47.6M49.8 152.8H47.0V154.7H47.3M43.4 148.7H41.5V153.7H47.0M58.3 156.1H52.0V156.3H58.3M58.3 156.6H51.0V156.8H58.3M52.0 156.2H49.3V156.7H51.0M58.3 157.2H51.9V157.5H58.3M58.3 157.0H51.6V157.3H51.9M51.6 157.2H49.8V157.7H58.3M49.3 156.4H49.0V157.4H49.8M58.3 158.2H51.4V158.4H58.3M58.3 158.0H51.1V158.3H51.4M51.1 158.1H49.7V158.7H58.3M58.3 158.9H51.9V159.2H58.3M51.9 159.1H50.9V159.4H58.3M50.9 159.2H49.2V159.6H58.3M49.2 159.4H48.9V159.9H58.3M58.3 160.5H53.2V160.8H58.3M58.3 160.2H52.2V160.6H53.2M48.9 159.7H48.0V160.4H52.2M49.7 158.4H44.0V160.0H48.0M49.0 156.9H41.4V159.2H44.0M41.5 151.2H35.8V158.1H41.4M43.5 143.2H30.4V154.7H35.8M44.2 139.4H30.1V148.9H30.4M38.5 132.0H29.8V144.2H30.1M27.7 112.8H25.9V138.1H29.8M29.2 39.1H26.9V67.3H31.7M26.9 53.2H22.7V125.4H25.9M58.3 165.2H56.5V165.4H58.3M58.3 166.0H56.0V166.3H58.3M56.0 166.1H54.9V166.6H58.3M58.3 165.7H54.6V166.4H54.9M56.5 165.3H54.3V166.1H54.6M58.3 167.3H56.5V167.6H58.3M58.3 167.0H55.0V167.4H56.5M54.3 165.7H53.5V167.2H55.0M58.3 168.1H56.7V168.3H58.3M58.3 167.8H56.4V168.2H56.7M58.3 168.5H56.4V168.8H58.3M58.3 169.0H57.0V169.2H58.3M56.4 168.7H55.6V169.1H57.0M58.3 169.7H56.7V169.9H58.3M58.3 170.1H56.4V170.3H58.3M56.7 169.8H56.1V170.2H56.4M58.3 169.4H54.9V170.0H56.1M55.6 168.9H54.4V169.7H54.9M56.4 168.0H51.5V169.3H54.4M53.5 166.4H51.1V168.7H51.5M58.3 170.8H56.3V171.0H58.3M58.3 170.5H56.0V170.9H56.3M58.3 171.2H56.4V171.5H58.3M58.3 171.7H56.4V171.9H58.3M56.4 171.4H55.2V171.8H56.4M58.3 172.3H56.1V172.6H58.3M58.3 172.1H55.6V172.5H56.1M55.2 171.6H53.5V172.3H55.6M56.0 170.7H53.2V171.9H53.5M58.3 172.9H56.1V173.2H58.3M56.1 173.1H55.3V173.5H58.3M53.2 171.3H50.7V173.3H55.3M58.3 173.8H56.2V174.1H58.3M58.3 174.7H56.4V174.9H58.3M58.3 174.4H55.4V174.8H56.4M55.4 174.6H55.1V175.1H58.3M56.2 173.9H53.9V174.8H55.1M58.3 176.0H56.5V176.3H58.3M56.5 176.2H56.2V176.4H58.3M58.3 175.8H55.2V176.3H56.2M58.3 175.6H54.9V176.1H55.2M58.3 175.4H54.0V175.8H54.9M58.3 176.6H56.9V176.8H58.3M54.0 175.6H53.7V176.7H56.9M53.9 174.4H52.8V176.2H53.7M58.3 177.1H56.6V177.3H58.3M58.3 177.6H56.1V177.8H58.3M56.1 177.7H55.1V178.1H58.3M56.6 177.2H54.8V177.9H55.1M58.3 178.4H56.6V178.6H58.3M56.6 178.5H55.9V178.8H58.3M58.3 179.0H56.3V179.2H58.3M55.9 178.6H55.5V179.1H56.3M58.3 179.5H56.3V179.8H58.3M55.5 178.9H54.8V179.6H56.3M54.8 177.6H51.1V179.3H54.8M58.3 180.0H56.4V180.2H58.3M58.3 180.4H55.9V180.7H58.3M55.9 180.6H55.3V181.1H58.3M56.4 180.1H53.9V180.8H55.3M51.1 178.4H48.6V180.4H53.9M58.3 181.4H56.1V181.6H58.3M58.3 181.9H56.4V182.2H58.3M58.3 181.8H56.1V182.1H56.4M56.1 181.5H55.3V181.9H56.1M58.3 182.8H56.6V183.1H58.3M58.3 182.5H56.1V182.9H56.6M56.1 182.7H55.2V183.4H58.3M58.3 183.6H56.2V183.9H58.3M56.2 183.7H55.7V184.1H58.3M55.7 183.9H55.4V184.3H58.3M58.3 184.5H56.6V184.8H58.3M58.3 185.5H56.6V185.7H58.3M58.3 185.3H56.3V185.6H56.6M58.3 185.1H56.0V185.5H56.3M56.6 184.7H54.8V185.3H56.0M55.4 184.1H52.9V185.0H54.8M55.2 183.0H50.3V184.6H52.9M55.3 181.7H48.2V183.8H50.3M48.6 179.4H47.9V182.8H48.2M52.8 175.3H43.8V181.1H47.9M50.7 172.3H40.3V178.2H43.8M51.1 167.5H32.0V175.2H40.3M58.3 187.6H56.6V187.8H58.3M58.3 187.4H55.9V187.7H56.6M58.3 187.1H55.6V187.5H55.9M58.3 188.5H57.0V188.7H58.3M58.3 188.3H56.6V188.6H57.0M56.6 188.4H55.7V188.9H58.3M55.7 188.6H55.4V189.0H58.3M58.3 188.0H55.0V188.8H55.4M55.6 187.3H54.1V188.4H55.0M58.3 189.2H56.6V189.5H58.3M58.3 189.7H56.5V190.0H58.3M56.6 189.4H54.8V189.8H56.5M58.3 190.3H55.5V190.6H58.3M54.8 189.6H54.5V190.4H55.5M58.3 190.9H56.6V191.1H58.3M58.3 191.3H56.8V191.6H58.3M56.8 191.5H55.3V191.9H58.3M55.3 191.7H55.0V192.1H58.3M58.3 192.3H56.6V192.5H58.3M55.0 191.9H54.7V192.4H56.6M56.6 191.0H52.9V192.1H54.7M54.5 190.0H52.6V191.6H52.9M58.3 192.9H56.4V193.1H58.3M56.4 193.0H56.1V193.4H58.3M58.3 192.7H55.4V193.2H56.1M58.3 193.8H55.9V194.1H58.3M55.9 193.9H55.0V194.4H58.3M58.3 194.7H56.7V194.9H58.3M56.7 194.8H56.4V195.1H58.3M56.4 194.9H55.6V195.3H58.3M55.0 194.1H53.1V195.1H55.6M55.4 193.0H52.8V194.6H53.1M52.6 190.8H48.5V193.8H52.8M54.1 187.9H46.0V192.3H48.5M58.3 195.5H56.7V195.7H58.3M58.3 195.9H55.9V196.2H58.3M56.7 195.6H55.6V196.1H55.9M58.3 196.6H56.2V196.8H58.3M56.2 196.7H55.9V197.0H58.3M55.9 196.8H55.3V197.2H58.3M58.3 197.7H56.4V197.9H58.3M58.3 197.5H55.5V197.8H56.4M55.3 197.0H54.1V197.6H55.5M55.6 195.8H53.3V197.3H54.1M58.3 198.3H56.3V198.6H58.3M58.3 198.2H55.9V198.5H56.3M55.9 198.3H55.6V198.8H58.3M53.3 196.6H53.0V198.5H55.6M58.3 199.0H55.6V199.3H58.3M55.6 199.2H55.3V199.7H58.3M58.3 200.2H56.0V200.5H58.3M58.3 199.9H55.3V200.3H56.0M55.3 199.4H53.3V200.1H55.3M53.0 197.6H51.3V199.8H53.3M46.0 190.1H42.1V198.7H51.3M58.3 201.1H56.9V201.3H58.3M58.3 200.9H56.2V201.2H56.9M58.3 200.7H55.9V201.1H56.2M58.3 201.6H56.3V201.8H58.3M58.3 202.3H56.3V202.6H58.3M58.3 202.1H55.9V202.5H56.3M56.3 201.7H54.6V202.3H55.9M58.3 202.9H56.7V203.1H58.3M56.7 203.0H55.7V203.4H58.3M54.6 202.0H54.0V203.2H55.7M55.9 200.9H52.2V202.6H54.0M58.3 204.0H56.3V204.2H58.3M56.3 204.1H56.0V204.5H58.3M58.3 203.7H55.7V204.3H56.0M55.7 204.0H54.7V204.8H58.3M52.2 201.7H49.5V204.4H54.7M42.1 194.4H37.6V203.1H49.5M58.3 205.1H56.3V205.3H58.3M58.3 205.6H56.8V205.9H58.3M56.8 205.7H56.3V206.1H58.3M56.3 205.2H55.4V205.9H56.3M58.3 206.7H56.1V207.0H58.3M58.3 206.3H55.3V206.8H56.1M55.4 205.5H52.0V206.6H55.3M58.3 207.3H56.1V207.6H58.3M56.1 207.4H55.8V207.7H58.3M58.3 207.9H56.8V208.1H58.3M58.3 208.5H56.7V208.7H58.3M58.3 208.4H56.4V208.6H56.7M58.3 209.2H56.1V209.4H58.3M58.3 209.0H55.8V209.3H56.1M55.8 209.1H55.1V209.6H58.3M55.1 209.4H54.8V209.9H58.3M56.4 208.5H53.5V209.6H54.8M56.8 208.0H53.2V209.1H53.5M55.8 207.6H52.9V208.5H53.2M52.0 206.1H49.4V208.1H52.9M58.3 210.3H56.5V210.6H58.3M58.3 210.1H55.3V210.4H56.5M55.3 210.3H54.5V210.9H58.3M58.3 211.5H56.6V211.8H58.3M58.3 211.2H56.0V211.7H56.6M56.0 211.5H55.7V212.1H58.3M54.5 210.6H53.0V211.8H55.7M58.3 212.7H56.5V212.9H58.3M58.3 212.4H55.6V212.8H56.5M55.6 212.6H55.3V213.1H58.3M58.3 213.9H56.6V214.2H58.3M58.3 213.7H56.3V214.1H56.6M58.3 213.4H54.6V213.9H56.3M55.3 212.8H54.0V213.6H54.6M58.3 214.4H56.7V214.7H58.3M56.7 214.5H55.6V215.0H58.3M58.3 215.3H55.6V215.6H58.3M55.6 214.8H53.8V215.4H55.6M54.0 213.2H51.0V215.1H53.8M53.0 211.2H47.2V214.2H51.0M58.3 216.1H56.5V216.4H58.3M58.3 215.9H55.6V216.3H56.5M58.3 216.6H56.2V217.0H58.3M56.2 216.8H55.2V217.3H58.3M58.3 217.4H56.7V217.7H58.3M55.2 217.0H54.9V217.6H56.7M55.6 216.1H53.2V217.3H54.9M47.2 212.7H46.9V216.7H53.2M49.4 207.1H39.1V214.7H46.9M37.6 198.7H36.5V210.9H39.1M58.3 219.1H56.6V219.3H58.3M56.6 219.2H55.8V219.5H58.3M55.8 219.4H55.5V219.8H58.3M58.3 220.8H56.5V221.0H58.3M58.3 220.5H56.2V220.9H56.5M58.3 220.2H55.2V220.7H56.2M55.5 219.6H52.8V220.4H55.2M58.3 221.3H56.7V221.5H58.3M56.7 221.4H55.8V221.8H58.3M58.3 222.3H56.4V222.5H58.3M58.3 222.1H56.1V222.4H56.4M55.8 221.6H54.3V222.2H56.1M52.8 220.0H50.8V221.9H54.3M58.3 222.7H56.5V222.9H58.3M58.3 223.2H56.2V223.5H58.3M56.5 222.8H55.1V223.3H56.2M55.1 223.1H54.8V223.8H58.3M58.3 224.0H56.9V224.2H58.3M58.3 224.7H56.6V224.9H58.3M58.3 224.5H55.7V224.8H56.6M56.9 224.1H55.4V224.7H55.7M55.4 224.4H54.3V225.2H58.3M58.3 225.5H56.6V225.9H58.3M58.3 226.1H56.5V226.4H58.3M56.5 226.2H55.8V226.6H58.3M56.6 225.7H54.5V226.4H55.8M54.3 224.8H53.6V226.0H54.5M54.8 223.4H51.7V225.4H53.6M58.3 226.8H56.5V227.0H58.3M58.3 226.7H56.2V226.9H56.5M56.2 226.8H55.5V227.3H58.3M55.5 227.0H55.2V227.5H58.3M58.3 228.0H56.3V228.2H58.3M58.3 227.8H56.0V228.1H56.3M55.2 227.3H54.0V227.9H56.0M51.7 224.4H50.0V227.6H54.0M50.8 221.0H42.1V226.0H50.0M58.3 228.9H57.0V229.1H58.3M58.3 228.6H56.3V229.0H57.0M58.3 229.2H56.3V229.4H58.3M58.3 229.7H56.4V230.0H58.3M56.3 229.3H55.6V229.9H56.4M56.3 228.8H53.0V229.6H55.6M58.3 230.3H56.3V230.6H58.3M58.3 230.8H56.6V231.1H58.3M56.3 230.4H54.7V231.0H56.6M54.7 230.7H54.4V231.4H58.3M53.0 229.2H51.8V231.0H54.4M58.3 231.8H56.6V232.0H58.3M58.3 232.2H56.3V232.5H58.3M56.6 231.9H55.0V232.3H56.3M58.3 232.8H56.1V233.0H58.3M58.3 233.3H55.9V233.6H58.3M56.1 232.9H55.5V233.5H55.9M55.0 232.1H53.4V233.2H55.5M51.8 230.1H49.4V232.6H53.4M58.3 234.1H56.9V234.4H58.3M56.9 234.3H56.3V234.6H58.3M56.3 234.4H55.0V234.8H58.3M58.3 233.8H54.2V234.6H55.0M58.3 235.3H56.2V235.5H58.3M56.2 235.4H55.9V235.8H58.3M58.3 235.1H55.3V235.6H55.9M54.2 234.2H53.8V235.4H55.3M58.3 236.0H56.0V236.2H58.3M58.3 236.6H55.9V236.9H58.3M56.0 236.1H54.2V236.7H55.9M53.8 234.8H52.0V236.4H54.2M49.4 231.4H44.8V235.6H52.0M42.1 223.5H41.8V233.5H44.8M58.3 237.5H56.0V237.8H58.3M58.3 237.2H55.1V237.7H56.0M58.3 238.1H56.3V238.3H58.3M56.3 238.2H55.8V238.6H58.3M58.3 238.8H56.5V239.0H58.3M56.5 238.9H55.1V239.3H58.3M55.8 238.4H54.2V239.1H55.1M58.3 240.0H55.8V240.3H58.3M55.8 240.2H55.4V240.6H58.3M58.3 239.7H54.1V240.4H55.4M54.2 238.8H53.8V240.0H54.1M55.1 237.4H50.3V239.4H53.8M58.3 240.9H56.2V241.1H58.3M58.3 241.2H56.3V241.5H58.3M56.2 241.0H54.7V241.4H56.3M54.7 241.2H54.4V241.8H58.3M50.3 238.4H48.9V241.5H54.4M58.3 242.5H56.3V242.7H58.3M56.3 242.6H56.0V243.0H58.3M58.3 242.2H54.6V242.8H56.0M58.3 243.4H56.1V243.7H58.3M58.3 243.2H55.8V243.5H56.1M54.6 242.5H54.3V243.4H55.8M58.3 244.0H56.8V244.2H58.3M58.3 244.4H55.8V244.8H58.3M58.3 245.0H56.5V245.2H58.3M56.5 245.1H56.2V245.5H58.3M55.8 244.6H54.5V245.3H56.2M56.8 244.1H53.6V245.0H54.5M54.3 242.9H51.6V244.5H53.6M58.3 245.8H56.1V246.0H58.3M58.3 246.5H56.5V246.8H58.3M56.5 246.6H55.3V247.1H58.3M58.3 246.3H55.0V246.9H55.3M56.1 245.9H53.2V246.6H55.0M58.3 247.4H56.6V247.6H58.3M58.3 248.0H56.2V248.2H58.3M58.3 247.8H55.9V248.1H56.2M56.6 247.5H54.8V247.9H55.9M53.2 246.3H52.2V247.7H54.8M51.6 243.7H48.3V247.0H52.2M48.9 240.0H44.9V245.4H48.3M58.3 248.7H56.3V248.9H58.3M58.3 248.4H55.7V248.8H56.3M58.3 249.4H56.6V249.6H58.3M58.3 249.9H55.7V250.2H58.3M56.6 249.5H55.4V250.1H55.7M58.3 249.2H55.0V249.8H55.4M58.3 250.8H56.7V251.0H58.3M58.3 250.5H56.3V250.9H56.7M55.0 249.5H52.6V250.7H56.3M55.7 248.6H52.3V250.1H52.6M44.9 242.7H38.7V249.4H52.3M58.3 251.2H56.4V251.4H58.3M58.3 251.7H56.8V251.9H58.3M56.8 251.8H56.1V252.2H58.3M56.4 251.3H55.0V252.0H56.1M58.3 252.5H56.9V252.7H58.3M58.3 253.0H56.4V253.4H58.3M56.4 253.2H56.0V253.7H58.3M56.9 252.6H53.7V253.4H56.0M58.3 254.5H57.0V254.7H58.3M57.0 254.6H55.8V254.9H58.3M58.3 254.3H55.5V254.8H55.8M55.5 254.5H54.9V255.2H58.3M58.3 254.0H54.3V254.9H54.9M53.7 253.0H53.2V254.4H54.3M58.3 255.7H56.1V255.9H58.3M58.3 255.4H55.8V255.8H56.1M58.3 256.1H56.5V256.4H58.3M55.8 255.6H55.5V256.3H56.5M53.2 253.7H50.5V255.9H55.5M55.0 251.6H47.6V254.8H50.5M58.3 256.7H56.2V256.9H58.3M56.2 256.8H55.9V257.2H58.3M58.3 257.7H56.8V258.0H58.3M58.3 257.4H56.3V257.9H56.8M58.3 258.4H56.2V258.7H58.3M58.3 258.1H55.9V258.5H56.2M58.3 258.9H56.1V259.2H58.3M55.9 258.3H54.7V259.0H56.1M56.3 257.7H53.3V258.7H54.7M55.9 257.0H53.0V258.2H53.3M58.3 259.4H56.1V259.6H58.3M56.1 259.5H55.8V259.8H58.3M55.8 259.7H55.5V260.0H58.3M58.3 260.5H56.6V260.8H58.3M58.3 260.3H55.5V260.7H56.6M55.5 259.8H55.0V260.5H55.5M53.0 257.6H49.5V260.1H55.0M58.3 261.6H56.1V261.8H58.3M56.1 261.7H55.8V262.1H58.3M58.3 261.4H55.5V261.9H55.8M58.3 261.1H54.4V261.6H55.5M58.3 262.6H56.6V262.8H58.3M58.3 262.4H56.2V262.7H56.6M58.3 262.2H55.2V262.6H56.2M58.3 263.1H56.7V263.3H58.3M55.2 262.4H54.9V263.2H56.7M54.4 261.4H53.6V262.8H54.9M49.5 258.9H46.6V262.1H53.6M47.6 253.2H38.9V260.5H46.6M58.3 264.0H56.0V264.3H58.3M58.3 263.8H55.6V264.1H56.0M58.3 263.5H55.1V264.0H55.6M58.3 264.5H56.3V264.8H58.3M56.3 264.7H55.0V265.1H58.3M55.0 264.9H54.7V265.4H58.3M55.1 263.8H52.6V265.1H54.7M58.3 265.7H56.1V266.0H58.3M58.3 266.2H56.4V266.5H58.3M56.1 265.8H55.7V266.3H56.4M52.6 264.5H52.0V266.1H55.7M38.9 256.9H38.6V265.3H52.0M38.7 246.0H35.7V261.1H38.6M41.8 228.5H29.0V253.5H35.7M58.3 266.6H56.1V266.9H58.3M58.3 267.6H56.4V267.8H58.3M56.4 267.7H56.1V268.0H58.3M58.3 267.3H55.8V267.8H56.1M56.1 266.8H54.5V267.6H55.8M58.3 268.2H56.8V268.5H58.3M54.5 267.2H52.5V268.3H56.8M58.3 268.7H56.3V268.9H58.3M58.3 269.3H56.3V269.5H58.3M58.3 270.1H56.7V270.3H58.3M58.3 269.9H55.8V270.2H56.7M58.3 269.7H55.1V270.1H55.8M55.1 269.9H54.8V270.6H58.3M56.3 269.4H53.8V270.2H54.8M56.3 268.8H52.5V269.8H53.8M52.5 267.7H49.0V269.3H52.5M58.3 271.0H56.3V271.2H58.3M58.3 271.4H56.2V271.6H58.3M58.3 272.0H56.8V272.2H58.3M58.3 271.8H56.1V272.1H56.8M56.2 271.5H55.8V272.0H56.1M56.3 271.1H53.6V271.7H55.8M58.3 272.4H55.7V272.7H58.3M58.3 273.1H56.0V273.3H58.3M56.0 273.2H55.7V273.5H58.3M55.7 272.6H54.5V273.4H55.7M58.3 273.7H56.9V274.0H58.3M58.3 274.2H56.1V274.6H58.3M56.1 274.4H55.8V274.9H58.3M56.9 273.8H55.4V274.6H55.8M58.3 275.4H56.2V275.6H58.3M56.2 275.5H55.9V275.8H58.3M58.3 275.1H55.6V275.7H55.9M55.4 274.2H54.4V275.4H55.6M54.5 273.0H50.0V274.8H54.4M53.6 271.4H49.5V273.9H50.0M58.3 276.4H56.9V276.6H58.3M56.9 276.5H55.8V276.7H58.3M58.3 276.1H55.5V276.6H55.8M58.3 277.0H57.0V277.2H58.3M55.5 276.3H54.4V277.1H57.0M49.5 272.7H48.5V276.7H54.4M49.0 268.5H41.6V274.7H48.5M58.3 277.4H56.3V277.6H58.3M58.3 278.1H56.2V278.4H58.3M58.3 277.9H55.9V278.3H56.2M56.3 277.5H54.6V278.1H55.9M58.3 278.9H56.5V279.1H58.3M56.5 279.0H55.8V279.3H58.3M58.3 278.7H55.4V279.2H55.8M58.3 280.0H56.5V280.3H58.3M58.3 279.7H54.6V280.2H56.5M55.4 278.9H53.4V279.9H54.6M58.3 280.6H56.7V280.9H58.3M56.7 280.7H56.3V281.1H58.3M56.3 280.9H55.9V281.2H58.3M53.4 279.4H51.7V281.1H55.9M58.3 281.5H56.1V281.9H58.3M56.1 281.7H55.3V282.2H58.3M58.3 282.5H56.2V282.7H58.3M55.3 281.9H54.6V282.6H56.2M58.3 283.0H56.7V283.3H58.3M54.6 282.3H54.3V283.2H56.7M51.7 280.2H48.1V282.7H54.3M54.6 277.8H47.8V281.5H48.1M41.6 271.6H40.3V279.6H47.8M29.0 241.0H28.5V275.6H40.3M58.3 284.7H56.8V285.0H58.3M58.3 285.2H56.3V285.5H58.3M58.3 285.9H56.1V286.1H58.3M58.3 286.4H56.1V286.6H58.3M56.1 286.0H55.8V286.5H56.1M56.3 285.4H55.0V286.3H55.8M56.8 284.9H52.5V285.8H55.0M58.3 286.7H56.4V287.0H58.3M58.3 287.4H56.6V287.6H58.3M58.3 287.2H56.3V287.5H56.6M56.3 287.3H55.3V287.8H58.3M56.4 286.9H55.0V287.6H55.3M55.0 287.2H54.7V288.2H58.3M58.3 288.5H55.8V288.8H58.3M58.3 289.1H56.2V289.5H58.3M55.8 288.7H54.5V289.3H56.2M54.7 287.7H52.7V289.0H54.5M58.3 289.7H56.8V289.9H58.3M56.8 289.8H55.6V290.3H58.3M58.3 290.9H56.1V291.1H58.3M58.3 290.8H55.8V291.0H56.1M55.8 290.9H55.5V291.4H58.3M58.3 290.6H54.9V291.2H55.5M58.3 291.7H56.1V291.9H58.3M56.1 291.8H55.8V292.1H58.3M54.9 290.9H53.3V291.9H55.8M55.6 290.0H53.0V291.4H53.3M58.3 292.9H56.8V293.1H58.3M56.8 293.0H55.5V293.4H58.3M58.3 292.6H55.2V293.2H55.5M58.3 292.3H54.9V292.9H55.2M58.3 293.8H56.0V294.1H58.3M58.3 293.6H55.7V294.0H56.0M54.9 292.6H53.4V293.8H55.7M53.0 290.7H51.6V293.2H53.4M52.7 288.3H44.9V291.9H51.6M52.5 285.3H42.4V290.1H44.9M58.3 294.4H56.1V294.6H58.3M56.1 294.5H55.7V294.8H58.3M58.3 295.2H56.9V295.4H58.3M58.3 294.9H56.1V295.3H56.9M55.7 294.6H54.4V295.1H56.1M58.3 295.7H55.9V296.1H58.3M58.3 296.7H56.6V296.9H58.3M58.3 296.4H55.3V296.8H56.6M55.9 295.9H53.7V296.6H55.3M58.3 297.3H56.0V297.6H58.3M56.0 297.5H55.7V297.9H58.3M58.3 297.1H55.1V297.7H55.7M53.7 296.2H52.1V297.4H55.1M54.4 294.9H49.9V296.8H52.1M42.4 287.7H42.1V295.8H49.9M28.5 258.3H27.0V291.8H42.1M32.0 171.4H30.9V204.8H36.5M30.9 188.1H21.5V275.1H27.0M58.3 301.4H54.5V301.6H58.3M58.3 301.1H53.0V301.5H54.5M53.0 301.3H52.7V301.9H58.3M58.3 302.1H55.2V302.4H58.3M58.3 302.8H54.5V303.0H58.3M58.3 303.5H53.5V303.8H58.3M58.3 303.2H53.2V303.6H53.5M54.5 302.9H51.6V303.4H53.2M55.2 302.3H51.3V303.2H51.6M58.3 304.4H55.3V304.6H58.3M58.3 304.1H54.1V304.5H55.3M51.3 302.7H51.0V304.3H54.1M52.7 301.6H48.1V303.5H51.0M58.3 304.9H55.2V305.1H58.3M58.3 305.7H53.5V306.0H58.3M58.3 305.4H53.2V305.9H53.5M55.2 305.0H52.0V305.6H53.2M58.3 306.5H54.6V306.8H58.3M58.3 306.3H54.2V306.7H54.6M52.0 305.3H50.2V306.5H54.2M58.3 307.2H55.3V307.5H58.3M58.3 307.6H55.3V307.8H58.3M55.3 307.3H53.9V307.7H55.3M58.3 308.4H55.0V308.6H58.3M58.3 308.1H53.3V308.5H55.0M58.3 308.8H55.2V309.0H58.3M53.3 308.3H51.9V308.9H55.2M53.9 307.5H51.1V308.6H51.9M58.3 309.3H53.5V309.6H58.3M58.3 309.9H55.7V310.1H58.3M55.7 310.0H54.0V310.4H58.3M53.5 309.5H51.6V310.2H54.0M58.3 310.8H55.8V311.0H58.3M58.3 310.6H54.2V310.9H55.8M58.3 311.5H54.8V311.7H58.3M54.8 311.6H53.3V312.0H58.3M58.3 311.2H52.9V311.8H53.3M54.2 310.7H50.9V311.5H52.9M51.6 309.8H50.6V311.1H50.9M51.1 308.1H46.8V310.5H50.6M50.2 305.9H41.2V309.3H46.8M48.1 302.6H40.9V307.6H41.2M58.3 312.3H54.3V312.6H58.3M58.3 312.9H53.7V313.2H58.3M54.3 312.5H51.6V313.1H53.7M58.3 313.5H55.5V313.8H58.3M51.6 312.8H51.3V313.6H55.5M58.3 314.5H55.2V314.7H58.3M58.3 314.1H53.4V314.6H55.2M58.3 315.2H55.1V315.4H58.3M58.3 315.0H54.4V315.3H55.1M53.4 314.4H51.0V315.1H54.4M58.3 315.7H54.2V316.1H58.3M54.2 315.9H53.3V316.4H58.3M58.3 316.9H54.6V317.1H58.3M58.3 316.7H53.6V317.0H54.6M53.3 316.2H51.5V316.8H53.6M51.0 314.8H47.2V316.5H51.5M51.3 313.2H45.2V315.6H47.2M40.9 305.1H36.0V314.4H45.2M58.3 317.9H55.6V318.1H58.3M58.3 317.7H53.2V318.0H55.6M53.2 317.9H52.9V318.4H58.3M58.3 317.4H51.4V318.1H52.9M58.3 318.6H55.4V318.9H58.3M51.4 317.8H51.1V318.8H55.4M58.3 319.2H55.1V319.5H58.3M58.3 320.0H54.1V320.2H58.3M54.1 320.1H53.6V320.5H58.3M58.3 319.7H53.3V320.3H53.6M55.1 319.4H52.6V320.0H53.3M58.3 320.6H55.1V320.8H58.3M55.1 320.7H54.0V321.2H58.3M58.3 321.5H55.6V321.7H58.3M58.3 322.0H54.5V322.3H58.3M54.5 322.2H52.8V322.6H58.3M52.8 322.4H51.7V322.9H58.3M55.6 321.6H51.4V322.6H51.7M54.0 321.0H50.1V322.1H51.4M52.6 319.7H49.8V321.5H50.1M51.1 318.3H47.6V320.6H49.8M58.3 323.5H53.7V323.8H58.3M53.7 323.6H53.4V324.0H58.3M58.3 324.2H55.0V324.5H58.3M53.4 323.8H53.1V324.4H55.0M58.3 323.2H52.4V324.1H53.1M58.3 324.8H55.3V325.1H58.3M52.4 323.6H49.7V325.0H55.3M58.3 325.4H55.6V325.6H58.3M58.3 325.8H55.2V326.1H58.3M58.3 326.5H54.0V326.7H58.3M58.3 326.3H53.4V326.6H54.0M58.3 327.0H55.5V327.3H58.3M53.4 326.4H51.8V327.1H55.5M55.2 326.0H51.5V326.8H51.8M55.6 325.5H51.2V326.4H51.5M58.3 327.6H54.1V327.9H58.3M58.3 328.2H55.2V328.4H58.3M58.3 329.1H54.0V329.4H58.3M54.0 329.2H53.1V329.6H58.3M58.3 328.8H52.2V329.4H53.1M55.2 328.3H51.3V329.1H52.2M54.1 327.7H49.7V328.7H51.3M51.2 325.9H48.9V328.2H49.7M49.7 324.3H45.9V327.1H48.9M58.3 330.1H55.0V330.4H58.3M58.3 329.8H53.3V330.2H55.0M53.3 330.0H53.0V330.6H58.3M58.3 331.1H54.1V331.4H58.3M58.3 330.8H53.8V331.3H54.1M53.8 331.0H53.5V331.6H58.3M58.3 332.0H55.1V332.2H58.3M55.1 332.1H54.8V332.4H58.3M58.3 331.8H53.5V332.3H54.8M53.5 331.3H52.2V332.0H53.5M53.0 330.3H51.2V331.7H52.2M45.9 325.7H44.0V331.0H51.2M47.6 319.4H33.5V328.3H44.0M36.0 309.7H29.9V323.9H33.5M58.3 334.0H55.2V334.2H58.3M58.3 333.8H53.6V334.1H55.2M53.6 333.9H53.0V334.4H58.3M53.0 334.2H51.8V334.8H58.3M58.3 335.1H54.5V335.3H58.3M54.5 335.2H54.2V335.5H58.3M54.2 335.4H52.8V335.8H58.3M51.8 334.5H51.5V335.6H52.8M58.3 336.1H54.3V336.3H58.3M58.3 337.0H55.5V337.2H58.3M58.3 336.8H53.5V337.1H55.5M58.3 336.5H52.9V337.0H53.5M58.3 337.5H54.7V337.7H58.3M52.9 336.7H51.2V337.6H54.7M54.3 336.2H50.9V337.2H51.2M58.3 337.9H53.9V338.2H58.3M50.9 336.7H50.1V338.0H53.9M58.3 338.8H54.4V339.0H58.3M58.3 338.7H54.1V338.9H54.4M58.3 339.3H55.0V339.6H58.3M54.1 338.8H51.9V339.5H55.0M58.3 338.4H51.6V339.1H51.9M58.3 340.2H55.0V340.4H58.3M58.3 339.9H53.4V340.3H55.0M51.6 338.8H50.1V340.1H53.4M50.1 337.4H45.7V339.4H50.1M51.5 335.0H45.4V338.4H45.7M58.3 340.7H54.1V340.9H58.3M54.1 340.8H53.8V341.1H58.3M58.3 341.3H54.0V341.6H58.3M54.0 341.4H53.7V341.8H58.3M58.3 342.3H55.0V342.5H58.3M58.3 342.0H54.7V342.4H55.0M53.7 341.6H53.4V342.2H54.7M53.8 340.9H49.8V341.9H53.4M58.3 342.6H54.9V342.8H58.3M54.9 342.7H53.3V343.1H58.3M53.3 342.9H53.0V343.4H58.3M53.0 343.1H52.7V343.6H58.3M58.3 344.0H54.3V344.3H58.3M54.3 344.1H54.0V344.6H58.3M58.3 345.0H54.2V345.3H58.3M54.0 344.4H51.1V345.1H54.2M52.7 343.4H48.8V344.8H51.1M49.8 341.4H48.5V344.1H48.8M45.4 336.7H44.1V342.7H48.5M58.3 345.6H55.0V346.0H58.3M58.3 346.3H54.2V346.6H58.3M55.0 345.8H51.8V346.5H54.2M58.3 346.9H53.8V347.2H58.3M53.8 347.1H53.5V347.4H58.3M58.3 347.7H54.9V348.0H58.3M54.9 347.9H53.2V348.3H58.3M53.5 347.3H50.7V348.1H53.2M58.3 348.6H54.4V348.8H58.3M58.3 349.2H55.6V349.5H58.3M58.3 349.0H54.3V349.4H55.6M54.3 349.2H51.8V349.8H58.3M54.4 348.7H51.5V349.5H51.8M50.7 347.7H50.4V349.1H51.5M51.8 346.1H47.8V348.4H50.4M58.3 350.2H54.7V350.5H58.3M58.3 351.4H55.0V351.6H58.3M58.3 351.1H53.9V351.5H55.0M58.3 350.8H53.6V351.3H53.9M54.7 350.3H51.0V351.1H53.6M47.8 347.3H45.3V350.7H51.0M44.1 339.7H34.0V349.0H45.3M58.3 352.3H54.8V352.6H58.3M58.3 351.9H54.4V352.4H54.8M58.3 352.8H54.0V353.1H58.3M58.3 353.3H55.7V353.5H58.3M54.0 352.9H52.9V353.4H55.7M54.4 352.1H51.6V353.2H52.9M58.3 353.9H54.6V354.1H58.3M58.3 353.7H54.0V354.0H54.6M51.6 352.7H49.1V353.9H54.0M58.3 354.7H55.4V354.9H58.3M58.3 354.4H53.3V354.8H55.4M58.3 355.2H53.9V355.4H58.3M58.3 355.6H55.5V355.9H58.3M53.9 355.3H53.2V355.8H55.5M53.3 354.6H51.1V355.5H53.2M58.3 356.2H55.4V356.4H58.3M58.3 356.7H54.0V356.9H58.3M55.4 356.3H52.9V356.8H54.0M51.1 355.1H50.0V356.5H52.9M58.3 357.2H54.9V357.4H58.3M54.9 357.3H54.6V357.5H58.3M54.6 357.4H53.2V357.8H58.3M50.0 355.8H49.7V357.6H53.2M49.1 353.3H45.1V356.7H49.7M34.0 344.4H33.7V355.0H45.1M58.3 358.0H55.1V358.3H58.3M55.1 358.2H54.8V358.4H58.3M58.3 358.6H55.9V358.8H58.3M54.8 358.3H54.1V358.7H55.9M58.3 359.1H54.0V359.4H58.3M58.3 359.8H55.4V360.0H58.3M58.3 360.2H55.0V360.4H58.3M58.3 360.6H54.6V360.8H58.3M54.6 360.7H54.3V361.0H58.3M55.0 360.3H52.5V360.9H54.3M58.3 361.3H54.1V361.7H58.3M52.5 360.6H51.2V361.5H54.1M55.4 359.9H50.4V361.0H51.2M54.0 359.2H49.5V360.5H50.4M54.1 358.5H49.2V359.9H49.5M58.3 362.6H55.2V362.8H58.3M58.3 362.3H53.3V362.7H55.2M58.3 362.0H53.0V362.5H53.3M53.0 362.3H52.7V363.1H58.3M58.3 363.3H55.2V363.5H58.3M55.2 363.4H53.9V363.8H58.3M58.3 364.0H54.4V364.3H58.3M58.3 364.5H54.6V364.8H58.3M54.6 364.7H54.3V364.9H58.3M54.3 364.8H54.0V365.1H58.3M54.4 364.1H51.7V364.9H54.0M53.9 363.6H51.4V364.5H51.7M52.7 362.7H50.6V364.1H51.4M58.3 365.6H55.4V365.9H58.3M58.3 365.4H53.0V365.7H55.4M53.0 365.6H52.7V366.1H58.3M50.6 363.4H49.8V365.9H52.7M58.3 366.4H54.2V366.7H58.3M54.2 366.6H53.6V366.8H58.3M58.3 367.2H54.7V367.5H58.3M58.3 367.0H54.4V367.4H54.7M53.6 366.7H51.3V367.2H54.4M58.3 367.7H54.7V367.9H58.3M54.7 367.8H54.2V368.1H58.3M54.2 367.9H53.9V368.2H58.3M51.3 366.9H51.0V368.1H53.9M49.8 364.6H46.3V367.5H51.0M58.3 368.5H54.9V368.8H58.3M54.9 368.6H52.9V369.2H58.3M58.3 369.5H54.6V369.8H58.3M52.9 368.9H52.0V369.6H54.6M46.3 366.1H46.0V369.3H52.0M49.2 359.2H37.1V367.7H46.0M33.7 349.7H33.4V363.4H37.1M58.3 371.3H53.8V371.6H58.3M58.3 372.0H55.8V372.2H58.3M58.3 371.8H54.8V372.1H55.8M53.8 371.5H52.2V372.0H54.8M58.3 372.4H55.5V372.7H58.3M55.5 372.5H53.7V372.9H58.3M58.3 373.2H53.7V373.5H58.3M53.7 372.7H52.8V373.3H53.7M52.2 371.7H49.0V373.0H52.8M58.3 374.0H55.7V374.2H58.3M55.7 374.1H55.0V374.3H58.3M58.3 373.7H54.5V374.2H55.0M58.3 374.9H54.7V375.1H58.3M58.3 374.8H53.6V375.0H54.7M58.3 374.6H53.3V374.9H53.6M53.3 374.7H53.0V375.5H58.3M58.3 376.0H54.4V376.2H58.3M54.4 376.1H53.7V376.3H58.3M58.3 375.7H52.9V376.2H53.7M53.0 375.1H50.7V376.0H52.9M58.3 376.5H55.7V376.7H58.3M55.7 376.6H54.7V377.0H58.3M50.7 375.5H50.4V376.8H54.7M54.5 374.0H50.1V376.2H50.4M58.3 377.4H55.4V377.6H58.3M58.3 377.2H55.1V377.5H55.4M58.3 377.9H54.5V378.3H58.3M55.1 377.4H51.9V378.1H54.5M58.3 378.5H55.3V378.7H58.3M55.3 378.6H53.9V378.9H58.3M51.9 377.7H51.0V378.8H53.9M50.1 375.1H45.0V378.2H51.0M49.0 372.4H44.7V376.7H45.0M58.3 379.1H54.3V379.4H58.3M54.3 379.3H53.3V379.6H58.3M58.3 379.8H54.8V380.0H58.3M54.8 379.9H54.3V380.3H58.3M54.3 380.1H54.0V380.6H58.3M53.3 379.4H51.9V380.4H54.0M58.3 381.1H55.4V381.3H58.3M58.3 380.9H54.3V381.2H55.4M58.3 381.6H53.9V381.9H58.3M53.9 381.8H53.5V382.1H58.3M58.3 382.3H54.9V382.5H58.3M53.5 381.9H53.2V382.4H54.9M54.3 381.0H49.9V382.1H53.2M51.9 379.9H47.4V381.6H49.9M58.3 383.0H54.7V383.2H58.3M54.7 383.1H54.2V383.5H58.3M58.3 382.8H53.9V383.3H54.2M58.3 383.7H54.0V384.0H58.3M54.0 383.8H52.8V384.2H58.3M53.9 383.0H50.2V384.0H52.8M58.3 384.8H53.8V385.1H58.3M58.3 384.5H53.5V384.9H53.8M50.2 383.5H48.3V384.7H53.5M58.3 385.4H54.7V385.6H58.3M58.3 385.8H55.2V386.1H58.3M54.7 385.5H54.4V386.0H55.2M48.3 384.1H48.0V385.7H54.4M47.4 380.7H41.6V384.9H48.0M58.3 386.3H55.2V386.6H58.3M55.2 386.5H54.4V387.0H58.3M58.3 387.7H54.3V387.9H58.3M58.3 387.5H54.0V387.8H54.3M58.3 387.3H53.7V387.7H54.0M54.4 386.7H52.1V387.5H53.7M58.3 388.5H55.7V388.7H58.3M58.3 388.2H54.2V388.6H55.7M58.3 388.9H54.2V389.1H58.3M54.2 388.4H51.7V389.0H54.2M52.1 387.1H48.6V388.7H51.7M58.3 389.4H54.0V389.6H58.3M58.3 390.0H54.9V390.3H58.3M58.3 390.5H53.8V390.8H58.3M54.9 390.2H52.4V390.7H53.8M58.3 391.4H54.6V391.6H58.3M58.3 391.3H53.8V391.5H54.6M58.3 391.1H53.3V391.4H53.8M52.4 390.4H50.2V391.3H53.3M54.0 389.5H49.9V390.9H50.2M48.6 387.9H48.3V390.2H49.9M41.6 382.8H37.5V389.0H48.3M58.3 392.1H54.9V392.4H58.3M58.3 391.9H53.7V392.3H54.9M58.3 393.0H55.2V393.2H58.3M55.2 393.1H53.9V393.5H58.3M58.3 392.7H53.2V393.3H53.9M58.3 393.7H55.7V393.9H58.3M53.2 393.0H52.9V393.8H55.7M53.7 392.1H51.0V393.4H52.9M58.3 394.8H53.9V395.1H58.3M58.3 394.5H53.6V395.0H53.9M58.3 394.2H52.2V394.7H53.6M51.0 392.7H47.3V394.5H52.2M58.3 395.4H54.8V395.7H58.3M54.8 395.6H52.8V396.0H58.3M58.3 396.2H53.6V396.5H58.3M58.3 397.1H55.6V397.3H58.3M58.3 397.5H55.6V397.7H58.3M55.6 397.2H53.7V397.6H55.6M58.3 396.8H53.4V397.4H53.7M58.3 398.0H55.2V398.3H58.3M53.4 397.1H50.8V398.2H55.2M53.6 396.4H50.5V397.6H50.8M52.8 395.8H48.7V397.0H50.5M58.3 399.0H54.2V399.3H58.3M54.2 399.1H53.5V399.4H58.3M53.5 399.3H53.2V399.7H58.3M58.3 398.7H51.4V399.5H53.2M48.7 396.4H48.4V399.1H51.4M47.3 393.6H44.4V397.7H48.4M37.5 385.9H37.2V395.7H44.4M44.7 374.5H29.8V390.8H37.2M33.4 356.5H28.8V382.7H29.8M29.9 316.8H22.0V369.6H28.8M58.3 403.2H54.3V403.4H58.3M54.3 403.3H52.7V403.7H58.3M52.7 403.5H52.4V404.0H58.3M58.3 404.2H55.4V404.4H58.3M58.3 404.8H55.4V405.0H58.3M58.3 404.6H55.1V404.9H55.4M55.4 404.3H53.8V404.7H55.1M52.4 403.8H50.9V404.5H53.8M58.3 405.4H55.6V405.6H58.3M58.3 405.2H55.1V405.5H55.6M50.9 404.1H50.0V405.4H55.1M58.3 405.8H55.5V406.1H58.3M58.3 406.4H53.4V406.7H58.3M58.3 407.0H54.3V407.2H58.3M54.3 407.1H54.0V407.4H58.3M54.0 407.2H53.7V407.6H58.3M53.4 406.5H52.9V407.4H53.7M55.5 406.0H49.8V407.0H52.9M58.3 407.8H54.1V408.2H58.3M49.8 406.5H49.0V408.0H54.1M50.0 404.8H46.6V407.2H49.0M58.3 408.5H54.3V408.7H58.3M54.3 408.6H54.0V408.9H58.3M58.3 409.1H55.3V409.4H58.3M54.0 408.8H53.6V409.3H55.3M58.3 410.0H54.7V410.2H58.3M58.3 409.7H53.4V410.1H54.7M53.6 409.0H51.4V409.9H53.4M58.3 410.4H54.4V410.7H58.3M58.3 411.2H55.2V411.4H58.3M55.2 411.3H54.9V411.7H58.3M54.9 411.5H52.8V411.9H58.3M58.3 411.0H52.5V411.7H52.8M58.3 412.4H54.4V412.7H58.3M58.3 412.1H54.1V412.5H54.4M52.5 411.3H52.1V412.3H54.1M54.4 410.5H51.8V411.8H52.1M58.3 412.8H54.5V413.1H58.3M58.3 413.5H54.6V413.8H58.3M54.5 413.0H53.1V413.6H54.6M51.8 411.2H48.8V413.3H53.1M51.4 409.4H45.3V412.2H48.8M46.6 406.0H42.7V410.8H45.3M58.3 414.1H55.1V414.3H58.3M58.3 414.6H54.4V414.8H58.3M54.4 414.7H54.1V415.0H58.3M54.1 414.9H53.0V415.4H58.3M55.1 414.2H52.7V415.1H53.0M58.3 415.6H55.5V415.8H58.3M52.7 414.7H52.4V415.7H55.5M58.3 416.1H54.2V416.3H58.3M58.3 416.8H55.6V417.0H58.3M55.6 416.9H54.4V417.2H58.3M58.3 416.5H54.0V417.0H54.4M54.2 416.2H53.4V416.8H54.0M52.4 415.2H51.0V416.5H53.4M58.3 417.4H54.0V417.7H58.3M58.3 418.3H55.5V418.5H58.3M58.3 418.0H53.8V418.4H55.5M58.3 418.7H54.7V418.9H58.3M53.8 418.2H52.2V418.8H54.7M58.3 419.2H53.9V419.5H58.3M52.2 418.5H51.3V419.4H53.9M54.0 417.6H49.7V418.9H51.3M51.0 415.8H44.5V418.2H49.7M58.3 419.8H55.1V420.1H58.3M58.3 420.3H55.7V420.6H58.3M55.1 419.9H53.9V420.5H55.7M58.3 420.7H54.6V420.9H58.3M54.6 420.8H54.3V421.2H58.3M58.3 421.5H54.5V421.7H58.3M54.5 421.6H54.2V421.9H58.3M54.3 421.0H53.2V421.7H54.2M58.3 422.2H54.0V422.5H58.3M58.3 422.7H54.9V423.0H58.3M54.9 422.8H54.6V423.3H58.3M54.6 423.0H54.2V423.5H58.3M54.0 422.3H51.8V423.3H54.2M53.2 421.4H47.7V422.8H51.8M53.9 420.2H47.4V422.1H47.7M44.5 417.0H44.2V421.1H47.4M58.3 423.8H54.1V424.1H58.3M54.1 423.9H53.8V424.4H58.3M58.3 424.6H54.1V424.9H58.3M58.3 425.3H54.4V425.6H58.3M54.1 424.8H52.0V425.4H54.4M53.8 424.2H51.2V425.1H52.0M58.3 426.2H54.0V426.5H58.3M58.3 425.9H53.7V426.3H54.0M58.3 426.7H54.9V427.0H58.3M54.9 426.8H54.6V427.2H58.3M53.7 426.1H51.3V427.0H54.6M58.3 427.4H55.6V427.7H58.3M51.3 426.6H51.0V427.5H55.6M51.2 424.6H50.3V427.1H51.0M44.2 419.1H36.8V425.8H50.3M58.3 427.9H54.9V428.1H58.3M58.3 428.3H54.6V428.5H58.3M58.3 428.7H55.6V428.9H58.3M58.3 429.3H54.6V429.5H58.3M58.3 429.2H53.7V429.4H54.6M55.6 428.8H52.2V429.3H53.7M54.6 428.4H51.9V429.1H52.2M54.9 428.0H50.7V428.7H51.9M58.3 429.9H55.6V430.1H58.3M58.3 430.2H55.5V430.4H58.3M58.3 430.6H54.3V430.8H58.3M54.3 430.7H54.0V431.1H58.3M55.5 430.3H53.7V430.9H54.0M55.6 430.0H52.5V430.6H53.7M58.3 431.6H54.3V431.8H58.3M54.3 431.7H53.1V432.1H58.3M58.3 432.3H55.4V432.5H58.3M53.1 431.9H52.8V432.4H55.4M58.3 431.3H52.5V432.1H52.8M58.3 432.7H54.5V433.0H58.3M58.3 433.1H54.0V433.4H58.3M54.5 432.8H52.3V433.3H54.0M52.3 433.1H52.0V433.7H58.3M52.5 431.7H51.0V433.4H52.0M58.3 434.0H55.5V434.3H58.3M58.3 434.4H53.8V434.8H58.3M55.5 434.1H52.2V434.6H53.8M51.0 432.5H46.6V434.4H52.2M52.5 430.3H44.2V433.5H46.6M50.7 428.4H43.6V431.9H44.2M36.8 422.5H36.5V430.1H43.6M42.7 408.4H28.8V426.3H36.5M58.3 435.0H55.5V435.2H58.3M58.3 435.7H54.2V436.0H58.3M58.3 435.5H53.9V435.9H54.2M55.5 435.1H52.0V435.7H53.9M58.3 436.3H55.0V436.5H58.3M52.0 435.4H50.2V436.4H55.0M58.3 436.9H54.8V437.1H58.3M54.8 437.0H53.1V437.3H58.3M50.2 435.9H48.7V437.2H53.1M58.3 438.0H54.7V438.3H58.3M58.3 438.5H54.5V438.7H58.3M54.7 438.2H54.2V438.6H54.5M58.3 437.7H53.0V438.4H54.2M48.7 436.5H47.4V438.0H53.0M58.3 438.9H54.3V439.2H58.3M58.3 439.4H55.0V439.6H58.3M54.3 439.0H52.7V439.5H55.0M58.3 439.8H54.2V440.1H58.3M54.2 439.9H53.9V440.3H58.3M53.9 440.1H52.5V440.7H58.3M58.3 441.2H54.6V441.4H58.3M58.3 441.0H54.0V441.3H54.6M58.3 441.9H54.7V442.1H58.3M54.7 442.0H54.1V442.3H58.3M54.1 442.1H53.8V442.4H58.3M58.3 441.7H53.5V442.3H53.8M58.3 442.7H55.1V442.9H58.3M58.3 442.6H53.7V442.8H55.1M53.5 442.0H52.1V442.7H53.7M54.0 441.2H50.6V442.3H52.1M52.5 440.4H48.5V441.7H50.6M52.7 439.3H48.2V441.1H48.5M58.3 443.2H54.9V443.4H58.3M58.3 443.6H55.8V443.9H58.3M58.3 444.2H54.4V444.4H58.3M55.8 443.7H54.1V444.3H54.4M54.9 443.3H53.3V444.0H54.1M48.2 440.2H43.8V443.7H53.3M47.4 437.3H42.0V441.9H43.8M28.8 417.4H28.5V439.6H42.0M58.3 445.8H55.5V446.1H58.3M55.5 446.0H53.6V446.3H58.3M58.3 446.5H54.0V446.9H58.3M58.3 447.1H55.5V447.3H58.3M55.5 447.2H54.5V447.6H58.3M58.3 448.3H55.8V448.5H58.3M58.3 448.1H54.8V448.4H55.8M58.3 447.8H54.2V448.2H54.8M54.5 447.4H52.1V448.0H54.2M54.0 446.7H50.8V447.7H52.1M53.6 446.1H49.8V447.2H50.8M58.3 448.7H55.3V449.0H58.3M58.3 449.3H54.3V449.5H58.3M55.3 448.8H53.8V449.4H54.3M49.8 446.7H49.1V449.1H53.8M58.3 450.0H54.6V450.2H58.3M58.3 449.7H53.4V450.1H54.6M58.3 450.8H53.9V451.1H58.3M58.3 450.5H53.6V451.0H53.9M53.4 449.9H51.7V450.7H53.6M49.1 447.9H45.0V450.3H51.7M58.3 451.4H54.3V451.6H58.3M54.3 451.5H52.8V451.9H58.3M52.8 451.7H52.5V452.2H58.3M58.3 452.5H54.5V452.7H58.3M58.3 452.9H54.9V453.1H58.3M58.3 453.4H54.6V453.6H58.3M54.6 453.5H53.8V453.9H58.3M54.9 453.0H53.3V453.7H53.8M54.5 452.6H51.6V453.4H53.3M52.5 452.0H50.9V453.0H51.6M58.3 454.1H55.1V454.3H58.3M58.3 454.5H54.7V454.8H58.3M55.1 454.2H54.2V454.6H54.7M54.2 454.4H51.9V455.1H58.3M58.3 455.4H54.6V455.7H58.3M58.3 455.3H53.7V455.6H54.6M58.3 455.9H54.2V456.1H58.3M54.2 456.0H53.9V456.3H58.3M58.3 456.6H54.9V456.9H58.3M53.9 456.2H51.9V456.7H54.9M53.7 455.4H51.4V456.5H51.9M51.9 454.7H51.1V455.9H51.4M58.3 457.3H55.4V457.6H58.3M55.4 457.5H54.4V457.9H58.3M58.3 457.1H52.7V457.7H54.4M58.3 458.1H55.4V458.3H58.3M58.3 458.7H53.9V458.9H58.3M55.4 458.2H53.6V458.8H53.9M53.6 458.5H53.3V459.1H58.3M58.3 459.6H55.8V459.8H58.3M55.8 459.7H53.1V460.1H58.3M58.3 459.3H52.8V459.9H53.1M58.3 460.4H54.8V460.7H58.3M52.8 459.6H50.4V460.6H54.8M53.3 458.8H48.1V460.1H50.4M52.7 457.4H47.8V459.4H48.1M51.1 455.3H45.8V458.4H47.8M50.9 452.5H45.5V456.9H45.8M45.0 449.1H35.7V454.7H45.5M58.3 461.0H54.4V461.3H58.3M58.3 461.6H53.2V461.9H58.3M54.4 461.2H51.5V461.7H53.2M58.3 462.2H54.7V462.5H58.3M51.5 461.5H50.1V462.4H54.7M58.3 462.8H54.9V463.0H58.3M54.9 462.9H53.6V463.2H58.3M58.3 463.8H54.1V464.0H58.3M54.1 463.9H53.8V464.3H58.3M58.3 463.5H53.1V464.1H53.8M53.6 463.1H51.6V463.8H53.1M58.3 464.7H55.2V465.0H58.3M58.3 464.4H54.7V464.9H55.2M54.7 464.7H53.4V465.2H58.3M51.6 463.4H51.1V464.9H53.4M58.3 465.4H55.1V465.6H58.3M55.1 465.5H54.7V465.9H58.3M51.1 464.2H50.1V465.7H54.7M58.3 466.2H54.0V466.6H58.3M54.0 466.4H53.1V466.8H58.3M53.1 466.6H52.0V467.0H58.3M52.0 466.8H50.8V467.4H58.3M50.1 464.9H49.3V467.1H50.8M58.3 467.6H54.3V467.8H58.3M54.3 467.7H53.7V468.1H58.3M58.3 468.3H54.6V468.5H58.3M58.3 468.8H55.3V469.1H58.3M54.6 468.4H52.4V468.9H55.3M58.3 469.4H54.2V469.7H58.3M52.4 468.7H51.1V469.5H54.2M53.7 467.9H48.9V469.1H51.1M49.3 466.0H47.2V468.5H48.9M50.1 461.9H46.0V467.3H47.2M35.7 451.9H33.2V464.6H46.0M58.3 471.2H53.8V471.5H58.3M53.8 471.3H52.9V471.8H58.3M58.3 472.0H55.1V472.2H58.3M55.1 472.1H52.8V472.5H58.3M58.3 472.9H54.0V473.2H58.3M52.8 472.3H52.4V473.0H54.0M52.9 471.6H49.2V472.7H52.4M58.3 473.7H55.1V474.0H58.3M55.1 473.8H54.8V474.2H58.3M58.3 473.4H53.1V474.0H54.8M49.2 472.1H48.9V473.7H53.1M58.3 474.9H53.4V475.2H58.3M53.4 475.0H53.1V475.5H58.3M58.3 474.5H51.4V475.3H53.1M58.3 475.7H55.5V476.0H58.3M58.3 476.2H55.2V476.5H58.3M55.5 475.9H53.1V476.3H55.2M51.4 474.9H50.0V476.1H53.1M58.3 476.8H54.0V477.0H58.3M54.0 476.9H53.7V477.3H58.3M53.7 477.1H53.4V477.7H58.3M50.0 475.5H49.7V477.4H53.4M48.9 472.9H48.0V476.4H49.7M58.3 478.4H54.8V478.8H58.3M58.3 478.0H52.5V478.6H54.8M58.3 479.1H54.0V479.4H58.3M54.0 479.3H53.7V479.6H58.3M53.7 479.5H52.1V479.8H58.3M52.5 478.3H50.7V479.6H52.1M48.0 474.7H43.9V479.0H50.7M58.3 480.0H54.0V480.3H58.3M58.3 481.0H54.6V481.3H58.3M58.3 480.6H52.6V481.1H54.6M52.6 480.9H52.3V481.5H58.3M54.0 480.2H50.8V481.2H52.3M58.3 482.3H54.5V482.6H58.3M58.3 482.1H53.1V482.5H54.5M58.3 481.8H52.7V482.3H53.1M58.3 483.0H55.0V483.2H58.3M58.3 482.8H53.7V483.1H55.0M52.7 482.1H52.4V483.0H53.7M58.3 483.4H54.7V483.6H58.3M54.7 483.5H53.9V483.9H58.3M58.3 484.2H55.4V484.5H58.3M53.9 483.7H52.7V484.4H55.4M58.3 484.8H55.4V485.0H58.3M55.4 484.9H54.2V485.3H58.3M58.3 485.9H53.7V486.2H58.3M58.3 485.6H53.4V486.1H53.7M58.3 486.5H55.4V486.7H58.3M53.4 485.8H53.1V486.6H55.4M54.2 485.1H52.4V486.2H53.1M58.3 486.9H54.7V487.2H58.3M58.3 487.6H55.4V487.8H58.3M58.3 487.5H53.6V487.7H55.4M54.7 487.1H53.1V487.6H53.6M52.4 485.7H51.2V487.3H53.1M52.7 484.1H45.5V486.5H51.2M52.4 482.5H45.2V485.3H45.5M50.8 480.7H44.9V483.9H45.2M58.3 488.5H55.6V488.7H58.3M55.6 488.6H54.3V488.9H58.3M54.3 488.7H54.0V489.2H58.3M58.3 488.2H53.7V489.0H54.0M58.3 490.0H54.0V490.2H58.3M58.3 489.8H53.7V490.1H54.0M58.3 489.5H53.4V489.9H53.7M58.3 490.5H54.8V490.8H58.3M58.3 491.2H54.1V491.4H58.3M54.8 490.7H53.8V491.3H54.1M53.4 489.7H51.0V491.0H53.8M53.7 488.6H48.0V490.4H51.0M44.9 482.3H38.4V489.5H48.0M58.3 491.7H55.0V492.0H58.3M58.3 492.2H54.6V492.4H58.3M54.6 492.3H54.3V492.7H58.3M58.3 492.8H54.7V493.0H58.3M54.3 492.5H53.6V492.9H54.7M58.3 493.3H53.9V493.7H58.3M53.6 492.7H50.2V493.5H53.9M55.0 491.8H49.9V493.1H50.2M58.3 494.2H54.5V494.5H58.3M58.3 494.0H54.2V494.3H54.5M58.3 494.6H55.6V494.8H58.3M54.2 494.1H51.9V494.7H55.6M58.3 495.1H54.3V495.3H58.3M51.9 494.4H50.8V495.2H54.3M58.3 495.6H55.0V495.8H58.3M55.0 495.7H54.0V496.0H58.3M54.0 495.9H53.7V496.3H58.3M50.8 494.8H50.3V496.1H53.7M49.9 492.5H48.7V495.4H50.3M58.3 496.5H54.3V496.8H58.3M58.3 497.1H55.0V497.3H58.3M54.3 496.6H52.5V497.2H55.0M58.3 497.6H53.8V497.9H58.3M58.3 498.1H55.0V498.4H58.3M53.8 497.7H52.5V498.3H55.0M52.5 496.9H50.9V498.0H52.5M48.7 494.0H46.8V497.5H50.9M58.3 499.0H54.1V499.3H58.3M58.3 498.7H53.8V499.2H54.1M58.3 499.7H54.5V499.9H58.3M54.5 499.8H54.2V500.2H58.3M58.3 500.5H55.8V500.7H58.3M54.2 500.0H52.5V500.6H55.8M53.8 499.0H49.0V500.3H52.5M46.8 495.7H44.9V499.6H49.0M38.4 485.9H38.1V497.7H44.9M43.9 476.8H28.0V491.8H38.1M33.2 458.2H26.6V484.3H28.0M28.5 428.5H22.0V471.3H26.6" fill="none" stroke="#000" stroke-width="0.75"/>
<rect x="44" y="55.05" width="139.0" height="0.9" fill="#fbfbfb"/>
<rect x="44" y="85.15" width="139.0" height="0.9" fill="#fbfbfb"/>
<rect x="44" y="126.35" width="139.0" height="0.9" fill="#fbfbfb"/>
<rect x="44" y="185.95" width="139.0" height="0.9" fill="#fbfbfb"/>
<rect x="44" y="217.95" width="139.0" height="0.9" fill="#fbfbfb"/>
<rect x="44" y="283.55" width="139.0" height="0.9" fill="#fbfbfb"/>
<rect x="44" y="332.65" width="139.0" height="0.9" fill="#fbfbfb"/>
<rect x="44" y="370.05" width="139.0" height="0.9" fill="#fbfbfb"/>
<rect x="44" y="444.65" width="139.0" height="0.9" fill="#fbfbfb"/>
<rect x="44" y="470.05" width="139.0" height="0.9" fill="#fbfbfb"/>
<path d="M24.4 28.4H18.7V161.2H24.4" fill="none" stroke="#20bcf0" stroke-width="1"/>
<text x="0" y="0" transform="translate(16.3 85.8) rotate(-90)" text-anchor="middle" font-size="5.6" fill="#222" stroke="#222" stroke-width="0.07">Consistent</text>
<path d="M24.4 162.5H18.7V297.4H24.4" fill="none" stroke="#20bcf0" stroke-width="1"/>
<text x="0" y="0" transform="translate(16.3 226.3) rotate(-90)" text-anchor="middle" font-size="5.6" fill="#222" stroke="#222" stroke-width="0.07">Early</text>
<path d="M24.4 299.4H18.7V399.2H24.4" fill="none" stroke="#20bcf0" stroke-width="1"/>
<text x="0" y="0" transform="translate(16.3 343.5) rotate(-90)" text-anchor="middle" font-size="5.6" fill="#222" stroke="#222" stroke-width="0.07">Inter</text>
<path d="M24.4 401.4H18.7V501.3H24.4" fill="none" stroke="#20bcf0" stroke-width="1"/>
<text x="0" y="0" transform="translate(16.3 445.9) rotate(-90)" text-anchor="middle" font-size="5.6" fill="#222" stroke="#222" stroke-width="0.07">Late</text>
<polygon points="183,29.3 200.4,29.4 200.4,58.8 183,55.0" fill="#a6dfe4"/>
<polygon points="183,56.0 200.4,63.6 200.4,92.9 183,85.1" fill="#a6dfe4"/>
<polygon points="183,86.0 200.4,97.6 200.4,127.8 183,126.3" fill="#a6dfe4"/>
<polygon points="183,127.2 200.4,131.8 200.4,161.5 183,161.1" fill="#a6dfe4"/>
<polygon points="183,164.9 200.4,165.0 200.4,193.3 183,186.0" fill="#a6dfe4"/>
<polygon points="183,186.8 200.4,199.5 200.4,228.6 183,218.0" fill="#a6dfe4"/>
<polygon points="183,218.8 200.4,233.0 200.4,262.5 183,283.6" fill="#a6dfe4"/>
<polygon points="183,284.4 200.4,268.2 200.4,296.3 183,298.2" fill="#a6dfe4"/>
<polygon points="183,300.8 200.4,300.8 200.4,329.2 183,332.7" fill="#a6dfe4"/>
<polygon points="183,333.6 200.4,334.3 200.4,363.4 183,370.1" fill="#a6dfe4"/>
<polygon points="183,370.9 200.4,369.5 200.4,399.0 183,399.9" fill="#a6dfe4"/>
<polygon points="183,402.9 200.4,403.0 200.4,430.7 183,444.7" fill="#a6dfe4"/>
<polygon points="183,445.6 200.4,437.4 200.4,466.8 183,470.1" fill="#a6dfe4"/>
<polygon points="183,470.9 200.4,472.5 200.4,501.9 183,500.9" fill="#a6dfe4"/>
<rect x="200.4" y="29.4" width="50.7" height="29.4" fill="#fff" stroke="#8c8c8c" stroke-width="0.9"/>
<path d="M205.3 41.0 L213.5 37.5 L221.7 35.8 L229.9 35.0 L238.1 34.6 L246.3 34.4 L246.3 51.6 L238.1 51.8 L229.9 52.0 L221.7 52.5 L213.5 53.5 L205.3 55.0Z" fill="#f09a8a" fill-opacity="0.134"/>
<path d="M205.3 43.4 L213.5 40.2 L221.7 38.6 L229.9 37.9 L238.1 37.5 L246.3 37.3 L246.3 48.7 L238.1 48.9 L229.9 49.1 L221.7 49.7 L213.5 50.8 L205.3 52.6Z" fill="#f09a8a" fill-opacity="0.134"/>
<path d="M205.3 45.7 L213.5 42.9 L221.7 41.4 L229.9 40.7 L238.1 40.4 L246.3 40.2 L246.3 45.8 L238.1 46.0 L229.9 46.3 L221.7 46.9 L213.5 48.1 L205.3 50.3Z" fill="#f09a8a" fill-opacity="0.134"/>
<path d="M205.3 45.0 L213.5 42.0 L221.7 40.2 L229.9 39.2 L238.1 38.6 L246.3 38.3 L246.3 50.2 L238.1 50.3 L229.9 50.5 L221.7 51.0 L213.5 52.0 L205.3 53.5Z" fill="#c85a55" fill-opacity="0.536"/>
<path d="M205.3 46.6 L213.5 43.8 L221.7 42.2 L229.9 41.2 L238.1 40.7 L246.3 40.4 L246.3 48.2 L238.1 48.4 L229.9 48.7 L221.7 49.3 L213.5 50.4 L205.3 52.2Z" fill="#c85a55" fill-opacity="0.536"/>
<path d="M205.3 48.1 L213.5 45.6 L221.7 44.1 L229.9 43.2 L238.1 42.7 L246.3 42.4 L246.3 46.3 L238.1 46.5 L229.9 46.9 L221.7 47.6 L213.5 48.9 L205.3 50.9Z" fill="#c85a55" fill-opacity="0.536"/>
<path d="M205.3 50.2 L213.5 48.0 L221.7 46.6 L229.9 45.8 L238.1 45.3 L246.3 45.0" fill="none" stroke="#2a6db3" stroke-width="1.6" stroke-linejoin="round"/>
<text x="199.9" y="31.4" text-anchor="end" font-size="3.4" fill="#333" stroke="#333" stroke-width="0.1">15</text>
<text x="199.9" y="38.4" text-anchor="end" font-size="3.4" fill="#333" stroke="#333" stroke-width="0.1">10</text>
<text x="199.9" y="45.6" text-anchor="end" font-size="3.4" fill="#333" stroke="#333" stroke-width="0.1">5</text>
<text x="199.9" y="52.7" text-anchor="end" font-size="3.4" fill="#333" stroke="#333" stroke-width="0.1">0</text>
<rect x="200.4" y="63.6" width="50.7" height="29.3" fill="#fff" stroke="#8c8c8c" stroke-width="0.9"/>
<path d="M205.3 86.2 L213.5 88.5 L221.7 90.0 L229.9 90.1 L238.1 89.5 L246.3 87.5 L246.3 81.5 L238.1 81.5 L229.9 81.5 L221.7 81.5 L213.5 81.5 L205.3 81.5Z" fill="#8fa8dc" fill-opacity="0.331"/>
<path d="M205.3 85.4 L213.5 87.3 L221.7 88.6 L229.9 88.6 L238.1 88.1 L246.3 86.5 L246.3 82.5 L238.1 82.9 L229.9 83.0 L221.7 82.9 L213.5 82.7 L205.3 82.3Z" fill="#8fa8dc" fill-opacity="0.331"/>
<path d="M205.3 84.6 L213.5 86.2 L221.7 87.2 L229.9 87.2 L238.1 86.8 L246.3 85.5 L246.3 83.5 L238.1 84.2 L229.9 84.4 L221.7 84.3 L213.5 83.8 L205.3 83.1Z" fill="#8fa8dc" fill-opacity="0.331"/>
<path d="M205.3 87.5 L213.5 89.5 L221.7 90.3 L229.9 90.3 L238.1 89.8 L246.3 88.2 L246.3 86.3 L238.1 88.0 L229.9 88.5 L221.7 88.5 L213.5 87.5 L205.3 85.5Z" fill="#4a70c0" fill-opacity="0.370"/>
<path d="M205.3 87.2 L213.5 89.2 L221.7 90.0 L229.9 90.0 L238.1 89.5 L246.3 87.9 L246.3 86.6 L238.1 88.3 L229.9 88.8 L221.7 88.8 L213.5 87.8 L205.3 85.8Z" fill="#4a70c0" fill-opacity="0.370"/>
<path d="M205.3 86.8 L213.5 88.8 L221.7 89.7 L229.9 89.7 L238.1 89.2 L246.3 87.6 L246.3 86.9 L238.1 88.6 L229.9 89.1 L221.7 89.1 L213.5 88.2 L205.3 86.2Z" fill="#4a70c0" fill-opacity="0.370"/>
<path d="M205.3 71.8 L213.5 71.8 L221.7 71.8 L229.9 71.8 L238.1 71.8 L246.3 71.8 L246.3 81.3 L238.1 81.3 L229.9 81.3 L221.7 81.3 L213.5 81.3 L205.3 81.3Z" fill="#f07050" fill-opacity="0.234"/>
<path d="M205.3 73.4 L213.5 73.4 L221.7 73.4 L229.9 73.4 L238.1 73.4 L246.3 73.4 L246.3 79.7 L238.1 79.7 L229.9 79.7 L221.7 79.7 L213.5 79.7 L205.3 79.7Z" fill="#f07050" fill-opacity="0.234"/>
<path d="M205.3 75.0 L213.5 75.0 L221.7 75.0 L229.9 75.0 L238.1 75.0 L246.3 75.0 L246.3 78.1 L238.1 78.1 L229.9 78.1 L221.7 78.1 L213.5 78.1 L205.3 78.1Z" fill="#f07050" fill-opacity="0.234"/>
<path d="M205.3 74.5 L213.5 74.5 L221.7 74.5 L229.9 74.5 L238.1 74.5 L246.3 74.5 L246.3 81.3 L238.1 81.3 L229.9 81.3 L221.7 81.3 L213.5 81.3 L205.3 81.3Z" fill="#e8402a" fill-opacity="0.370"/>
<path d="M205.3 75.7 L213.5 75.7 L221.7 75.7 L229.9 75.7 L238.1 75.7 L246.3 75.7 L246.3 80.1 L238.1 80.1 L229.9 80.1 L221.7 80.1 L213.5 80.1 L205.3 80.1Z" fill="#e8402a" fill-opacity="0.370"/>
<path d="M205.3 76.8 L213.5 76.8 L221.7 76.8 L229.9 76.8 L238.1 76.8 L246.3 76.8 L246.3 79.0 L238.1 79.0 L229.9 79.0 L221.7 79.0 L213.5 79.0 L205.3 79.0Z" fill="#e8402a" fill-opacity="0.370"/>
<path d="M205.3 81.5 L213.5 81.5 L221.7 81.6 L229.9 82.4 L238.1 83.2 L246.3 81.9" fill="none" stroke="#e8262a" stroke-width="1.0" stroke-linejoin="round"/>
<path d="M205.3 81.3 L213.5 81.3 L221.7 81.3 L229.9 81.3 L238.1 81.3 L246.3 81.3" fill="none" stroke="#2a6db3" stroke-width="1.4" stroke-linejoin="round"/>
<text x="199.9" y="69.5" text-anchor="end" font-size="3.4" fill="#333" stroke="#333" stroke-width="0.1">10</text>
<text x="199.9" y="76.0" text-anchor="end" font-size="3.4" fill="#333" stroke="#333" stroke-width="0.1">5</text>
<text x="199.9" y="82.5" text-anchor="end" font-size="3.4" fill="#333" stroke="#333" stroke-width="0.1">0</text>
<text x="199.9" y="88.8" text-anchor="end" font-size="3.4" fill="#333" stroke="#333" stroke-width="0.1">-5</text>
<rect x="200.4" y="97.6" width="50.7" height="30.2" fill="#fff" stroke="#8c8c8c" stroke-width="0.9"/>
<path d="M205.3 111.5 L213.5 110.9 L221.7 110.3 L229.9 109.7 L238.1 109.1 L246.3 108.5 L246.3 114.0 L238.1 114.2 L229.9 114.4 L221.7 114.6 L213.5 114.8 L205.3 115.0Z" fill="#9890c0" fill-opacity="0.157"/>
<path d="M205.3 112.1 L213.5 111.6 L221.7 111.0 L229.9 110.5 L238.1 110.0 L246.3 109.4 L246.3 113.1 L238.1 113.3 L229.9 113.6 L221.7 113.9 L213.5 114.1 L205.3 114.4Z" fill="#9890c0" fill-opacity="0.157"/>
<path d="M205.3 112.7 L213.5 112.2 L221.7 111.7 L229.9 111.3 L238.1 110.8 L246.3 110.3 L246.3 112.2 L238.1 112.5 L229.9 112.8 L221.7 113.2 L213.5 113.5 L205.3 113.8Z" fill="#9890c0" fill-opacity="0.157"/>
<path d="M205.3 112.6 L213.5 112.0 L221.7 111.4 L229.9 110.8 L238.1 110.2 L246.3 109.6 L246.3 114.3 L238.1 114.6 L229.9 114.9 L221.7 115.1 L213.5 115.3 L205.3 115.6Z" fill="#4a4f98" fill-opacity="0.469"/>
<path d="M205.3 113.6 L213.5 113.1 L221.7 112.7 L229.9 112.2 L238.1 111.7 L246.3 111.2 L246.3 114.3 L238.1 114.6 L229.9 114.9 L221.7 115.1 L213.5 115.3 L205.3 115.6Z" fill="#4a4f98" fill-opacity="0.469"/>
<path d="M205.3 114.6 L213.5 114.2 L221.7 113.9 L229.9 113.5 L238.1 113.1 L246.3 112.7 L246.3 114.3 L238.1 114.6 L229.9 114.9 L221.7 115.1 L213.5 115.3 L205.3 115.6Z" fill="#4a4f98" fill-opacity="0.469"/>
<path d="M205.3 115.6 L213.5 115.3 L221.7 115.1 L229.9 114.9 L238.1 114.6 L246.3 114.3 L246.3 120.5 L238.1 120.8 L229.9 121.0 L221.7 121.4 L213.5 121.7 L205.3 122.0Z" fill="#f8a090" fill-opacity="0.157"/>
<path d="M205.3 116.7 L213.5 116.4 L221.7 116.2 L229.9 115.9 L238.1 115.7 L246.3 115.4 L246.3 119.4 L238.1 119.7 L229.9 120.0 L221.7 120.3 L213.5 120.6 L205.3 120.9Z" fill="#f8a090" fill-opacity="0.157"/>
<path d="M205.3 117.7 L213.5 117.4 L221.7 117.2 L229.9 116.9 L238.1 116.7 L246.3 116.4 L246.3 118.4 L238.1 118.7 L229.9 119.0 L221.7 119.3 L213.5 119.6 L205.3 119.9Z" fill="#f8a090" fill-opacity="0.157"/>
<path d="M205.3 115.6 L213.5 115.3 L221.7 115.1 L229.9 114.9 L238.1 114.6 L246.3 114.3 L246.3 119.5 L238.1 119.6 L229.9 119.8 L221.7 119.9 L213.5 120.0 L205.3 120.2Z" fill="#ee3a22" fill-opacity="0.469"/>
<path d="M205.3 116.4 L213.5 116.1 L221.7 115.9 L229.9 115.7 L238.1 115.4 L246.3 115.2 L246.3 118.6 L238.1 118.8 L229.9 119.0 L221.7 119.1 L213.5 119.2 L205.3 119.4Z" fill="#ee3a22" fill-opacity="0.469"/>
<path d="M205.3 117.1 L213.5 116.9 L221.7 116.7 L229.9 116.5 L238.1 116.3 L246.3 116.0 L246.3 117.8 L238.1 117.9 L229.9 118.2 L221.7 118.3 L213.5 118.4 L205.3 118.7Z" fill="#ee3a22" fill-opacity="0.469"/>
<path d="M205.3 115.6 L213.5 115.3 L221.7 115.1 L229.9 114.8 L238.1 114.6 L246.3 114.3" fill="none" stroke="#2a6db3" stroke-width="1.3" stroke-linejoin="round"/>
<text x="199.9" y="101.6" text-anchor="end" font-size="3.4" fill="#333" stroke="#333" stroke-width="0.1">200</text>
<text x="199.9" y="110.4" text-anchor="end" font-size="3.4" fill="#333" stroke="#333" stroke-width="0.1">100</text>
<text x="199.9" y="119.4" text-anchor="end" font-size="3.4" fill="#333" stroke="#333" stroke-width="0.1">0</text>
<text x="199.9" y="128.2" text-anchor="end" font-size="3.4" fill="#333" stroke="#333" stroke-width="0.1">-100</text>
<rect x="200.4" y="131.8" width="50.7" height="29.7" fill="#fff" stroke="#8c8c8c" stroke-width="0.9"/>
<path d="M205.3 147.5 L213.5 147.0 L221.7 147.0 L229.9 147.5 L238.1 148.0 L246.3 148.5 L246.3 156.0 L238.1 156.0 L229.9 156.0 L221.7 155.5 L213.5 155.5 L205.3 156.0Z" fill="#e8b0b8" fill-opacity="0.206"/>
<path d="M205.3 147.5 L213.5 147.0 L221.7 147.0 L229.9 147.5 L238.1 148.0 L246.3 148.5 L246.3 153.4 L238.1 153.3 L229.9 153.1 L221.7 152.6 L213.5 152.6 L205.3 153.1Z" fill="#e8b0b8" fill-opacity="0.206"/>
<path d="M205.3 147.5 L213.5 147.0 L221.7 147.0 L229.9 147.5 L238.1 148.0 L246.3 148.5 L246.3 151.0 L238.1 150.6 L229.9 150.3 L221.7 149.8 L213.5 149.8 L205.3 150.3Z" fill="#e8b0b8" fill-opacity="0.206"/>
<path d="M205.3 147.5 L213.5 147.0 L221.7 147.0 L229.9 147.5 L238.1 148.0 L246.3 148.5 L246.3 153.0 L238.1 153.0 L229.9 153.0 L221.7 152.5 L213.5 152.5 L205.3 153.0Z" fill="#c89098" fill-opacity="0.206"/>
<path d="M205.3 147.5 L213.5 147.0 L221.7 147.0 L229.9 147.5 L238.1 148.0 L246.3 148.5 L246.3 151.5 L238.1 151.3 L229.9 151.1 L221.7 150.6 L213.5 150.6 L205.3 151.1Z" fill="#c89098" fill-opacity="0.206"/>
<path d="M205.3 147.5 L213.5 147.0 L221.7 147.0 L229.9 147.5 L238.1 148.0 L246.3 148.5 L246.3 150.0 L238.1 149.7 L229.9 149.3 L221.7 148.8 L213.5 148.8 L205.3 149.3Z" fill="#c89098" fill-opacity="0.206"/>
<path d="M205.3 139.8 L213.5 138.8 L221.7 138.5 L229.9 139.5 L238.1 140.7 L246.3 141.8 L246.3 148.5 L238.1 148.0 L229.9 147.5 L221.7 147.0 L213.5 147.0 L205.3 147.5Z" fill="#c0605a" fill-opacity="0.415"/>
<path d="M205.3 142.2 L213.5 141.4 L221.7 140.9 L229.9 141.9 L238.1 142.9 L246.3 143.9 L246.3 148.3 L238.1 147.8 L229.9 147.2 L221.7 146.6 L213.5 146.8 L205.3 147.3Z" fill="#c0605a" fill-opacity="0.415"/>
<path d="M205.3 144.6 L213.5 143.8 L221.7 143.3 L229.9 144.2 L238.1 145.1 L246.3 146.0 L246.3 148.2 L238.1 147.5 L229.9 146.8 L221.7 146.1 L213.5 146.5 L205.3 147.2Z" fill="#c0605a" fill-opacity="0.415"/>
<path d="M205.3 146.9 L213.5 146.4 L221.7 146.0 L229.9 146.7 L238.1 147.5 L246.3 148.1" fill="none" stroke="#e8262a" stroke-width="1.2" stroke-linejoin="round"/>
<path d="M205.3 147.4 L213.5 147.2 L221.7 147.3 L229.9 147.6 L238.1 147.9 L246.3 148.2" fill="none" stroke="#2a6db3" stroke-width="1.4" stroke-linejoin="round"/>
<text x="199.9" y="138.5" text-anchor="end" font-size="3.4" fill="#333" stroke="#333" stroke-width="0.1">10</text>
<text x="199.9" y="144.5" text-anchor="end" font-size="3.4" fill="#333" stroke="#333" stroke-width="0.1">5</text>
<text x="199.9" y="151.2" text-anchor="end" font-size="3.4" fill="#333" stroke="#333" stroke-width="0.1">0</text>
<text x="199.9" y="157.3" text-anchor="end" font-size="3.4" fill="#333" stroke="#333" stroke-width="0.1">-5</text>
<rect x="200.4" y="165.0" width="50.7" height="28.3" fill="#fff" stroke="#8c8c8c" stroke-width="0.9"/>
<path d="M205.3 175.0 L213.5 174.5 L221.7 175.5 L229.9 176.0 L238.1 176.0 L246.3 176.0 L246.3 180.0 L238.1 179.8 L229.9 179.5 L221.7 179.0 L213.5 177.0 L205.3 177.5Z" fill="#a8b8e0" fill-opacity="0.134"/>
<path d="M205.3 175.4 L213.5 174.9 L221.7 176.1 L229.9 176.6 L238.1 176.6 L246.3 176.7 L246.3 179.3 L238.1 179.2 L229.9 178.9 L221.7 178.4 L213.5 176.6 L205.3 177.1Z" fill="#a8b8e0" fill-opacity="0.134"/>
<path d="M205.3 175.8 L213.5 175.3 L221.7 176.7 L229.9 177.2 L238.1 177.3 L246.3 177.3 L246.3 178.7 L238.1 178.5 L229.9 178.3 L221.7 177.8 L213.5 176.2 L205.3 176.7Z" fill="#a8b8e0" fill-opacity="0.134"/>
<path d="M205.3 176.7 L213.5 176.0 L221.7 178.7 L229.9 181.0 L238.1 181.3 L246.3 182.2 L246.3 185.5 L238.1 184.5 L229.9 184.0 L221.7 181.5 L213.5 178.0 L205.3 178.5Z" fill="#f8b8a0" fill-opacity="0.157"/>
<path d="M205.3 177.0 L213.5 176.3 L221.7 179.2 L229.9 181.5 L238.1 181.8 L246.3 182.8 L246.3 184.9 L238.1 184.0 L229.9 183.5 L221.7 181.0 L213.5 177.7 L205.3 178.2Z" fill="#f8b8a0" fill-opacity="0.157"/>
<path d="M205.3 177.3 L213.5 176.7 L221.7 179.6 L229.9 182.0 L238.1 182.4 L246.3 183.3 L246.3 184.4 L238.1 183.4 L229.9 183.0 L221.7 180.6 L213.5 177.3 L205.3 177.9Z" fill="#f8b8a0" fill-opacity="0.157"/>
<path d="M205.3 176.1 L213.5 175.8 L221.7 177.1 L229.9 177.6 L238.1 177.8 L246.3 178.0" fill="none" stroke="#2a6db3" stroke-width="0.9" stroke-linejoin="round"/>
<circle cx="205.3" cy="176.1" r="0.7" fill="#2a6db3"/>
<circle cx="213.5" cy="175.8" r="0.7" fill="#2a6db3"/>
<circle cx="221.7" cy="177.1" r="0.7" fill="#2a6db3"/>
<circle cx="229.9" cy="177.6" r="0.7" fill="#2a6db3"/>
<circle cx="238.1" cy="177.8" r="0.7" fill="#2a6db3"/>
<circle cx="246.3" cy="178.0" r="0.7" fill="#2a6db3"/>
<path d="M205.3 176.7 L213.5 176.0 L221.7 178.7 L229.9 181.0 L238.1 181.3 L246.3 182.2" fill="none" stroke="#e8262a" stroke-width="0.9" stroke-linejoin="round"/>
<circle cx="205.3" cy="176.7" r="0.7" fill="#e8262a"/>
<circle cx="213.5" cy="176.0" r="0.7" fill="#e8262a"/>
<circle cx="221.7" cy="178.7" r="0.7" fill="#e8262a"/>
<circle cx="229.9" cy="181.0" r="0.7" fill="#e8262a"/>
<circle cx="238.1" cy="181.3" r="0.7" fill="#e8262a"/>
<circle cx="246.3" cy="182.2" r="0.7" fill="#e8262a"/>
<text x="199.9" y="167.3" text-anchor="end" font-size="3.4" fill="#333" stroke="#333" stroke-width="0.1">5</text>
<text x="199.9" y="173.9" text-anchor="end" font-size="3.4" fill="#333" stroke="#333" stroke-width="0.1">2.5</text>
<text x="199.9" y="180.3" text-anchor="end" font-size="3.4" fill="#333" stroke="#333" stroke-width="0.1">0</text>
<text x="199.9" y="186.8" text-anchor="end" font-size="3.4" fill="#333" stroke="#333" stroke-width="0.1">-2.5</text>
<text x="199.9" y="193.5" text-anchor="end" font-size="3.4" fill="#333" stroke="#333" stroke-width="0.1">-5</text>
<rect x="200.4" y="199.5" width="50.7" height="29.1" fill="#fff" stroke="#8c8c8c" stroke-width="0.9"/>
<path d="M205.3 215.0 L213.5 214.0 L221.7 212.5 L229.9 211.5 L238.1 210.5 L246.3 209.5 L246.3 214.6 L238.1 215.0 L229.9 215.4 L221.7 216.0 L213.5 217.0 L205.3 216.8Z" fill="#c8d4f0" fill-opacity="0.157"/>
<path d="M205.3 215.3 L213.5 214.5 L221.7 213.1 L229.9 212.2 L238.1 211.3 L246.3 210.4 L246.3 213.7 L238.1 214.2 L229.9 214.7 L221.7 215.4 L213.5 216.5 L205.3 216.5Z" fill="#c8d4f0" fill-opacity="0.157"/>
<path d="M205.3 215.6 L213.5 215.0 L221.7 213.7 L229.9 212.8 L238.1 212.0 L246.3 211.2 L246.3 212.9 L238.1 213.5 L229.9 214.1 L221.7 214.8 L213.5 216.0 L205.3 216.2Z" fill="#c8d4f0" fill-opacity="0.157"/>
<path d="M205.3 215.0 L213.5 215.5 L221.7 216.0 L229.9 216.0 L238.1 215.5 L246.3 215.0 L246.3 219.0 L238.1 219.5 L229.9 220.0 L221.7 220.0 L213.5 219.3 L205.3 218.5Z" fill="#f8a898" fill-opacity="0.181"/>
<path d="M205.3 215.6 L213.5 216.1 L221.7 216.7 L229.9 216.7 L238.1 216.2 L246.3 215.7 L246.3 218.3 L238.1 218.8 L229.9 219.3 L221.7 219.3 L213.5 218.7 L205.3 217.9Z" fill="#f8a898" fill-opacity="0.181"/>
<path d="M205.3 216.2 L213.5 216.8 L221.7 217.3 L229.9 217.3 L238.1 216.8 L246.3 216.3 L246.3 217.7 L238.1 218.2 L229.9 218.7 L221.7 218.7 L213.5 218.0 L205.3 217.3Z" fill="#f8a898" fill-opacity="0.181"/>
<path d="M205.3 216.3 L213.5 216.7 L221.7 215.6 L229.9 215.0 L238.1 214.6 L246.3 214.1" fill="none" stroke="#2a6db3" stroke-width="0.9" stroke-linejoin="round"/>
<circle cx="205.3" cy="216.3" r="0.7" fill="#2a6db3"/>
<circle cx="213.5" cy="216.7" r="0.7" fill="#2a6db3"/>
<circle cx="221.7" cy="215.6" r="0.7" fill="#2a6db3"/>
<circle cx="229.9" cy="215.0" r="0.7" fill="#2a6db3"/>
<circle cx="238.1" cy="214.6" r="0.7" fill="#2a6db3"/>
<circle cx="246.3" cy="214.1" r="0.7" fill="#2a6db3"/>
<path d="M205.3 216.6 L213.5 217.3 L221.7 217.9 L229.9 217.9 L238.1 217.3 L246.3 217.0" fill="none" stroke="#e8262a" stroke-width="1.6" stroke-linejoin="round"/>
<text x="199.9" y="208.5" text-anchor="end" font-size="3.4" fill="#333" stroke="#333" stroke-width="0.1">5</text>
<text x="199.9" y="217.3" text-anchor="end" font-size="3.4" fill="#333" stroke="#333" stroke-width="0.1">0</text>
<text x="199.9" y="226.1" text-anchor="end" font-size="3.4" fill="#333" stroke="#333" stroke-width="0.1">-5</text>
<rect x="200.4" y="233.0" width="50.7" height="29.5" fill="#fff" stroke="#8c8c8c" stroke-width="0.9"/>
<path d="M205.3 247.8 L213.5 247.0 L221.7 249.0 L229.9 249.5 L238.1 249.8 L246.3 250.0 L246.3 252.0 L238.1 252.0 L229.9 252.0 L221.7 251.5 L213.5 250.0 L205.3 250.0Z" fill="#c8d4f0" fill-opacity="0.157"/>
<path d="M205.3 248.2 L213.5 247.5 L221.7 249.4 L229.9 249.9 L238.1 250.2 L246.3 250.3 L246.3 251.7 L238.1 251.6 L229.9 251.6 L221.7 251.1 L213.5 249.5 L205.3 249.6Z" fill="#c8d4f0" fill-opacity="0.157"/>
<path d="M205.3 248.5 L213.5 248.0 L221.7 249.8 L229.9 250.3 L238.1 250.5 L246.3 250.7 L246.3 251.3 L238.1 251.3 L229.9 251.2 L221.7 250.7 L213.5 249.0 L205.3 249.3Z" fill="#c8d4f0" fill-opacity="0.157"/>
<path d="M205.3 245.0 L213.5 243.3 L221.7 243.0 L229.9 244.0 L238.1 244.7 L246.3 245.5 L246.3 247.7 L238.1 247.0 L229.9 246.4 L221.7 245.5 L213.5 245.7 L205.3 247.4Z" fill="#f89070" fill-opacity="0.234"/>
<path d="M205.3 245.4 L213.5 243.7 L221.7 243.4 L229.9 244.4 L238.1 245.1 L246.3 245.9 L246.3 247.3 L238.1 246.6 L229.9 246.0 L221.7 245.1 L213.5 245.3 L205.3 247.0Z" fill="#f89070" fill-opacity="0.234"/>
<path d="M205.3 245.8 L213.5 244.1 L221.7 243.8 L229.9 244.8 L238.1 245.5 L246.3 246.2 L246.3 247.0 L238.1 246.2 L229.9 245.6 L221.7 244.7 L213.5 244.9 L205.3 246.6Z" fill="#f89070" fill-opacity="0.234"/>
<path d="M205.3 247.6 L213.5 246.3 L221.7 248.7 L229.9 249.0 L238.1 249.2 L246.3 249.4" fill="none" stroke="#2a6db3" stroke-width="0.9" stroke-linejoin="round"/>
<circle cx="205.3" cy="247.6" r="0.7" fill="#2a6db3"/>
<circle cx="213.5" cy="246.3" r="0.7" fill="#2a6db3"/>
<circle cx="221.7" cy="248.7" r="0.7" fill="#2a6db3"/>
<circle cx="229.9" cy="249.0" r="0.7" fill="#2a6db3"/>
<circle cx="238.1" cy="249.2" r="0.7" fill="#2a6db3"/>
<circle cx="246.3" cy="249.4" r="0.7" fill="#2a6db3"/>
<path d="M205.3 247.4 L213.5 245.7 L221.7 245.5 L229.9 246.4 L238.1 247.0 L246.3 247.7" fill="none" stroke="#e8262a" stroke-width="1.5" stroke-linejoin="round"/>
<text x="199.9" y="240.2" text-anchor="end" font-size="3.4" fill="#333" stroke="#333" stroke-width="0.1">5</text>
<text x="199.9" y="249.5" text-anchor="end" font-size="3.4" fill="#333" stroke="#333" stroke-width="0.1">0</text>
<text x="199.9" y="258.3" text-anchor="end" font-size="3.4" fill="#333" stroke="#333" stroke-width="0.1">-5</text>
<rect x="200.4" y="268.2" width="50.7" height="28.1" fill="#fff" stroke="#8c8c8c" stroke-width="0.9"/>
<path d="M205.3 289.3 L213.5 288.3 L221.7 286.8 L229.9 286.3 L238.1 286.8 L246.3 287.3 L246.3 291.2 L238.1 290.5 L229.9 290.3 L221.7 290.2 L213.5 290.8 L205.3 291.5Z" fill="#f8b8a8" fill-opacity="0.134"/>
<path d="M205.3 289.7 L213.5 288.7 L221.7 287.4 L229.9 287.0 L238.1 287.4 L246.3 288.0 L246.3 290.5 L238.1 289.9 L229.9 289.6 L221.7 289.6 L213.5 290.4 L205.3 291.1Z" fill="#f8b8a8" fill-opacity="0.134"/>
<path d="M205.3 290.0 L213.5 289.1 L221.7 287.9 L229.9 287.6 L238.1 288.0 L246.3 288.6 L246.3 289.9 L238.1 289.3 L229.9 289.0 L221.7 289.1 L213.5 290.0 L205.3 290.8Z" fill="#f8b8a8" fill-opacity="0.134"/>
<path d="M205.3 290.8 L213.5 289.9 L221.7 289.3 L229.9 289.4 L238.1 289.7 L246.3 290.4" fill="none" stroke="#2a6db3" stroke-width="0.9" stroke-linejoin="round"/>
<circle cx="205.3" cy="290.8" r="0.7" fill="#2a6db3"/>
<circle cx="213.5" cy="289.9" r="0.7" fill="#2a6db3"/>
<circle cx="221.7" cy="289.3" r="0.7" fill="#2a6db3"/>
<circle cx="229.9" cy="289.4" r="0.7" fill="#2a6db3"/>
<circle cx="238.1" cy="289.7" r="0.7" fill="#2a6db3"/>
<circle cx="246.3" cy="290.4" r="0.7" fill="#2a6db3"/>
<path d="M205.3 290.2 L213.5 289.3 L221.7 288.0 L229.9 287.6 L238.1 288.0 L246.3 288.5" fill="none" stroke="#e8262a" stroke-width="0.9" stroke-linejoin="round"/>
<circle cx="205.3" cy="290.2" r="0.7" fill="#e8262a"/>
<circle cx="213.5" cy="289.3" r="0.7" fill="#e8262a"/>
<circle cx="221.7" cy="288.0" r="0.7" fill="#e8262a"/>
<circle cx="229.9" cy="287.6" r="0.7" fill="#e8262a"/>
<circle cx="238.1" cy="288.0" r="0.7" fill="#e8262a"/>
<circle cx="246.3" cy="288.5" r="0.7" fill="#e8262a"/>
<text x="199.9" y="270.1" text-anchor="end" font-size="3.4" fill="#333" stroke="#333" stroke-width="0.1">9</text>
<text x="199.9" y="277.3" text-anchor="end" font-size="3.4" fill="#333" stroke="#333" stroke-width="0.1">6</text>
<text x="199.9" y="284.6" text-anchor="end" font-size="3.4" fill="#333" stroke="#333" stroke-width="0.1">3</text>
<text x="199.9" y="291.9" text-anchor="end" font-size="3.4" fill="#333" stroke="#333" stroke-width="0.1">0</text>
<rect x="200.4" y="300.8" width="50.7" height="28.4" fill="#fff" stroke="#8c8c8c" stroke-width="0.9"/>
<path d="M205.3 315.5 L213.5 315.5 L221.7 315.3 L229.9 315.3 L238.1 315.4 L246.3 315.7 L246.3 318.5 L238.1 319.0 L229.9 319.5 L221.7 319.5 L213.5 319.0 L205.3 318.5Z" fill="#c8d4f0" fill-opacity="0.181"/>
<path d="M205.3 316.0 L213.5 316.1 L221.7 316.0 L229.9 316.0 L238.1 316.0 L246.3 316.2 L246.3 318.0 L238.1 318.4 L229.9 318.8 L221.7 318.8 L213.5 318.4 L205.3 318.0Z" fill="#c8d4f0" fill-opacity="0.181"/>
<path d="M205.3 316.5 L213.5 316.7 L221.7 316.7 L229.9 316.7 L238.1 316.6 L246.3 316.6 L246.3 317.6 L238.1 317.8 L229.9 318.1 L221.7 318.1 L213.5 317.8 L205.3 317.5Z" fill="#c8d4f0" fill-opacity="0.181"/>
<path d="M205.3 313.3 L213.5 312.2 L221.7 310.5 L229.9 310.3 L238.1 311.2 L246.3 312.5 L246.3 314.7 L238.1 313.4 L229.9 312.5 L221.7 312.7 L213.5 314.4 L205.3 315.3Z" fill="#f8a080" fill-opacity="0.181"/>
<path d="M205.3 313.6 L213.5 312.6 L221.7 310.9 L229.9 310.7 L238.1 311.6 L246.3 312.9 L246.3 314.3 L238.1 313.0 L229.9 312.1 L221.7 312.3 L213.5 314.0 L205.3 315.0Z" fill="#f8a080" fill-opacity="0.181"/>
<path d="M205.3 314.0 L213.5 312.9 L221.7 311.2 L229.9 311.0 L238.1 311.9 L246.3 313.2 L246.3 314.0 L238.1 312.7 L229.9 311.8 L221.7 312.0 L213.5 313.7 L205.3 314.6Z" fill="#f8a080" fill-opacity="0.181"/>
<path d="M205.3 315.6 L213.5 315.5 L221.7 315.3 L229.9 315.3 L238.1 315.4 L246.3 315.7" fill="none" stroke="#2a6db3" stroke-width="1.3" stroke-linejoin="round"/>
<path d="M205.3 315.3 L213.5 314.4 L221.7 312.7 L229.9 312.5 L238.1 313.4 L246.3 314.7" fill="none" stroke="#e8262a" stroke-width="2.2" stroke-linejoin="round"/>
<text x="199.9" y="308.6" text-anchor="end" font-size="3.4" fill="#333" stroke="#333" stroke-width="0.1">4</text>
<text x="199.9" y="317.0" text-anchor="end" font-size="3.4" fill="#333" stroke="#333" stroke-width="0.1">0</text>
<text x="199.9" y="325.5" text-anchor="end" font-size="3.4" fill="#333" stroke="#333" stroke-width="0.1">-4</text>
<rect x="200.4" y="334.3" width="50.7" height="29.1" fill="#fff" stroke="#8c8c8c" stroke-width="0.9"/>
<path d="M205.3 346.0 L213.5 348.0 L221.7 349.5 L229.9 349.5 L238.1 349.0 L246.3 348.5 L246.3 350.0 L238.1 351.0 L229.9 352.0 L221.7 352.0 L213.5 350.0 L205.3 347.5Z" fill="#c8d4f0" fill-opacity="0.157"/>
<path d="M205.3 346.3 L213.5 348.3 L221.7 349.9 L229.9 349.9 L238.1 349.3 L246.3 348.8 L246.3 349.7 L238.1 350.7 L229.9 351.6 L221.7 351.6 L213.5 349.7 L205.3 347.2Z" fill="#c8d4f0" fill-opacity="0.157"/>
<path d="M205.3 346.5 L213.5 348.7 L221.7 350.3 L229.9 350.3 L238.1 349.7 L246.3 349.0 L246.3 349.5 L238.1 350.3 L229.9 351.2 L221.7 351.2 L213.5 349.3 L205.3 347.0Z" fill="#c8d4f0" fill-opacity="0.157"/>
<path d="M205.3 345.0 L213.5 346.0 L221.7 347.5 L229.9 347.0 L238.1 345.0 L246.3 343.0 L246.3 345.7 L238.1 347.4 L229.9 348.7 L221.7 349.0 L213.5 346.7 L205.3 345.4Z" fill="#f8a080" fill-opacity="0.206"/>
<path d="M205.3 345.1 L213.5 346.1 L221.7 347.8 L229.9 347.3 L238.1 345.4 L246.3 343.5 L246.3 345.2 L238.1 347.0 L229.9 348.4 L221.7 348.7 L213.5 346.6 L205.3 345.3Z" fill="#f8a080" fill-opacity="0.206"/>
<path d="M205.3 345.1 L213.5 346.2 L221.7 348.0 L229.9 347.6 L238.1 345.8 L246.3 343.9 L246.3 344.8 L238.1 346.6 L229.9 348.1 L221.7 348.5 L213.5 346.5 L205.3 345.3Z" fill="#f8a080" fill-opacity="0.206"/>
<path d="M205.3 345.6 L213.5 347.5 L221.7 349.0 L229.9 349.0 L238.1 348.5 L246.3 348.0" fill="none" stroke="#2a6db3" stroke-width="1.3" stroke-linejoin="round"/>
<path d="M205.3 345.4 L213.5 346.7 L221.7 349.0 L229.9 348.7 L238.1 347.4 L246.3 345.7" fill="none" stroke="#e8262a" stroke-width="2.4" stroke-linejoin="round"/>
<text x="199.9" y="340.5" text-anchor="end" font-size="3.4" fill="#333" stroke="#333" stroke-width="0.1">2</text>
<text x="199.9" y="346.8" text-anchor="end" font-size="3.4" fill="#333" stroke="#333" stroke-width="0.1">0</text>
<text x="199.9" y="352.9" text-anchor="end" font-size="3.4" fill="#333" stroke="#333" stroke-width="0.1">-2</text>
<text x="199.9" y="358.5" text-anchor="end" font-size="3.4" fill="#333" stroke="#333" stroke-width="0.1">-4</text>
<text x="199.9" y="363.4" text-anchor="end" font-size="3.4" fill="#333" stroke="#333" stroke-width="0.1">-6</text>
<rect x="200.4" y="369.5" width="50.7" height="29.5" fill="#fff" stroke="#8c8c8c" stroke-width="0.9"/>
<path d="M205.3 385.0 L213.5 384.0 L221.7 383.0 L229.9 382.5 L238.1 382.0 L246.3 381.7 L246.3 386.0 L238.1 386.6 L229.9 386.8 L221.7 387.0 L213.5 387.0 L205.3 387.3Z" fill="#c8d4f0" fill-opacity="0.181"/>
<path d="M205.3 385.4 L213.5 384.5 L221.7 383.7 L229.9 383.2 L238.1 382.8 L246.3 382.4 L246.3 385.3 L238.1 385.8 L229.9 386.1 L221.7 386.3 L213.5 386.5 L205.3 386.9Z" fill="#c8d4f0" fill-opacity="0.181"/>
<path d="M205.3 385.8 L213.5 385.0 L221.7 384.3 L229.9 383.9 L238.1 383.5 L246.3 383.1 L246.3 384.6 L238.1 385.1 L229.9 385.4 L221.7 385.7 L213.5 386.0 L205.3 386.5Z" fill="#c8d4f0" fill-opacity="0.181"/>
<path d="M205.3 387.7 L213.5 388.8 L221.7 389.8 L229.9 389.9 L238.1 389.4 L246.3 388.3 L246.3 389.2 L238.1 390.5 L229.9 391.0 L221.7 391.0 L213.5 390.0 L205.3 388.5Z" fill="#ee3a22" fill-opacity="0.415"/>
<path d="M205.3 387.8 L213.5 389.0 L221.7 390.0 L229.9 390.1 L238.1 389.6 L246.3 388.5 L246.3 389.0 L238.1 390.3 L229.9 390.8 L221.7 390.8 L213.5 389.8 L205.3 388.4Z" fill="#ee3a22" fill-opacity="0.415"/>
<path d="M205.3 388.0 L213.5 389.2 L221.7 390.2 L229.9 390.3 L238.1 389.8 L246.3 388.6 L246.3 388.9 L238.1 390.1 L229.9 390.6 L221.7 390.6 L213.5 389.6 L205.3 388.2Z" fill="#ee3a22" fill-opacity="0.415"/>
<path d="M205.3 387.3 L213.5 387.0 L221.7 387.0 L229.9 386.8 L238.1 386.6 L246.3 386.0" fill="none" stroke="#2a6db3" stroke-width="1.2" stroke-linejoin="round"/>
<path d="M205.3 387.7 L213.5 388.8 L221.7 389.8 L229.9 389.9 L238.1 389.4 L246.3 388.3" fill="none" stroke="#e8262a" stroke-width="1.5" stroke-linejoin="round"/>
<text x="199.9" y="372.5" text-anchor="end" font-size="3.4" fill="#333" stroke="#333" stroke-width="0.1">7.5</text>
<text x="199.9" y="377.2" text-anchor="end" font-size="3.4" fill="#333" stroke="#333" stroke-width="0.1">5</text>
<text x="199.9" y="383.0" text-anchor="end" font-size="3.4" fill="#333" stroke="#333" stroke-width="0.1">2.5</text>
<text x="199.9" y="388.8" text-anchor="end" font-size="3.4" fill="#333" stroke="#333" stroke-width="0.1">0</text>
<text x="199.9" y="393.9" text-anchor="end" font-size="3.4" fill="#333" stroke="#333" stroke-width="0.1">-2.5</text>
<text x="199.9" y="398.7" text-anchor="end" font-size="3.4" fill="#333" stroke="#333" stroke-width="0.1">-5</text>
<rect x="200.4" y="403.0" width="50.7" height="27.7" fill="#fff" stroke="#8c8c8c" stroke-width="0.9"/>
<path d="M205.3 411.5 L213.5 412.2 L221.7 412.9 L229.9 413.6 L238.1 414.2 L246.3 414.7 L246.3 420.6 L238.1 419.0 L229.9 417.5 L221.7 416.0 L213.5 414.5 L205.3 413.0Z" fill="#c8d4f0" fill-opacity="0.206"/>
<path d="M205.3 411.8 L213.5 412.6 L221.7 413.4 L229.9 414.3 L238.1 415.0 L246.3 415.7 L246.3 419.6 L238.1 418.2 L229.9 416.8 L221.7 415.5 L213.5 414.1 L205.3 412.7Z" fill="#c8d4f0" fill-opacity="0.206"/>
<path d="M205.3 412.0 L213.5 413.0 L221.7 413.9 L229.9 414.9 L238.1 415.8 L246.3 416.7 L246.3 418.6 L238.1 417.4 L229.9 416.2 L221.7 415.0 L213.5 413.7 L205.3 412.5Z" fill="#c8d4f0" fill-opacity="0.206"/>
<path d="M205.3 411.5 L213.5 412.1 L221.7 412.8 L229.9 413.4 L238.1 414.1 L246.3 414.7" fill="none" stroke="#2a6db3" stroke-width="1.2" stroke-linejoin="round"/>
<path d="M205.3 409.9 L213.5 410.6 L221.7 411.3 L229.9 412.0 L238.1 412.7 L246.3 413.4 L246.3 415.6 L238.1 415.0 L229.9 414.4 L221.7 413.7 L213.5 413.1 L205.3 412.5Z" fill="#e8302a" fill-opacity="0.536"/>
<path d="M205.3 410.3 L213.5 411.0 L221.7 411.7 L229.9 412.4 L238.1 413.1 L246.3 413.8 L246.3 415.2 L238.1 414.6 L229.9 414.0 L221.7 413.3 L213.5 412.7 L205.3 412.1Z" fill="#e8302a" fill-opacity="0.536"/>
<path d="M205.3 410.8 L213.5 411.4 L221.7 412.1 L229.9 412.8 L238.1 413.5 L246.3 414.1 L246.3 414.9 L238.1 414.2 L229.9 413.6 L221.7 412.9 L213.5 412.3 L205.3 411.6Z" fill="#e8302a" fill-opacity="0.536"/>
<text x="199.9" y="412.9" text-anchor="end" font-size="3.4" fill="#333" stroke="#333" stroke-width="0.1">0</text>
<text x="199.9" y="422.5" text-anchor="end" font-size="3.4" fill="#333" stroke="#333" stroke-width="0.1">-4</text>
<text x="199.9" y="432.2" text-anchor="end" font-size="3.4" fill="#333" stroke="#333" stroke-width="0.1">-8</text>
<rect x="200.4" y="437.4" width="50.7" height="29.4" fill="#fff" stroke="#8c8c8c" stroke-width="0.9"/>
<path d="M205.3 455.5 L213.5 454.0 L221.7 452.5 L229.9 451.0 L238.1 449.5 L246.3 448.0 L246.3 453.7 L238.1 454.2 L229.9 454.7 L221.7 455.3 L213.5 455.8 L205.3 456.3Z" fill="#c8d4f0" fill-opacity="0.234"/>
<path d="M205.3 455.6 L213.5 454.3 L221.7 453.0 L229.9 451.6 L238.1 450.3 L246.3 449.0 L246.3 452.7 L238.1 453.4 L229.9 454.1 L221.7 454.8 L213.5 455.5 L205.3 456.2Z" fill="#c8d4f0" fill-opacity="0.234"/>
<path d="M205.3 455.8 L213.5 454.6 L221.7 453.4 L229.9 452.3 L238.1 451.1 L246.3 449.9 L246.3 451.8 L238.1 452.6 L229.9 453.5 L221.7 454.3 L213.5 455.2 L205.3 456.0Z" fill="#c8d4f0" fill-opacity="0.234"/>
<path d="M205.3 457.2 L213.5 456.8 L221.7 456.4 L229.9 456.1 L238.1 455.7 L246.3 455.3 L246.3 459.0 L238.1 458.8 L229.9 458.6 L221.7 458.4 L213.5 458.2 L205.3 458.0Z" fill="#f8b0a0" fill-opacity="0.157"/>
<path d="M205.3 457.3 L213.5 457.1 L221.7 456.8 L229.9 456.5 L238.1 456.2 L246.3 455.9 L246.3 458.4 L238.1 458.3 L229.9 458.2 L221.7 458.1 L213.5 458.0 L205.3 457.9Z" fill="#f8b0a0" fill-opacity="0.157"/>
<path d="M205.3 457.5 L213.5 457.3 L221.7 457.1 L229.9 456.9 L238.1 456.7 L246.3 456.5 L246.3 457.8 L238.1 457.8 L229.9 457.7 L221.7 457.7 L213.5 457.7 L205.3 457.7Z" fill="#f8b0a0" fill-opacity="0.157"/>
<path d="M205.3 456.3 L213.5 455.8 L221.7 455.3 L229.9 454.7 L238.1 454.2 L246.3 453.7" fill="none" stroke="#2a6db3" stroke-width="1.5" stroke-linejoin="round"/>
<path d="M205.3 457.2 L213.5 456.8 L221.7 456.4 L229.9 456.1 L238.1 455.7 L246.3 455.3" fill="none" stroke="#e8262a" stroke-width="1.8" stroke-linejoin="round"/>
<text x="199.9" y="442.6" text-anchor="end" font-size="3.4" fill="#333" stroke="#333" stroke-width="0.1">10</text>
<text x="199.9" y="451.0" text-anchor="end" font-size="3.4" fill="#333" stroke="#333" stroke-width="0.1">5</text>
<text x="199.9" y="458.2" text-anchor="end" font-size="3.4" fill="#333" stroke="#333" stroke-width="0.1">0</text>
<text x="199.9" y="465.1" text-anchor="end" font-size="3.4" fill="#333" stroke="#333" stroke-width="0.1">-5</text>
<rect x="200.4" y="472.5" width="50.7" height="29.4" fill="#fff" stroke="#8c8c8c" stroke-width="0.9"/>
<path d="M205.3 487.6 L213.5 487.6 L221.7 487.6 L229.9 487.6 L238.1 487.5 L246.3 487.4 L246.3 494.8 L238.1 495.6 L229.9 496.5 L221.7 496.8 L213.5 495.5 L205.3 492.9Z" fill="#c8d4f0" fill-opacity="0.181"/>
<path d="M205.3 488.5 L213.5 488.9 L221.7 489.2 L229.9 489.1 L238.1 488.9 L246.3 488.7 L246.3 493.5 L238.1 494.2 L229.9 495.0 L221.7 495.2 L213.5 494.2 L205.3 492.0Z" fill="#c8d4f0" fill-opacity="0.181"/>
<path d="M205.3 489.4 L213.5 490.2 L221.7 490.7 L229.9 490.6 L238.1 490.2 L246.3 489.9 L246.3 492.3 L238.1 492.9 L229.9 493.5 L221.7 493.7 L213.5 492.9 L205.3 491.1Z" fill="#c8d4f0" fill-opacity="0.181"/>
<path d="M205.3 492.9 L213.5 495.5 L221.7 496.8 L229.9 496.5 L238.1 495.6 L246.3 494.8" fill="none" stroke="#8aa4d8" stroke-width="0.9" stroke-linejoin="round"/>
<path d="M205.3 482.4 L213.5 481.9 L221.7 481.4 L229.9 480.8 L238.1 480.3 L246.3 479.8 L246.3 485.0 L238.1 485.3 L229.9 485.5 L221.7 485.8 L213.5 486.0 L205.3 486.3Z" fill="#f06040" fill-opacity="0.295"/>
<path d="M205.3 483.1 L213.5 482.6 L221.7 482.1 L229.9 481.6 L238.1 481.2 L246.3 480.7 L246.3 484.1 L238.1 484.4 L229.9 484.7 L221.7 485.0 L213.5 485.3 L205.3 485.6Z" fill="#f06040" fill-opacity="0.295"/>
<path d="M205.3 483.7 L213.5 483.3 L221.7 482.8 L229.9 482.4 L238.1 482.0 L246.3 481.5 L246.3 483.3 L238.1 483.6 L229.9 484.0 L221.7 484.3 L213.5 484.6 L205.3 485.0Z" fill="#f06040" fill-opacity="0.295"/>
<path d="M205.3 487.6 L213.5 487.6 L221.7 487.6 L229.9 487.6 L238.1 487.5 L246.3 487.4" fill="none" stroke="#2a6db3" stroke-width="1.2" stroke-linejoin="round"/>
<circle cx="205.3" cy="487.6" r="0.7" fill="#2a6db3"/>
<circle cx="213.5" cy="487.6" r="0.7" fill="#2a6db3"/>
<circle cx="221.7" cy="487.6" r="0.7" fill="#2a6db3"/>
<circle cx="229.9" cy="487.6" r="0.7" fill="#2a6db3"/>
<circle cx="238.1" cy="487.5" r="0.7" fill="#2a6db3"/>
<circle cx="246.3" cy="487.4" r="0.7" fill="#2a6db3"/>
<path d="M205.3 486.3 L213.5 486.1 L221.7 486.2 L229.9 487.5 L238.1 489.6 L246.3 488.5" fill="none" stroke="#f07050" stroke-width="0.8" stroke-linejoin="round"/>
<path d="M205.3 486.3 L213.5 486.0 L221.7 485.8 L229.9 485.5 L238.1 485.3 L246.3 485.0" fill="none" stroke="#e8262a" stroke-width="1.6" stroke-linejoin="round"/>
<text x="199.9" y="480.5" text-anchor="end" font-size="3.4" fill="#333" stroke="#333" stroke-width="0.1">4</text>
<text x="199.9" y="487.9" text-anchor="end" font-size="3.4" fill="#333" stroke="#333" stroke-width="0.1">0</text>
<text x="199.9" y="495.6" text-anchor="end" font-size="3.4" fill="#333" stroke="#333" stroke-width="0.1">-4</text>
<text x="204.6" y="507.1" text-anchor="middle" font-size="4.6" fill="#222" stroke="#222" stroke-width="0.07">1</text>
<text x="212.8" y="507.1" text-anchor="middle" font-size="4.6" fill="#222" stroke="#222" stroke-width="0.07">3</text>
<text x="221.1" y="507.1" text-anchor="middle" font-size="4.6" fill="#222" stroke="#222" stroke-width="0.07">6</text>
<text x="229.4" y="507.1" text-anchor="middle" font-size="4.6" fill="#222" stroke="#222" stroke-width="0.07">9</text>
<text x="237.7" y="507.1" text-anchor="middle" font-size="4.6" fill="#222" stroke="#222" stroke-width="0.07">12</text>
<text x="245.5" y="507.1" text-anchor="middle" font-size="4.6" fill="#222" stroke="#222" stroke-width="0.07">24</text>
<text x="248.4" y="507.1" font-size="4.6" fill="#222" stroke="#222" stroke-width="0.07">(hai)</text>
<defs><linearGradient id="cb" x1="0" y1="0" x2="0" y2="1"><stop offset="0" stop-color="#945aac"/><stop offset="0.5" stop-color="#fafafa"/><stop offset="1" stop-color="#168a4c"/></linearGradient></defs>
<rect x="260.5" y="29" width="6.7" height="103.7" fill="url(#cb)"/>
<text x="269.7" y="33.7" font-size="6.2" fill="#222" stroke="#222" stroke-width="0.07">3</text>
<text x="269.7" y="50.6" font-size="6.2" fill="#222" stroke="#222" stroke-width="0.07">2</text>
<text x="269.7" y="67.6" font-size="6.2" fill="#222" stroke="#222" stroke-width="0.07">1</text>
<text x="269.7" y="84.5" font-size="6.2" fill="#222" stroke="#222" stroke-width="0.07">0</text>
<text x="269.7" y="101.5" font-size="6.2" fill="#222" stroke="#222" stroke-width="0.07">−1</text>
<text x="269.7" y="118.5" font-size="6.2" fill="#222" stroke="#222" stroke-width="0.07">−2</text>
<text x="269.7" y="135.4" font-size="6.2" fill="#222" stroke="#222" stroke-width="0.07">−3</text>
<rect x="292.0" y="52.4" width="98.9" height="70.6" fill="#fff" stroke="#8a8a8a" stroke-width="0.9"/>
<circle cx="329.0" cy="90.8" r="29.5" fill="#5ccdc2"/>
<circle cx="353.2" cy="90.8" r="29.5" fill="#f8f4b0"/>
<clipPath id="cp52"><circle cx="329.0" cy="90.8" r="29.5"/></clipPath>
<circle cx="353.2" cy="90.8" r="29.5" fill="#bdb8dc" clip-path="url(#cp52)"/>
<circle cx="353.2" cy="90.8" r="29.5" fill="none" stroke="#3a9fd0" stroke-width="1.1"/>
<circle cx="329.0" cy="90.8" r="29.5" fill="none" stroke="#ee5050" stroke-width="1.1"/>
<text x="325.0" y="59.25" text-anchor="middle" font-size="5.6" fill="#ee4b4b" stroke="#ee4b4b" stroke-width="0.07">Embryo</text>
<text x="360.8" y="59.25" text-anchor="middle" font-size="5.6" fill="#3a9fd0" stroke="#3a9fd0" stroke-width="0.07">Endosperm</text>
<text x="311.8" y="92.6" text-anchor="middle" font-size="5.7" fill="#1a1a1a" stroke="#1a1a1a" stroke-width="0.07">1269</text>
<text x="342.3" y="92.6" text-anchor="middle" font-size="5.7" fill="#1a1a1a" stroke="#1a1a1a" stroke-width="0.07">1144</text>
<text x="370.6" y="92.6" text-anchor="middle" font-size="5.7" fill="#1a1a1a" stroke="#1a1a1a" stroke-width="0.07">928</text>
<text x="340.75" y="131.3" text-anchor="middle" font-size="5.6" fill="#1a1a1a" stroke="#1a1a1a" stroke-width="0.07">consistently differentially expressed genes</text>
<rect x="291.7" y="182.3" width="98.9" height="70.6" fill="#fff" stroke="#8a8a8a" stroke-width="0.9"/>
<circle cx="328.7" cy="221.70000000000002" r="29.5" fill="#5ccdc2"/>
<circle cx="352.9" cy="221.70000000000002" r="29.5" fill="#f8f4b0"/>
<clipPath id="cp182"><circle cx="328.7" cy="221.70000000000002" r="29.5"/></clipPath>
<circle cx="352.9" cy="221.70000000000002" r="29.5" fill="#bdb8dc" clip-path="url(#cp182)"/>
<circle cx="352.9" cy="221.70000000000002" r="29.5" fill="none" stroke="#3a9fd0" stroke-width="1.1"/>
<circle cx="328.7" cy="221.70000000000002" r="29.5" fill="none" stroke="#ee5050" stroke-width="1.1"/>
<text x="324.7" y="189.15" text-anchor="middle" font-size="5.6" fill="#ee4b4b" stroke="#ee4b4b" stroke-width="0.07">Embryo</text>
<text x="360.5" y="189.15" text-anchor="middle" font-size="5.6" fill="#3a9fd0" stroke="#3a9fd0" stroke-width="0.07">Endosperm</text>
<text x="311.8" y="223.75" text-anchor="middle" font-size="5.7" fill="#1a1a1a" stroke="#1a1a1a" stroke-width="0.07">287</text>
<text x="340.4" y="223.75" text-anchor="middle" font-size="5.7" fill="#1a1a1a" stroke="#1a1a1a" stroke-width="0.07">0</text>
<text x="370.6" y="223.75" text-anchor="middle" font-size="5.7" fill="#1a1a1a" stroke="#1a1a1a" stroke-width="0.07">107</text>
<text x="343.25" y="260.7" text-anchor="middle" font-size="5.6" fill="#1a1a1a" stroke="#1a1a1a" stroke-width="0.07">Early stage</text>
<rect x="291.5" y="306.7" width="98.9" height="70.6" fill="#fff" stroke="#8a8a8a" stroke-width="0.9"/>
<circle cx="328.5" cy="345.9" r="29.5" fill="#5ccdc2"/>
<circle cx="352.7" cy="345.9" r="29.5" fill="#f8f4b0"/>
<clipPath id="cp306"><circle cx="328.5" cy="345.9" r="29.5"/></clipPath>
<circle cx="352.7" cy="345.9" r="29.5" fill="#bdb8dc" clip-path="url(#cp306)"/>
<circle cx="352.7" cy="345.9" r="29.5" fill="none" stroke="#3a9fd0" stroke-width="1.1"/>
<circle cx="328.5" cy="345.9" r="29.5" fill="none" stroke="#ee5050" stroke-width="1.1"/>
<text x="324.5" y="313.55" text-anchor="middle" font-size="5.6" fill="#ee4b4b" stroke="#ee4b4b" stroke-width="0.07">Embryo</text>
<text x="360.3" y="313.55" text-anchor="middle" font-size="5.6" fill="#3a9fd0" stroke="#3a9fd0" stroke-width="0.07">Endosperm</text>
<text x="311.8" y="348.05" text-anchor="middle" font-size="5.7" fill="#1a1a1a" stroke="#1a1a1a" stroke-width="0.07">270</text>
<text x="340.7" y="348.05" text-anchor="middle" font-size="5.7" fill="#1a1a1a" stroke="#1a1a1a" stroke-width="0.07">86</text>
<text x="370.6" y="348.05" text-anchor="middle" font-size="5.7" fill="#1a1a1a" stroke="#1a1a1a" stroke-width="0.07">926</text>
<text x="339.8" y="383.3" text-anchor="middle" font-size="5.6" fill="#1a1a1a" stroke="#1a1a1a" stroke-width="0.07">Intermediate stage</text>
<rect x="291.7" y="417.4" width="98.9" height="70.6" fill="#fff" stroke="#8a8a8a" stroke-width="0.9"/>
<circle cx="328.7" cy="457.0" r="29.5" fill="#5ccdc2"/>
<circle cx="352.9" cy="457.0" r="29.5" fill="#f8f4b0"/>
<clipPath id="cp417"><circle cx="328.7" cy="457.0" r="29.5"/></clipPath>
<circle cx="352.9" cy="457.0" r="29.5" fill="#bdb8dc" clip-path="url(#cp417)"/>
<circle cx="352.9" cy="457.0" r="29.5" fill="none" stroke="#3a9fd0" stroke-width="1.1"/>
<circle cx="328.7" cy="457.0" r="29.5" fill="none" stroke="#ee5050" stroke-width="1.1"/>
<text x="324.7" y="424.25" text-anchor="middle" font-size="5.6" fill="#ee4b4b" stroke="#ee4b4b" stroke-width="0.07">Embryo</text>
<text x="360.5" y="424.25" text-anchor="middle" font-size="5.6" fill="#3a9fd0" stroke="#3a9fd0" stroke-width="0.07">Endosperm</text>
<text x="311.8" y="459.05" text-anchor="middle" font-size="5.7" fill="#1a1a1a" stroke="#1a1a1a" stroke-width="0.07">594</text>
<text x="340.7" y="459.05" text-anchor="middle" font-size="5.7" fill="#1a1a1a" stroke="#1a1a1a" stroke-width="0.07">6</text>
<text x="370.6" y="459.05" text-anchor="middle" font-size="5.7" fill="#1a1a1a" stroke="#1a1a1a" stroke-width="0.07">822</text>
<text x="344.2" y="494.7" text-anchor="middle" font-size="5.6" fill="#1a1a1a" stroke="#1a1a1a" stroke-width="0.07">late stage</text>
<text x="6.5" y="12.3" font-size="8.8" fill="#222" stroke="#222" stroke-width="0.1">A</text>
<text x="279.8" y="48.3" font-size="8.8" fill="#222" stroke="#222" stroke-width="0.1">B</text>
<text x="279.4" y="178.5" font-size="8.8" fill="#222" stroke="#222" stroke-width="0.1">C</text>
<text x="279.6" y="304.1" font-size="8.8" fill="#222" stroke="#222" stroke-width="0.1">D</text>
<text x="279.6" y="417.3" font-size="8.8" fill="#222" stroke="#222" stroke-width="0.1">E</text>
<text x="54.2" y="13.3" text-anchor="end" font-size="5.6" fill="#222" stroke="#222" stroke-width="0.07">Tissue</text>
<text x="56.2" y="25.0" text-anchor="end" font-size="5.6" fill="#222" stroke="#222" stroke-width="0.07">Sample</text>
<rect x="32.2" y="510.7" width="9.8" height="9.7" fill="#1fb89b"/>
<text x="43.8" y="517.6" font-size="5.6" fill="#222" stroke="#222" stroke-width="0.07">End_1h</text>
<rect x="66.9" y="510.7" width="9.8" height="9.7" fill="#b3a3d6"/>
<text x="78.5" y="517.6" font-size="5.6" fill="#222" stroke="#222" stroke-width="0.07">End_3h</text>
<rect x="100.8" y="510.7" width="9.8" height="9.7" fill="#fca234"/>
<text x="112.4" y="517.6" font-size="5.6" fill="#222" stroke="#222" stroke-width="0.07">End_6h</text>
<rect x="135.0" y="510.7" width="9.8" height="9.7" fill="#3cb822"/>
<text x="146.6" y="517.6" font-size="5.6" fill="#222" stroke="#222" stroke-width="0.07">End_9h</text>
<rect x="167.9" y="510.7" width="9.8" height="9.7" fill="#18b0ec"/>
<text x="179.5" y="517.6" font-size="5.6" fill="#222" stroke="#222" stroke-width="0.07">End_12h</text>
<rect x="204.3" y="510.7" width="9.8" height="9.7" fill="#1cbccc"/>
<text x="215.9" y="517.6" font-size="5.6" fill="#222" stroke="#222" stroke-width="0.07">End_24h</text>
<rect x="32.2" y="522.3" width="9.8" height="9.7" fill="#fa8a80"/>
<text x="43.8" y="529.2" font-size="5.6" fill="#222" stroke="#222" stroke-width="0.07">Emb_1h</text>
<rect x="66.9" y="522.3" width="9.8" height="9.7" fill="#e6ac12"/>
<text x="78.5" y="529.2" font-size="5.6" fill="#222" stroke="#222" stroke-width="0.07">Emb_3h</text>
<rect x="100.8" y="522.3" width="9.8" height="9.7" fill="#d496cc"/>
<text x="112.4" y="529.2" font-size="5.6" fill="#222" stroke="#222" stroke-width="0.07">Emb_6h</text>
<rect x="135.0" y="522.3" width="9.8" height="9.7" fill="#10b064"/>
<text x="146.6" y="529.2" font-size="5.6" fill="#222" stroke="#222" stroke-width="0.07">Emb_9h</text>
<rect x="167.9" y="522.3" width="9.8" height="9.7" fill="#f882b8"/>
<text x="179.5" y="529.2" font-size="5.6" fill="#222" stroke="#222" stroke-width="0.07">Emb_12h</text>
<rect x="204.3" y="522.3" width="9.8" height="9.7" fill="#16baf0"/>
<text x="215.9" y="529.2" font-size="5.6" fill="#222" stroke="#222" stroke-width="0.07">Emb_24h</text>
<rect x="32.2" y="535.5" width="9.8" height="9.8" fill="#f21d1d"/>
<text x="44.1" y="542.4" font-size="5.6" fill="#222" stroke="#222" stroke-width="0.07">Endosperm</text>
<rect x="76.2" y="535.5" width="9.8" height="9.8" fill="#1a6eae"/>
<text x="88.0" y="542.4" font-size="5.6" fill="#222" stroke="#222" stroke-width="0.07">Embryo</text>
<path d="M117.2 540.3H126.6" stroke="#1f6fb8" stroke-width="1.4"/><circle cx="121.9" cy="540.3" r="1.5" fill="#1f6fb8"/>
<text x="131.0" y="542.4" font-size="5.6" fill="#222" stroke="#222" stroke-width="0.07">Emb</text>
<path d="M152.8 540.3H162.6" stroke="#ee1c1c" stroke-width="1.4"/><circle cx="157.7" cy="540.3" r="1.5" fill="#ee1c1c"/>
<text x="167.0" y="542.4" font-size="5.6" fill="#222" stroke="#222" stroke-width="0.07">End</text>
</svg>
</body></html>
